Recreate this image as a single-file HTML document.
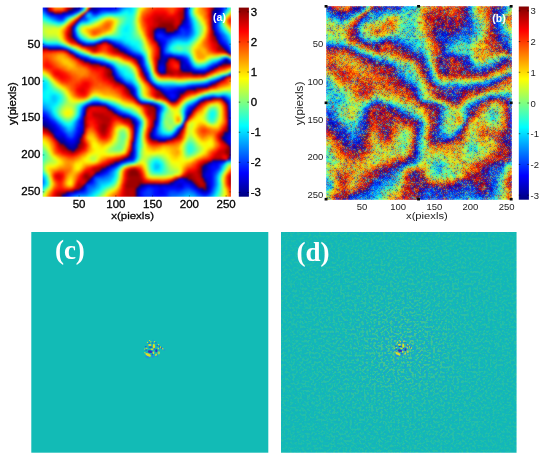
<!DOCTYPE html><html><head><meta charset="utf-8"><title>figure</title><style>html,body{margin:0;padding:0;background:#fff}svg{display:block}text{font-family:"Liberation Sans",Arial,sans-serif;fill:#000;stroke:#000;stroke-width:.3px}.n{stroke:none;fill:#1c1c1c}.s{font-family:"Liberation Serif","Times New Roman",serif;font-weight:bold;fill:#fff;stroke:none}.w{fill:#fff;font-weight:bold;stroke:none}</style></head><body>
<svg width="550" height="460" viewBox="0 0 550 460">
<defs>
<filter id="bl" x="30" y="0" width="215" height="210" filterUnits="userSpaceOnUse" color-interpolation-filters="sRGB"><feGaussianBlur stdDeviation="0.9"/></filter>
<filter id="nb" x="326.2" y="6.3" width="185.1" height="192.9" filterUnits="userSpaceOnUse" color-interpolation-filters="sRGB"><feTurbulence type="fractalNoise" baseFrequency="1.37" numOctaves="2" seed="7" result="t"/><feColorMatrix in="t" type="matrix" values="1 0 0 0 0 1 0 0 0 0 1 0 0 0 0 0 0 0 0 1" result="n0"/><feComponentTransfer in="n0" result="n"><feFuncR type="table" tableValues="0.250 0.250 0.250 0.250 0.250 0.250 0.250 0.250 0.250 0.250 0.281 0.319 0.352 0.380 0.405 0.426 0.444 0.460 0.474 0.487 0.500 0.513 0.526 0.540 0.556 0.574 0.595 0.620 0.648 0.681 0.719 0.750 0.750 0.750 0.750 0.750 0.750 0.750 0.750 0.750 0.750"/><feFuncG type="table" tableValues="0.250 0.250 0.250 0.250 0.250 0.250 0.250 0.250 0.250 0.250 0.281 0.319 0.352 0.380 0.405 0.426 0.444 0.460 0.474 0.487 0.500 0.513 0.526 0.540 0.556 0.574 0.595 0.620 0.648 0.681 0.719 0.750 0.750 0.750 0.750 0.750 0.750 0.750 0.750 0.750 0.750"/><feFuncB type="table" tableValues="0.250 0.250 0.250 0.250 0.250 0.250 0.250 0.250 0.250 0.250 0.281 0.319 0.352 0.380 0.405 0.426 0.444 0.460 0.474 0.487 0.500 0.513 0.526 0.540 0.556 0.574 0.595 0.620 0.648 0.681 0.719 0.750 0.750 0.750 0.750 0.750 0.750 0.750 0.750 0.750 0.750"/></feComponentTransfer><feComposite in="SourceGraphic" in2="n" operator="arithmetic" k1="0" k2="1" k3="1" k4="-0.5" result="s"/><feComponentTransfer in="s" result="c"><feFuncR type="table" tableValues="0.5 0.562 0.625 0.688 0.75 0.812 0.875 0.938 1 1 1 1 1 1 1 1 1 1 1 1 1 1 1 1 1 0.938 0.875 0.812 0.75 0.688 0.625 0.562 0 0 0 0 0 0 0 0 0 0 0 0 0 0 0 0 0 0 0 0 0 0 0 0 0 0.062 0.125 0.188 0.25 0.312 0.375 0.438 0.5 0.562 0.625 0.688 0.75 0.812 0.875 0.938 1 1 1 1 1 1 1 1 1 1 1 1 1 1 1 1 1 0.938 0.875 0.812 0.75 0.688 0.625 0.562 0 0 0 0 0 0 0 0 0 0 0 0 0 0 0 0 0 0 0 0 0 0 0 0 0 0.062 0.125 0.188 0.25 0.312 0.375 0.438 0.5"/><feFuncG type="table" tableValues="1 1 1 1 1 1 1 1 1 0.938 0.875 0.812 0.75 0.688 0.625 0.562 0.5 0.438 0.375 0.312 0.25 0.188 0.125 0.062 0 0 0 0 0 0 0 0 0 0 0 0 0 0 0 0 0 0.062 0.125 0.188 0.25 0.312 0.375 0.438 0.5 0.562 0.625 0.688 0.75 0.812 0.875 0.938 1 1 1 1 1 1 1 1 1 1 1 1 1 1 1 1 1 0.938 0.875 0.812 0.75 0.688 0.625 0.562 0.5 0.438 0.375 0.312 0.25 0.188 0.125 0.062 0 0 0 0 0 0 0 0 0 0 0 0 0 0 0 0 0 0.062 0.125 0.188 0.25 0.312 0.375 0.438 0.5 0.562 0.625 0.688 0.75 0.812 0.875 0.938 1 1 1 1 1 1 1 1 1"/><feFuncB type="table" tableValues="0.5 0.438 0.375 0.312 0.25 0.188 0.125 0.062 0 0 0 0 0 0 0 0 0 0 0 0 0 0 0 0 0 0 0 0 0 0 0 0 0.5 0.562 0.625 0.688 0.75 0.812 0.875 0.938 1 1 1 1 1 1 1 1 1 1 1 1 1 1 1 1 1 0.938 0.875 0.812 0.75 0.688 0.625 0.562 0.5 0.438 0.375 0.312 0.25 0.188 0.125 0.062 0 0 0 0 0 0 0 0 0 0 0 0 0 0 0 0 0 0 0 0 0 0 0 0 0.5 0.562 0.625 0.688 0.75 0.812 0.875 0.938 1 1 1 1 1 1 1 1 1 1 1 1 1 1 1 1 1 0.938 0.875 0.812 0.75 0.688 0.625 0.562 0.5"/></feComponentTransfer><feGaussianBlur in="c" stdDeviation="0.8" result="g"/><feComposite in="c" in2="g" operator="arithmetic" k1="0" k2="0.3" k3="0.7" k4="0"/></filter>
<filter id="bb" x="-16" y="-14" width="34" height="30" filterUnits="userSpaceOnUse" color-interpolation-filters="sRGB"><feGaussianBlur stdDeviation="0.45"/></filter>
<filter id="nd" x="281" y="232" width="235.5" height="220.7" filterUnits="userSpaceOnUse" color-interpolation-filters="sRGB"><feTurbulence type="fractalNoise" baseFrequency="0.42" numOctaves="3" seed="11"/><feColorMatrix type="matrix" values="3.2 0 0 0 -1.1 3.2 0 0 0 -1.1 3.2 0 0 0 -1.1 0 0 0 0 1"/><feComponentTransfer><feFuncR type="table" tableValues="0.16 0.07 0.5"/><feFuncG type="table" tableValues="0.56 0.733 0.8"/><feFuncB type="table" tableValues="0.88 0.714 0.43"/></feComponentTransfer><feGaussianBlur stdDeviation="0.6"/></filter>
<radialGradient id="rg" gradientUnits="userSpaceOnUse" cx="402.5" cy="348" r="160"><stop offset="0" stop-color="#fff" stop-opacity="0.7"/><stop offset="0.1" stop-color="#fff" stop-opacity="0.52"/><stop offset="0.35" stop-color="#fff" stop-opacity="0.28"/><stop offset="1" stop-color="#fff" stop-opacity="0.12"/></radialGradient><mask id="md" maskUnits="userSpaceOnUse" x="281" y="232" width="236" height="221"><rect x="281" y="232" width="236" height="221" fill="url(#rg)"/></mask>
</defs>
<rect width="550" height="460" fill="#fff"/>
<clipPath id="ca"><rect x="42.7" y="7.6" width="188.2" height="189.1"/></clipPath>
<g clip-path="url(#ca)"><g filter="url(#bl)"><g transform="translate(40,7) scale(2)" stroke-width="1" shape-rendering="crispEdges" fill="none">
<path stroke="#00008a" d="M17 0h2M87 0h1M16 1h2M25 1h1M72 1h1M87 1h1M14 2h2M72 2h1M86 2h1M6 3h1M11 3h1M72 3h1M71 7h1M70 9h1M69 10h1M61 11h2M86 11h1M57 12h1M62 12h1M67 12h1M63 13h3M87 14h1M16 15h1M57 16h1M19 18h1M30 18h1M34 18h1M21 19h1M59 19h1M37 20h1M4 21h7M39 21h1M40 22h1M60 22h1M93 22h1M15 23h1M42 23h1M60 23h1M44 24h1M60 24h1M18 25h1M46 25h1M60 25h1M20 26h1M63 26h1M68 26h1M22 27h1M59 27h1M63 27h1M93 27h1M25 28h1M49 28h1M59 28h1M70 28h1M92 28h2M30 29h1M70 29h1M90 29h1M33 30h1M50 30h1M70 30h1M88 30h1M70 31h1M86 31h1M71 32h2M62 33h1M76 33h3M36 34h1M37 36h1M91 36h1M38 37h1M40 38h1M43 40h1M83 40h1M44 41h1M58 41h1M76 41h2M45 43h1M70 43h2M69 45h1M85 46h1M91 46h1M65 47h1M67 47h1M81 47h1M92 47h1M93 48h1M26 49h4M55 49h1M33 50h1M57 50h1M34 51h1M22 53h1M37 53h1M75 53h1M22 54h1M74 54h1M41 55h1M73 56h1M46 57h1M57 57h1M46 58h1M0 59h3M2 60h2M71 60h1M94 60h1M4 61h1M94 61h1M5 62h1M94 62h1M21 63h1M55 63h1M69 63h1M92 63h2M55 64h1M7 65h1M20 65h1M55 65h1M91 65h1M8 66h1M91 66h1M9 67h1M59 67h4M92 67h1M10 68h2M19 68h1M46 68h1M12 69h1M18 69h1M94 69h1M13 70h1M18 70h1M14 71h2M17 71h1M16 72h1M45 73h1M44 75h1M42 76h1M94 76h1M37 78h1M84 78h1M35 79h1M82 79h1M33 80h1M81 80h2M31 81h1M81 81h1M30 82h1M81 82h1M28 83h1M81 85h1M73 86h1M24 87h1M75 87h1M82 87h1M65 88h1M22 89h1M50 89h2M21 90h1M49 90h1M83 90h1M48 91h1M81 91h1M83 91h1M17 92h1M48 92h1M13 93h1M48 93h1M11 94h1M48 94h1M48 95h1"/>
<path stroke="#00009f" d="M3 0h1M26 0h1M88 0h1M3 1h1M18 1h1M26 1h2M88 1h1M16 2h1M87 2h2M12 3h1M86 3h1M72 4h1M86 4h1M72 5h1M86 5h1M72 6h1M71 8h1M86 9h1M16 10h1M86 10h1M58 11h3M57 13h1M66 13h1M87 13h1M16 14h1M57 15h1M17 16h1M88 16h1M58 17h1M59 18h1M89 18h1M27 19h1M36 19h1M90 19h1M38 20h1M91 20h1M60 21h1M92 21h1M41 22h1M94 23h1M65 25h1M48 26h1M60 26h1M69 26h1M23 27h1M49 27h1M60 27h1M62 27h1M70 27h1M92 27h1M26 28h2M62 28h1M94 28h1M31 29h1M62 29h1M35 31h1M51 32h1M62 32h1M73 32h2M84 32h1M36 33h1M60 33h2M79 33h4M52 34h1M53 36h1M39 37h1M89 37h1M42 39h1M85 39h1M57 40h1M81 40h2M74 41h2M45 42h1M60 42h1M71 42h2M61 43h1M46 44h1M62 44h1M69 44h1M63 45h1M64 46h1M68 46h1M66 47h1M79 48h1M25 49h1M30 49h1M56 49h1M78 49h1M23 50h1M77 50h1M58 51h1M76 51h1M36 52h1M94 53h1M94 54h1M42 55h1M94 55h1M45 56h1M94 56h1M94 57h1M0 58h3M57 58h1M94 58h1M3 59h1M94 59h1M4 60h1M5 61h1M56 61h1M6 62h1M21 62h1M47 62h1M6 63h1M68 64h1M92 64h1M67 65h1M92 65h1M9 66h1M19 66h1M56 66h1M92 66h1M10 67h2M19 67h1M12 68h1M18 68h1M93 68h1M13 69h1M46 69h1M14 70h1M17 70h1M16 71h1M95 71h1M95 72h1M95 73h1M45 74h1M40 77h1M86 77h3M38 78h1M36 79h1M83 79h1M32 81h1M82 81h1M82 82h1M29 83h1M81 83h1M27 84h1M81 84h1M25 86h1M72 86h1M82 86h1M67 87h1M74 87h1M23 88h1M66 88h1M76 88h1M52 89h1M59 89h2M77 89h1M83 89h1M50 90h1M78 90h1M20 91h1M49 91h1M80 91h1M81 92h2M12 94h1M11 95h1"/>
<path stroke="#0000b5" d="M19 0h1M27 0h2M89 0h1M28 1h1M89 1h1M17 2h1M27 2h1M89 2h1M5 3h1M13 3h3M87 3h2M86 6h1M72 7h1M86 7h1M86 8h1M16 11h1M16 12h1M58 12h1M61 12h1M68 12h1M16 13h1M62 13h1M67 13h1M57 14h1M88 15h1M18 17h1M22 19h1M26 19h1M60 19h1M60 20h1M11 21h1M40 21h1M42 22h1M43 23h1M17 24h1M45 24h1M19 25h1M47 25h1M61 25h1M64 25h1M66 25h1M21 26h2M49 26h1M61 26h2M24 27h1M61 27h1M28 28h1M60 28h2M71 28h1M91 28h1M95 28h1M50 29h1M59 29h1M89 29h1M34 30h1M62 30h1M73 30h1M87 30h1M51 31h1M62 31h1M71 31h4M36 32h1M59 32h1M75 32h1M96 34h1M37 35h1M38 36h1M87 38h1M56 39h1M79 40h2M45 41h1M59 41h1M73 41h1M46 42h1M69 42h2M46 43h1M69 43h1M47 45h1M84 46h1M80 47h1M50 48h1M58 50h1M22 52h1M58 52h1M75 52h1M94 52h1M74 53h1M39 54h1M43 55h1M0 57h3M3 58h1M21 58h1M47 58h1M4 59h1M47 59h1M57 59h1M5 60h1M47 60h1M6 61h1M47 61h1M70 61h1M56 62h1M47 63h1M94 63h1M7 64h1M20 64h1M93 64h1M8 65h1M19 65h1M56 65h1M93 65h1M10 66h2M57 66h1M65 66h1M12 67h1M18 67h1M93 67h1M13 68h1M14 69h1M16 69h2M15 70h2M46 70h1M95 70h1M46 71h1M46 72h1M95 74h1M45 75h1M43 76h1M41 77h1M89 77h4M85 78h1M34 80h1M83 80h1M83 81h1M31 82h1M82 83h1M26 85h1M69 86h1M73 87h1M83 87h1M75 88h1M83 88h1M53 89h1M55 89h4M61 89h5M51 90h1M84 90h1M21 91h1M79 91h1M18 92h1M49 92h1M83 92h1M14 93h1"/>
<path stroke="#0000ca" d="M29 0h7M19 1h1M29 1h1M24 2h1M26 2h1M28 2h1M89 3h1M87 4h1M72 8h1M17 9h1M71 9h1M69 11h1M59 12h2M87 12h1M63 14h2M88 14h1M58 16h1M32 17h1M59 17h1M89 17h1M20 18h1M29 18h1M35 18h1M60 18h1M23 19h3M37 19h1M91 19h1M0 20h1M39 20h1M92 20h1M93 21h1M14 22h1M61 24h1M48 25h1M62 25h2M67 25h1M50 26h1M70 26h1M93 26h1M50 27h1M71 27h1M94 27h1M50 28h1M72 28h1M96 28h1M32 29h1M60 29h2M71 29h3M59 30h1M71 30h2M74 30h1M59 31h1M85 31h1M61 32h1M76 32h1M83 32h1M52 33h1M37 34h1M53 35h1M54 37h1M41 38h1M55 38h1M86 38h1M84 39h1M44 40h1M77 40h2M61 42h1M62 43h1M68 43h1M63 44h1M68 44h1M68 45h1M48 46h1M67 46h1M83 46h1M92 46h1M31 49h1M57 49h1M22 51h1M35 51h1M94 51h1M38 53h1M58 53h1M40 54h1M58 54h1M44 55h1M58 55h1M73 55h1M0 56h2M21 56h1M58 56h1M3 57h1M21 57h1M47 57h1M58 57h1M4 58h1M5 59h1M21 59h1M6 60h1M21 60h1M57 60h1M7 61h1M21 61h1M95 61h1M7 62h1M69 62h1M95 62h1M7 63h1M20 63h1M56 63h1M19 64h1M47 64h1M56 64h1M94 64h1M9 65h3M12 66h1M18 66h1M58 66h1M64 66h1M93 66h1M14 68h1M17 68h1M94 68h1M15 69h1M95 69h1M46 73h1M46 74h1M95 75h1M44 76h1M42 77h1M39 78h1M37 79h1M84 79h1M33 81h1M32 82h1M83 82h1M30 83h1M82 84h1M82 85h1M71 86h1M83 86h1M25 87h1M68 87h1M72 87h1M67 88h1M74 88h1M84 88h1M54 89h1M66 89h1M69 89h2M76 89h1M84 89h1M77 90h1M50 91h1M84 91h1M19 92h1M80 92h1M49 93h1M13 94h1M49 94h1M12 95h1M49 95h1"/>
<path stroke="#0000df" d="M2 0h1M36 0h1M73 0h1M90 0h1M30 1h1M90 1h1M3 2h1M18 2h1M90 2h1M4 3h1M8 4h4M88 4h1M87 5h1M73 6h1M87 6h1M73 7h1M73 8h1M72 9h1M87 11h1M58 13h1M61 13h1M68 13h1M88 13h1M65 14h1M17 15h1M89 15h1M89 16h1M33 17h1M90 18h1M1 20h1M12 21h1M41 21h1M94 22h1M16 23h1M44 23h1M61 23h1M46 24h1M49 25h1M68 25h1M23 26h1M71 26h1M25 27h1M72 27h1M29 28h1M90 28h1M33 29h1M88 29h1M35 30h1M51 30h1M60 30h2M86 30h1M61 31h1M75 31h1M60 32h1M77 32h2M95 34h1M92 35h1M39 36h1M90 36h1M40 37h1M88 37h1M43 39h1M45 40h1M58 40h1M76 40h1M46 41h1M60 41h1M71 41h2M68 42h1M63 43h1M67 43h1M64 45h1M65 46h2M82 46h1M49 47h1M93 47h1M51 48h1M24 49h1M32 49h1M34 50h1M76 50h1M94 50h1M75 51h1M37 52h1M74 52h1M41 54h1M73 54h1M0 55h2M21 55h1M2 56h2M46 56h1M4 57h1M72 57h1M5 58h1M6 59h1M7 60h1M95 60h1M8 61h1M20 61h1M8 62h1M20 62h1M8 63h1M19 63h1M68 63h1M95 63h1M8 64h3M95 64h1M18 65h1M47 65h1M57 65h1M94 65h1M59 66h2M63 66h1M94 66h1M13 67h1M17 67h1M94 67h1M15 68h2M95 68h1M96 70h1M96 71h1M96 72h1M96 73h1M46 75h1M45 76h1M86 78h3M85 79h1M35 80h1M84 80h1M84 81h1M84 82h1M31 83h1M83 83h2M28 84h1M83 84h1M83 85h2M70 86h1M84 86h1M69 87h1M84 87h1M24 88h1M68 88h4M73 88h1M67 89h2M75 89h1M22 90h1M52 90h1M59 90h2M63 90h1M68 90h3M78 91h1M20 92h1M79 92h1M84 92h1M15 93h2M81 93h3"/>
<path stroke="#0000f4" d="M37 0h1M2 1h1M31 1h5M73 1h1M25 2h1M29 2h1M73 2h1M16 3h1M27 3h1M6 4h2M12 4h1M73 4h1M89 4h1M21 5h1M73 5h1M88 5h1M20 6h1M19 7h1M87 7h1M18 8h1M87 8h1M73 9h1M87 9h1M70 10h4M87 10h1M69 12h1M59 13h2M62 14h1M66 14h1M89 14h1M58 15h1M18 16h1M59 16h1M31 17h1M60 17h1M90 17h1M36 18h1M61 18h1M91 18h1M38 19h1M61 19h1M92 19h1M2 20h1M40 20h1M61 20h1M93 20h1M42 21h1M61 21h1M43 22h1M61 22h1M95 23h1M18 24h1M62 24h1M20 25h1M69 25h1M92 26h1M26 27h1M91 27h1M30 28h1M73 28h1M74 29h1M36 31h1M60 31h1M84 31h1M52 32h1M79 32h1M81 32h2M37 33h1M53 34h1M38 35h1M85 38h1M83 39h1M75 40h1M69 41h2M62 42h1M66 42h2M64 43h3M47 44h1M64 44h1M67 44h1M65 45h1M67 45h1M52 48h1M77 49h1M94 49h1M36 51h1M59 51h1M73 53h1M0 54h1M21 54h1M42 54h1M2 55h1M20 57h1M20 58h1M48 58h1M58 58h1M95 58h1M7 59h1M20 59h1M48 59h1M71 59h1M95 59h1M20 60h1M19 61h1M57 61h1M9 62h1M19 62h1M9 63h2M11 64h1M18 64h1M67 64h1M12 65h1M66 65h1M95 65h1M13 66h1M17 66h1M47 66h1M61 66h2M95 66h1M14 67h3M95 67h1M96 69h1M96 74h1M43 77h1M89 78h1M38 79h1M86 79h3M36 80h1M85 80h1M34 81h1M85 81h1M33 82h1M85 82h1M85 83h1M29 84h1M84 84h2M85 85h1M26 86h1M85 86h1M70 87h2M85 87h1M72 88h1M85 88h1M71 89h1M85 89h1M53 90h1M56 90h3M61 90h2M64 90h4M71 90h1M76 90h1M85 90h1M22 91h1M51 91h1M59 91h3M77 91h1M21 92h1M50 92h1M59 92h3M17 93h1M59 93h3M80 93h1M14 94h1M50 94h1M13 95h1M50 95h1"/>
<path stroke="#000bff" d="M20 0h1M38 0h1M91 0h1M36 1h2M26 3h1M28 3h1M73 3h1M90 3h1M5 4h1M13 4h1M9 5h3M88 6h1M74 10h1M72 11h2M88 12h1M69 13h1M17 14h1M58 14h1M61 14h1M67 14h1M62 15h3M60 16h2M90 16h1M19 17h1M34 17h1M61 17h2M21 18h1M28 18h1M62 18h1M39 19h1M3 20h2M94 21h1M45 23h1M47 24h1M63 24h3M50 25h1M70 25h1M72 26h1M27 27h1M73 27h1M51 28h1M89 28h1M34 29h1M51 29h1M87 29h1M75 30h1M85 30h1M52 31h1M76 31h1M80 32h1M53 33h1M54 36h1M42 38h1M44 39h1M57 39h1M82 39h1M74 40h1M61 41h1M67 41h2M47 42h1M63 42h3M47 43h1M65 44h2M66 45h1M86 45h1M91 45h1M81 46h1M79 47h1M26 48h4M53 48h2M78 48h1M94 48h1M58 49h1M22 50h1M59 50h1M75 50h1M74 51h1M59 52h1M21 53h1M39 53h1M95 53h1M1 54h2M95 54h1M3 55h1M45 55h1M95 55h1M4 56h1M47 56h1M95 56h1M5 57h1M95 57h1M6 58h1M58 59h1M8 60h1M19 60h1M48 60h1M9 61h1M69 61h1M96 61h1M10 62h1M57 62h1M96 62h1M11 63h1M18 63h1M57 63h1M96 63h1M12 64h1M57 64h1M17 65h1M58 65h1M14 66h1M16 66h1M47 67h1M96 68h1M46 76h1M95 76h1M40 78h1M90 78h1M86 80h3M86 81h2M86 82h1M32 83h1M30 84h1M26 87h1M25 88h1M72 89h3M54 90h2M75 90h1M52 91h1M57 91h2M62 91h9M85 91h1M51 92h1M57 92h2M62 92h2M78 92h1M18 93h1M50 93h1M57 93h2M62 93h1M84 93h1M57 94h6M82 94h1M51 95h1M58 95h3"/>
<path stroke="#0020ff" d="M1 0h1M39 0h1M20 1h1M38 1h1M91 1h1M2 2h1M19 2h1M30 2h1M3 3h1M14 4h1M22 4h1M8 5h1M89 5h1M10 6h1M74 7h1M88 7h1M74 8h1M74 9h1M17 10h1M70 11h2M74 11h1M88 11h1M70 12h1M72 12h3M17 13h1M70 13h1M73 13h1M89 13h1M59 14h2M68 14h1M59 15h3M65 15h1M90 15h1M62 16h2M91 17h1M37 18h1M92 18h1M62 19h1M93 19h1M5 20h5M41 20h1M13 21h1M15 22h1M44 22h1M96 23h1M48 24h1M21 25h1M71 25h1M24 26h1M73 26h1M51 27h1M31 28h1M74 28h1M83 31h1M37 32h1M38 34h1M40 36h1M41 37h1M87 37h1M80 39h2M46 40h1M59 40h1M73 40h1M62 41h1M65 41h2M48 45h1M85 45h1M87 45h1M90 45h1M93 46h1M94 47h1M55 48h1M23 49h1M33 49h1M35 50h1M21 52h1M38 52h1M73 52h1M95 52h1M0 53h2M40 53h1M59 53h1M43 54h1M20 56h1M6 57h1M48 57h1M7 58h1M19 58h1M8 59h1M19 59h1M9 60h1M70 60h1M96 60h1M18 61h1M48 61h1M18 62h1M48 62h1M17 64h1M96 64h1M13 65h1M59 65h1M65 65h1M96 65h1M15 66h1M96 66h1M96 67h1M47 68h1M47 72h1M47 73h1M96 75h1M44 77h1M89 79h1M37 80h1M89 80h1M35 81h1M88 81h1M34 82h1M87 82h1M33 83h1M86 83h1M31 84h1M86 84h1M27 85h1M86 85h1M86 86h1M86 87h1M26 88h1M86 88h1M23 89h1M86 89h1M72 90h3M53 91h1M55 91h2M71 91h1M76 91h1M22 92h1M52 92h1M56 92h1M64 92h1M68 92h2M85 92h1M19 93h1M51 93h1M56 93h1M63 93h1M79 93h1M15 94h1M51 94h1M56 94h1M63 94h1M81 94h1M83 94h1M14 95h1M52 95h1M56 95h2M61 95h2"/>
<path stroke="#0035ff" d="M1 1h1M31 2h5M91 2h1M17 3h1M23 3h1M29 3h1M4 4h1M7 5h1M12 5h1M9 6h1M11 6h1M21 6h2M74 6h1M89 6h1M88 8h1M88 9h1M88 10h1M71 12h1M71 13h2M74 13h1M69 14h2M72 14h2M90 14h1M66 15h1M64 16h1M91 16h1M30 17h1M35 17h1M63 17h1M92 17h1M22 18h1M27 18h1M0 19h1M40 19h1M10 20h1M62 20h1M94 20h1M43 21h1M17 23h1M46 23h1M62 23h1M19 24h1M49 24h1M66 24h1M22 25h1M51 26h1M28 27h1M90 27h1M95 27h1M32 28h1M86 29h1M36 30h1M52 30h1M84 30h1M77 31h1M94 34h1M39 35h1M54 35h1M91 35h1M89 36h1M55 37h1M56 38h1M84 38h1M45 39h1M78 39h2M60 40h1M72 40h1M47 41h1M63 41h2M84 45h1M88 45h1M92 45h1M25 48h1M30 48h1M76 49h1M74 50h1M21 51h1M37 51h1M95 51h1M0 52h1M2 53h1M3 54h1M44 54h1M59 54h1M4 55h1M20 55h1M46 55h1M59 55h1M5 56h1M19 57h1M96 59h1M18 60h1M58 60h1M10 61h1M11 62h1M68 62h1M12 63h1M17 63h1M48 63h1M13 64h1M58 64h1M14 65h1M16 65h1M60 65h1M47 69h1M47 70h1M47 71h1M47 74h1M47 75h1M45 77h1M41 78h1M91 78h1M39 79h1M87 83h1M32 84h1M28 85h2M24 89h2M23 90h1M86 90h1M23 91h1M54 91h1M72 91h1M75 91h1M53 92h3M65 92h3M70 92h1M77 92h1M20 93h2M52 93h2M55 93h1M64 93h1M78 93h1M16 94h1M52 94h4M80 94h1M53 95h3M63 95h1"/>
<path stroke="#004aff" d="M0 0h1M40 0h1M92 0h1M39 1h1M36 2h2M15 4h1M27 4h1M90 4h1M6 5h1M22 5h1M74 5h1M8 6h1M20 7h1M89 7h1M75 9h1M75 10h1M17 11h1M75 11h1M17 12h1M75 12h1M89 12h1M71 14h1M74 14h1M18 15h1M67 15h2M91 15h1M65 16h1M20 17h1M38 18h1M63 18h1M93 18h1M42 20h1M62 21h1M45 22h1M62 22h1M95 22h1M47 23h1M67 24h1M72 25h1M25 26h1M94 26h1M29 27h1M74 27h1M88 28h1M35 29h1M75 29h1M37 31h1M82 31h1M53 32h1M38 33h1M54 34h1M86 37h1M43 38h1M76 39h2M68 40h4M89 45h1M80 46h1M50 47h1M56 48h1M77 48h1M95 49h1M60 50h1M95 50h1M60 51h1M73 51h1M1 52h1M39 52h1M3 53h1M41 53h1M4 54h1M59 56h1M72 56h1M7 57h1M59 57h1M8 58h1M49 58h1M96 58h1M9 59h1M18 59h1M10 60h1M11 61h1M58 61h1M17 62h1M58 62h1M58 63h1M67 63h1M16 64h1M48 64h1M66 64h1M15 65h1M61 65h4M46 77h1M90 79h1M36 81h1M89 81h1M35 82h1M88 82h1M34 83h1M33 84h1M87 84h1M30 85h2M27 86h1M0 87h1M27 87h1M0 88h1M27 88h1M26 89h1M24 90h1M73 91h2M86 91h1M23 92h1M71 92h1M76 92h1M22 93h1M54 93h1M65 93h5M85 93h1M17 94h1M64 94h1M79 94h1M84 94h1M15 95h1M64 95h1M81 95h2"/>
<path stroke="#0060ff" d="M74 0h1M0 1h1M92 1h1M1 2h1M38 2h1M2 3h1M25 3h1M30 3h1M91 3h1M3 4h1M26 4h1M28 4h1M74 4h1M5 5h1M7 6h1M23 6h1M75 8h1M18 9h1M89 11h1M75 13h1M90 13h1M91 14h1M69 15h5M19 16h1M92 16h1M36 17h1M64 17h1M93 17h1M23 18h4M39 18h1M1 19h1M41 19h1M63 19h1M94 19h1M11 20h1M44 21h1M63 23h1M50 24h1M68 24h1M23 25h1M51 25h1M91 26h1M33 28h1M52 29h1M85 29h1M76 30h1M78 31h4M39 34h1M40 35h1M41 36h1M42 37h1M44 38h1M83 38h1M46 39h1M58 39h1M75 39h1M61 40h7M48 44h1M83 45h1M49 46h1M94 46h1M31 48h1M95 48h1M34 49h1M59 49h1M75 49h1M21 50h1M36 50h1M0 51h1M2 52h1M60 52h1M42 53h1M20 54h1M5 55h1M6 56h1M19 56h1M48 56h1M96 57h1M18 58h1M59 58h1M49 59h1M17 61h1M12 62h1M13 63h1M16 63h1M14 64h2M59 64h1M48 65h1M47 76h1M93 77h1M42 78h1M38 80h1M88 83h1M34 84h1M32 85h1M87 85h1M0 86h1M28 86h1M87 86h1M87 87h1M87 88h1M27 89h1M87 89h1M25 90h2M24 91h1M72 92h2M75 92h1M86 92h1M23 93h1M70 93h2M77 93h1M18 94h1M65 94h4M78 94h1M65 95h1M80 95h1M83 95h1"/>
<path stroke="#0075ff" d="M21 0h1M41 0h1M40 1h1M74 1h1M39 2h1M74 2h1M18 3h1M31 3h1M74 3h1M13 5h1M90 5h1M9 7h2M21 7h2M75 7h1M19 8h1M89 8h1M89 10h1M75 14h1M74 15h1M92 15h1M66 16h2M29 17h1M37 17h1M65 17h1M40 18h1M64 18h1M2 19h1M43 20h1M63 20h1M14 21h1M95 21h1M16 22h1M46 22h1M96 22h1M48 23h1M64 23h1M20 24h1M69 24h2M73 25h1M26 26h1M74 26h1M30 27h1M89 27h1M96 27h1M52 28h1M75 28h1M87 28h1M83 30h1M53 31h1M38 32h1M54 33h1M96 33h1M55 36h1M88 36h1M85 37h1M45 38h1M74 39h1M47 40h1M48 43h1M82 45h1M93 45h1M78 47h1M95 47h1M24 48h1M32 48h1M22 49h1M1 51h1M38 51h1M3 52h1M40 52h1M96 52h1M4 53h1M20 53h1M72 53h1M96 53h1M45 54h1M72 54h1M96 54h1M47 55h1M72 55h1M96 55h1M96 56h1M18 57h1M49 57h1M71 58h1M10 59h1M59 59h1M11 60h1M17 60h1M49 60h1M12 61h1M16 62h1M14 63h2M60 64h1M48 66h1M96 76h1M94 77h1M90 80h1M37 81h1M36 82h1M89 82h1M35 83h1M0 85h1M33 85h1M29 86h3M1 87h1M28 87h1M1 88h1M28 88h1M0 89h1M27 90h1M87 90h1M25 91h1M24 92h1M74 92h1M72 93h1M76 93h1M86 93h1M19 94h4M69 94h2M85 94h1M16 95h1M66 95h2M79 95h1M84 95h1"/>
<path stroke="#008aff" d="M42 0h1M21 1h1M0 2h1M92 2h1M1 3h1M24 3h1M32 3h1M16 4h1M29 4h1M4 5h1M6 6h1M12 6h1M75 6h1M8 7h1M11 7h1M23 7h1M89 9h1M76 11h1M76 12h1M90 12h1M76 13h1M91 13h1M18 14h1M92 14h1M32 16h2M68 16h6M93 16h1M21 17h1M38 17h1M94 18h1M3 19h1M42 19h1M44 20h1M95 20h1M45 21h1M63 21h1M63 22h1M18 23h1M49 23h1M65 23h1M71 24h1M27 26h1M31 27h1M52 27h1M34 28h1M86 28h1M36 29h1M37 30h1M39 33h1M43 37h1M82 38h1M59 39h1M73 39h1M48 42h1M27 47h2M51 47h1M57 48h1M76 48h1M74 49h1M0 50h2M37 50h1M73 50h1M2 51h1M96 51h1M20 52h1M72 52h1M43 53h1M60 53h1M5 54h1M6 55h1M7 56h1M8 57h1M9 58h1M17 59h1M59 60h1M49 61h1M68 61h1M13 62h1M59 63h1M48 67h1M48 68h1M92 78h1M40 79h1M91 79h1M90 81h1M35 84h1M88 84h1M34 85h1M1 86h1M32 86h2M29 87h1M28 89h1M0 90h1M26 91h1M87 91h1M25 92h1M24 93h1M73 93h3M23 94h1M71 94h1M77 94h1M17 95h1M68 95h2M78 95h1"/>
<path stroke="#009fff" d="M43 0h1M93 0h1M41 1h1M20 2h1M40 2h1M33 3h5M2 4h1M23 4h1M25 4h1M23 5h1M26 5h2M5 6h1M24 6h1M90 6h1M76 9h1M76 10h1M90 11h1M76 14h1M75 15h1M93 15h1M34 16h1M74 16h1M39 17h1M66 17h1M94 17h1M0 18h1M41 18h1M65 18h1M4 19h5M43 19h1M64 19h1M12 20h1M47 22h1M21 24h1M72 24h1M24 25h1M76 29h1M84 29h1M53 30h1M77 30h1M82 30h1M38 31h1M40 34h1M41 35h1M90 35h1M42 36h1M44 37h1M56 37h1M57 38h1M81 38h1M60 39h1M48 41h1M94 45h1M79 46h1M95 46h1M26 47h1M29 47h1M52 47h1M96 48h1M0 49h1M35 49h1M96 49h1M2 50h1M61 50h1M96 50h1M3 51h1M20 51h1M39 51h1M61 51h1M4 52h1M41 52h1M5 53h1M60 54h1M19 55h1M17 58h1M12 60h1M69 60h1M13 61h1M16 61h1M59 61h1M14 62h2M49 62h1M59 62h1M61 64h2M65 64h1M48 69h1M48 70h1M48 71h1M48 72h1M48 73h1M48 74h1M95 77h1M43 78h1M36 83h1M0 84h1M36 84h1M35 85h1M88 85h1M34 86h1M88 86h1M30 87h3M88 87h1M29 88h1M88 88h1M1 89h1M29 89h1M88 89h1M28 90h1M27 91h1M26 92h1M87 92h1M25 93h1M72 94h2M75 94h2M86 94h1M18 95h3M70 95h2M77 95h1M85 95h1"/>
<path stroke="#00b5ff" d="M44 0h1M42 1h1M93 1h1M0 3h1M38 3h1M30 4h1M91 4h1M3 5h1M14 5h1M24 5h2M28 5h1M75 5h1M7 7h1M90 7h1M76 8h1M91 12h1M18 13h1M19 15h1M20 16h1M31 16h1M35 16h1M22 17h1M28 17h1M40 17h1M67 17h1M71 17h3M9 19h1M95 19h1M45 20h1M64 20h1M46 21h1M96 21h1M48 22h1M64 22h1M50 23h1M66 23h1M51 24h1M73 24h1M74 25h1M28 26h1M52 26h1M90 26h1M32 27h1M75 27h1M88 27h1M81 30h1M39 32h1M54 32h1M93 34h1M55 35h1M87 36h1M45 37h1M84 37h1M46 38h1M80 38h1M47 39h1M61 39h7M71 39h2M86 44h1M91 44h2M49 45h1M81 45h1M96 47h1M0 48h1M23 48h1M33 48h1M1 49h2M60 49h1M3 50h1M4 51h1M72 51h1M5 52h1M61 52h1M44 53h1M6 54h1M46 54h1M60 55h1M18 56h1M49 56h1M60 56h1M9 57h1M10 58h1M50 58h1M11 59h1M16 60h1M15 61h1M67 62h1M49 63h1M60 63h1M66 63h1M63 64h2M48 75h1M47 77h1M39 80h1M58 80h1M38 81h1M37 82h1M89 83h1M1 85h1M36 85h1M35 86h1M2 87h1M33 87h2M2 88h1M30 88h2M29 90h1M88 90h1M28 91h1M27 92h1M87 93h1M24 94h1M74 94h1M21 95h2M72 95h1M76 95h1"/>
<path stroke="#00caff" d="M45 0h1M75 0h1M43 1h2M41 2h1M39 3h1M92 3h1M1 4h1M24 4h1M2 5h1M4 6h1M25 6h1M6 7h1M24 7h1M76 7h1M20 8h1M18 10h1M90 10h1M77 12h1M77 13h1M92 13h1M93 14h1M76 15h1M36 16h2M75 16h1M94 16h1M41 17h1M68 17h3M1 18h1M42 18h1M66 18h1M95 18h1M44 19h1M65 19h1M46 20h1M15 21h1M47 21h1M64 21h1M17 22h1M49 22h1M19 23h1M67 23h2M29 26h1M35 28h1M85 28h1M53 29h1M83 29h1M78 30h1M80 30h1M40 33h1M95 33h1M41 34h1M42 35h1M43 36h2M0 38h1M78 38h2M0 39h2M68 39h3M0 40h2M48 40h1M0 41h1M0 42h1M85 44h1M87 44h1M90 44h1M93 44h1M6 45h2M95 45h1M6 46h2M50 46h1M0 47h1M6 47h2M25 47h1M30 47h1M53 47h1M77 47h1M1 48h2M58 48h1M75 48h1M3 49h2M21 49h1M36 49h1M73 49h1M4 50h1M20 50h1M38 50h1M5 51h1M42 52h1M19 54h1M7 55h1M48 55h1M8 56h1M17 57h1M50 57h1M60 57h1M16 59h1M50 59h1M70 59h1M13 60h1M15 60h1M14 61h1M60 62h1M49 64h1M49 65h1M44 78h1M57 79h3M57 80h1M59 80h1M91 80h1M57 81h2M90 82h1M0 83h1M37 83h1M2 86h1M35 87h1M32 88h2M2 89h1M30 89h1M1 90h1M0 91h1M29 91h1M88 91h1M26 93h1M25 94h1M23 95h1M73 95h3M86 95h1"/>
<path stroke="#00dfff" d="M45 1h1M42 2h1M44 2h2M93 2h1M19 3h1M40 3h1M0 4h1M17 4h1M31 4h1M75 4h1M3 6h1M13 6h1M26 6h1M76 6h1M12 7h1M9 8h2M21 8h2M90 8h1M19 9h1M90 9h1M77 10h1M77 11h1M18 12h1M77 14h1M94 15h1M38 16h3M23 17h1M27 17h1M42 17h1M74 17h1M95 17h1M2 18h1M43 18h2M67 18h1M10 19h1M45 19h1M13 20h1M47 20h1M96 20h1M48 21h1M65 22h1M69 23h4M22 24h1M25 25h1M52 25h1M92 25h1M75 26h1M87 27h1M76 28h1M37 29h1M38 30h1M79 30h1M39 31h1M54 31h1M40 32h1M41 33h1M55 34h1M92 34h1M43 35h1M89 35h1M45 36h1M86 36h1M46 37h1M1 38h2M58 38h1M76 38h2M2 39h1M2 40h1M1 41h2M1 42h1M0 43h1M0 44h1M6 44h2M49 44h1M84 44h1M88 44h2M0 45h1M5 45h1M8 45h1M0 46h2M5 46h1M8 46h1M96 46h1M1 47h2M4 47h2M8 47h1M54 47h1M3 48h5M34 48h1M5 49h2M5 50h1M72 50h1M40 51h1M19 52h1M43 52h1M6 53h1M19 53h1M45 53h1M11 58h1M16 58h1M60 58h1M12 59h1M60 59h1M14 60h1M50 60h1M60 60h1M60 61h1M61 63h1M49 66h1M49 67h1M48 76h1M96 77h1M45 78h1M57 78h2M41 79h1M59 81h1M1 84h1M37 84h1M89 84h1M2 85h1M36 86h1M34 88h1M31 89h2M30 90h1M28 92h1M88 92h1M27 93h1M26 94h1M87 94h1M24 95h1"/>
<path stroke="#00f4ff" d="M46 0h1M94 0h1M46 1h1M75 1h1M43 2h1M46 2h1M75 2h1M41 3h1M44 3h2M75 3h1M32 4h1M1 5h1M15 5h1M29 5h1M91 5h1M27 6h1M5 7h1M25 7h1M8 8h1M23 8h1M77 8h1M77 9h1M43 10h1M18 11h1M42 11h2M91 11h1M42 12h2M19 14h1M41 15h2M21 16h1M30 16h1M41 16h2M76 16h1M0 17h1M24 17h3M43 17h2M75 17h1M45 18h1M68 18h6M46 19h2M66 19h1M96 19h1M48 20h1M65 20h1M49 21h1M51 23h1M74 24h1M93 25h1M30 26h1M95 26h1M33 27h1M86 27h1M36 28h1M53 28h1M84 28h1M77 29h1M41 32h1M42 34h1M44 35h1M56 36h1M0 37h2M83 37h1M3 38h1M47 38h1M75 38h1M3 39h1M3 40h1M3 41h1M2 42h1M1 43h2M5 43h1M49 43h1M1 44h2M4 44h2M8 44h1M94 44h1M1 45h2M4 45h1M9 45h1M80 45h1M2 46h3M9 46h1M3 47h1M31 47h1M8 48h1M74 48h1M7 49h1M37 49h1M61 49h1M6 50h1M39 50h1M6 51h1M19 51h1M62 51h1M6 52h1M61 53h1M7 54h1M47 54h1M8 55h1M18 55h1M9 56h1M10 57h1M71 57h1M13 59h1M15 59h1M62 63h1M65 63h1M49 68h1M49 69h1M49 70h1M58 77h1M59 78h1M56 79h1M60 79h1M92 79h1M56 80h1M60 80h1M56 81h1M60 81h1M91 81h1M38 82h1M57 82h3M37 85h1M89 85h1M36 87h1M3 88h1M35 88h1M89 88h1M33 89h1M89 89h1M31 90h1M30 91h1M29 92h1M28 93h1M88 93h1M25 95h1M87 95h1"/>
<path stroke="#0bfff4" d="M94 1h1M42 3h2M46 3h1M33 4h1M37 4h3M44 4h2M0 5h1M76 5h1M2 6h1M4 7h1M77 7h1M7 8h1M11 8h1M43 9h2M42 10h1M44 10h1M41 11h1M44 11h1M41 12h1M44 12h1M78 12h1M92 12h1M41 13h4M78 13h1M93 13h1M41 14h4M94 14h1M20 15h1M39 15h2M43 15h2M77 15h1M43 16h2M95 16h1M1 17h1M45 17h2M3 18h6M46 18h3M74 18h1M96 18h1M11 19h1M48 19h1M67 19h1M49 20h1M65 21h1M50 22h1M66 22h1M20 23h1M73 23h1M23 24h1M52 24h1M31 26h1M89 26h1M82 29h1M54 30h1M40 31h2M42 32h1M42 33h2M55 33h1M43 34h3M45 35h1M0 36h1M46 36h1M2 37h1M57 37h1M59 38h1M74 38h1M48 39h1M4 40h1M4 41h1M3 42h3M49 42h1M3 43h2M6 43h2M3 44h1M9 44h1M83 44h1M95 44h1M3 45h1M96 45h1M27 46h2M78 46h1M9 47h1M55 47h1M76 47h1M22 48h1M35 48h1M8 49h1M20 49h1M7 50h1M19 50h1M62 50h1M41 51h1M44 52h1M71 52h1M7 53h1M71 53h1M85 53h2M61 54h1M85 54h2M85 55h2M17 56h1M16 57h1M12 58h1M15 58h1M14 59h1M68 60h1M50 61h1M67 61h1M61 62h1M63 63h2M49 71h1M49 72h1M57 77h1M59 77h1M46 78h1M56 78h1M60 78h1M93 78h1M0 82h1M60 82h1M90 83h1M37 86h1M89 86h1M3 87h1M89 87h1M3 89h1M34 89h1M2 90h1M32 90h1M89 90h1M1 91h1M89 91h1M0 92h1M27 94h1M26 95h1"/>
<path stroke="#20ffdf" d="M22 0h1M47 0h1M47 1h1M21 2h1M34 4h3M40 4h4M46 4h1M92 4h1M30 5h1M43 5h3M1 6h1M28 6h1M44 6h2M3 7h1M26 7h1M43 7h3M6 8h1M24 8h1M43 8h3M42 9h1M45 9h1M41 10h1M45 10h1M78 10h1M91 10h1M45 11h1M78 11h1M40 12h1M45 12h1M40 13h1M45 13h1M40 14h1M45 14h1M78 14h1M33 15h6M45 15h1M22 16h1M29 16h1M45 16h2M47 17h2M49 18h1M49 19h1M68 19h1M70 19h4M66 20h1M16 21h1M50 21h1M66 21h1M18 22h1M67 22h2M71 22h2M26 25h1M75 25h1M91 25h1M34 27h1M53 27h1M85 27h1M38 29h1M81 29h1M39 30h1M42 31h1M43 32h1M44 33h1M91 34h1M46 35h1M88 35h1M1 36h1M85 36h1M3 37h1M47 37h1M82 37h1M60 38h7M73 38h1M4 39h1M5 41h1M49 41h1M6 42h1M8 43h1M10 45h1M10 46h1M26 46h1M51 46h1M10 47h1M24 47h1M32 47h1M9 48h1M59 48h1M38 49h1M7 51h1M71 51h1M7 52h1M62 52h1M86 52h1M46 53h1M87 53h1M8 54h1M18 54h1M48 54h1M71 54h1M87 54h1M49 55h1M61 55h1M10 56h1M50 56h1M85 56h2M11 57h1M13 58h2M61 61h1M50 62h1M66 62h1M74 70h2M74 71h2M74 72h2M49 73h1M0 74h1M49 74h1M0 75h1M49 75h1M0 76h1M48 77h1M56 77h1M55 79h1M61 79h1M40 80h1M55 80h1M61 80h1M0 81h1M39 81h1M61 81h1M56 82h1M1 83h1M38 83h1M2 84h1M38 84h1M3 86h1M37 87h1M36 88h1M31 91h1M30 92h1M89 92h1M29 93h1M88 94h1"/>
<path stroke="#35ffca" d="M22 1h1M47 2h1M93 3h1M42 5h1M46 5h1M0 6h1M43 6h1M46 6h1M77 6h1M91 6h1M2 7h1M42 7h1M5 8h1M42 8h1M78 8h1M20 9h1M41 9h1M78 9h1M40 10h1M46 10h1M40 11h1M46 11h1M92 11h1M46 12h1M19 13h1M39 14h1M46 14h1M21 15h1M32 15h1M46 15h1M95 15h1M0 16h1M47 16h1M77 16h1M2 17h1M49 17h1M76 17h1M96 17h1M9 18h1M75 18h1M50 19h1M69 19h1M74 19h1M14 20h1M50 20h1M67 20h1M71 20h2M67 21h1M72 21h1M51 22h1M69 22h2M73 22h1M74 23h1M27 25h1M88 26h1M76 27h1M37 28h1M83 28h1M54 29h1M78 29h1M80 29h1M40 30h3M43 31h1M44 32h1M96 32h1M45 33h1M94 33h1M46 34h1M56 35h1M2 36h1M4 38h1M48 38h1M67 38h1M72 38h1M5 40h1M49 40h1M6 41h1M7 42h1M9 43h1M91 43h3M10 44h1M82 44h1M96 44h1M50 45h1M29 46h1M33 47h1M56 47h1M75 47h1M10 48h1M36 48h1M73 48h1M9 49h1M72 49h1M8 50h1M40 50h1M8 51h1M42 51h1M45 52h1M85 52h1M87 52h1M8 53h1M18 53h1M84 54h1M9 55h1M17 55h1M71 55h1M84 55h1M87 55h1M61 56h1M71 56h1M84 56h1M61 57h1M85 57h2M61 59h1M61 60h1M62 62h1M50 63h1M50 64h1M74 69h2M76 70h1M76 71h1M0 72h1M76 72h1M0 73h1M74 73h2M1 74h1M1 75h1M1 76h1M57 76h2M0 77h1M60 77h1M0 78h1M55 78h1M61 78h1M94 78h1M0 79h1M42 79h1M0 80h1M92 80h1M55 81h1M61 82h1M91 82h1M57 83h4M3 85h1M38 85h1M35 89h1M33 90h1M0 93h1M28 94h1M27 95h1M88 95h1"/>
<path stroke="#4affb5" d="M48 0h1M76 0h1M95 0h1M94 2h1M47 3h1M18 4h1M76 4h1M16 5h1M31 5h1M40 5h2M14 6h1M29 6h1M42 6h1M1 7h1M13 7h1M27 7h1M46 7h1M91 7h1M4 8h1M25 8h1M41 8h1M46 8h1M8 9h2M40 9h1M46 9h1M91 9h1M19 10h1M79 10h1M39 11h1M79 11h1M39 12h1M79 12h1M93 12h1M39 13h1M46 13h1M79 13h1M94 13h1M20 14h1M38 14h1M47 15h1M78 15h1M1 16h1M23 16h1M48 16h1M96 16h1M50 18h1M12 19h1M68 20h3M73 20h1M68 21h1M71 21h1M73 21h1M21 23h1M52 23h1M32 26h1M53 26h1M87 26h1M35 27h1M77 28h1M39 29h1M79 29h1M44 31h1M45 32h1M55 32h1M0 35h1M47 36h1M81 37h1M68 38h4M5 39h1M8 42h1M90 43h1M94 43h1M11 45h1M79 45h1M11 46h1M52 46h1M77 46h1M11 47h1M21 48h1M19 49h1M39 49h1M9 50h1M18 50h1M71 50h1M18 51h1M43 51h1M63 51h1M86 51h1M8 52h1M18 52h1M47 53h1M62 53h1M84 53h1M16 56h1M87 56h1M12 57h1M15 57h1M51 58h1M61 58h1M51 59h1M69 59h1M62 61h1M63 62h1M50 65h1M50 66h1M50 67h1M50 68h1M74 68h2M50 69h1M76 69h1M50 70h1M73 70h1M73 71h1M77 71h1M73 72h1M1 73h1M2 74h1M2 75h1M49 76h1M56 76h1M59 76h1M1 77h1M55 77h1M47 78h1M95 78h1M62 80h1M62 81h1M1 82h1M55 82h1M62 82h1M56 83h1M61 83h1M90 84h1M38 86h1M37 88h1M36 89h1M3 90h1M34 90h1M2 91h1M32 91h1M1 92h1M31 92h1M30 93h1M89 93h1M29 94h1M89 94h1M28 95h1"/>
<path stroke="#60ff9f" d="M76 1h1M76 3h1M47 4h1M39 5h1M77 5h1M41 6h1M0 7h1M41 7h1M78 7h1M3 8h1M12 8h1M91 8h1M7 9h1M10 9h1M21 9h1M79 9h1M39 10h1M19 12h1M47 12h1M38 13h1M47 13h1M37 14h1M47 14h1M79 14h1M95 14h1M0 15h1M31 15h1M48 15h1M28 16h1M49 16h1M3 17h6M50 17h1M10 18h1M75 19h1M74 20h1M17 21h1M51 21h1M69 21h2M74 21h1M19 22h1M74 22h1M24 24h1M75 24h1M28 25h1M53 25h1M90 25h1M76 26h1M86 26h1M96 26h1M36 27h1M84 27h1M38 28h1M40 29h1M43 30h1M46 33h1M90 34h1M1 35h1M87 35h1M3 36h1M57 36h1M84 36h1M4 37h1M58 37h1M80 37h1M49 39h1M6 40h1M7 41h1M9 42h1M10 43h1M86 43h4M95 43h1M11 44h1M50 44h1M25 46h1M34 47h1M11 48h1M37 48h1M60 48h1M10 49h1M62 49h1M41 50h1M9 51h1M44 51h1M85 51h1M87 51h1M46 52h1M63 52h1M84 52h1M88 53h1M9 54h1M62 54h1M88 54h1M10 55h1M62 55h1M11 56h1M13 57h2M51 57h1M84 57h1M87 57h1M51 60h1M67 60h1M64 62h2M41 64h1M41 65h1M41 66h1M76 68h1M73 69h1M39 70h1M77 70h1M0 71h1M50 71h1M1 72h1M77 72h1M2 73h1M73 73h1M76 73h1M74 74h1M2 76h1M60 76h1M2 77h1M61 77h1M1 78h1M54 78h1M43 79h1M54 79h1M62 79h1M93 79h1M92 81h1M39 82h1M63 82h1M2 83h1M62 83h1M90 85h1M4 88h1M90 88h1M90 89h1M90 90h1M90 91h1M0 94h1"/>
<path stroke="#75ff8a" d="M48 1h1M95 1h1M76 2h1M32 5h1M37 5h2M47 5h1M40 6h1M47 6h1M28 7h1M40 7h1M0 8h3M26 8h1M40 8h1M79 8h1M5 9h2M22 9h2M47 9h1M47 10h1M80 10h1M92 10h1M19 11h1M47 11h1M80 11h1M38 12h1M80 12h1M36 14h1M48 14h1M22 15h1M49 15h1M96 15h1M2 16h1M24 16h1M78 16h1M77 17h1M76 18h1M51 19h1M51 20h1M52 22h1M53 24h1M29 25h2M94 25h1M33 26h1M54 28h1M82 28h1M41 29h1M44 30h1M45 31h1M55 31h1M56 34h1M2 35h1M47 35h1M48 37h1M78 37h2M5 38h1M8 41h1M50 42h1M50 43h1M85 43h1M96 43h1M81 44h1M27 45h1M12 46h1M30 46h1M12 47h1M23 47h1M74 47h1M20 48h1M11 49h1M18 49h1M10 50h1M63 50h1M45 51h1M9 52h1M70 52h1M88 52h1M9 53h1M48 53h1M63 53h1M17 54h1M49 54h1M83 54h1M50 55h1M83 55h1M88 55h1M12 56h1M15 56h1M62 56h1M83 56h1M70 58h1M85 58h2M62 59h1M62 60h1M63 61h1M66 61h1M40 63h2M40 64h1M42 64h1M40 65h1M42 65h1M40 66h1M40 67h2M74 67h2M39 68h3M73 68h1M39 69h2M77 69h1M0 70h1M38 70h1M40 70h1M1 71h1M37 71h4M78 71h1M2 72h1M50 72h1M78 72h1M77 73h1M3 74h1M50 74h1M73 74h1M75 74h1M3 75h1M57 75h2M3 76h1M55 76h1M54 77h1M62 78h1M96 78h1M1 79h1M1 80h1M54 80h1M63 80h1M1 81h1M54 81h1M63 81h1M55 83h1M63 83h1M91 83h1M3 84h1M58 84h3M90 86h1M4 87h1M38 87h1M90 87h1M4 89h1M35 90h1M33 91h1M32 92h1M90 92h1M1 93h1M31 93h1M90 93h1M30 94h1M89 95h1"/>
<path stroke="#8aff75" d="M48 2h1M20 3h1M94 3h1M33 5h1M36 5h1M92 5h1M30 6h1M39 6h1M78 6h1M47 7h1M47 8h1M0 9h1M3 9h2M11 9h1M24 9h1M39 9h1M38 11h1M93 11h1M94 12h1M20 13h1M37 13h1M48 13h1M80 13h1M0 14h1M21 14h1M35 14h1M1 15h1M79 15h1M3 16h5M25 16h1M27 16h1M50 16h1M9 17h1M51 18h1M15 20h1M75 20h1M22 23h1M75 23h1M85 26h1M37 27h1M39 28h1M78 28h1M81 28h1M42 29h1M46 32h1M95 32h1M0 34h1M47 34h1M86 35h1M59 37h1M76 37h2M6 39h1M7 40h1M50 41h1M10 42h1M11 43h1M84 43h1M12 45h1M28 45h1M51 45h1M31 46h1M53 46h1M76 46h1M35 47h1M57 47h1M12 48h1M38 48h1M72 48h1M40 49h1M71 49h1M17 50h1M42 50h1M86 50h2M10 51h1M17 51h1M70 51h1M84 51h1M88 51h1M17 52h1M47 52h1M64 52h1M17 53h1M64 53h1M70 53h1M83 53h1M10 54h1M63 54h1M11 55h1M16 55h1M63 55h1M13 56h2M63 56h2M88 56h1M62 57h1M64 57h2M62 58h1M64 58h2M68 59h1M63 60h1M66 60h1M51 61h1M41 62h1M42 63h1M39 65h1M39 66h1M42 66h1M74 66h2M39 67h1M76 67h1M77 68h1M38 69h1M41 69h1M37 70h1M41 70h1M72 70h1M78 70h1M36 71h1M72 71h1M37 72h3M72 72h1M3 73h1M50 73h1M72 73h1M76 74h1M4 75h1M50 75h1M56 75h1M59 75h2M4 76h1M54 76h1M61 76h1M3 77h1M49 77h1M62 77h1M2 78h1M63 79h1M41 80h1M93 80h1M40 81h1M64 81h1M54 82h1M64 82h1M39 83h1M64 83h2M39 84h1M56 84h2M61 84h2M4 86h1M37 89h1M36 90h1M34 91h1M2 92h1M90 94h1M0 95h1M29 95h1"/>
<path stroke="#9fff60" d="M49 0h1M77 0h1M96 0h1M22 2h1M95 2h1M48 3h1M77 4h1M93 4h1M17 5h1M34 5h2M15 6h1M29 7h1M39 7h1M79 7h1M27 8h1M39 8h1M1 9h2M80 9h1M0 10h1M8 10h2M20 10h1M38 10h1M48 11h1M48 12h1M0 13h1M95 13h1M1 14h1M34 14h1M49 14h1M80 14h1M2 15h1M23 15h1M30 15h1M8 16h1M26 16h1M78 17h1M11 18h1M77 18h1M13 19h1M76 19h1M52 21h1M75 21h1M20 22h1M75 22h1M53 23h1M25 24h1M31 25h1M76 25h1M89 25h1M38 27h1M54 27h1M77 27h1M83 27h1M40 28h1M79 28h2M43 29h1M55 30h1M93 33h1M1 34h1M89 34h1M4 36h1M83 36h1M60 37h6M74 37h2M49 38h1M50 40h1M9 41h1M92 42h5M12 44h1M26 45h1M78 45h1M13 46h1M32 46h1M13 47h1M36 47h1M13 48h1M19 48h1M61 48h1M12 49h1M17 49h1M11 50h1M43 50h1M85 50h1M46 51h1M64 51h1M10 52h1M10 53h1M64 54h1M70 54h1M64 55h2M51 56h1M65 56h1M63 57h1M66 57h1M83 57h1M88 57h1M63 58h1M66 58h1M84 58h1M87 58h1M63 59h5M64 60h1M64 61h2M40 62h1M42 62h1M51 62h1M39 63h1M39 64h1M75 65h1M76 66h1M42 67h1M73 67h1M38 68h1M42 68h1M0 69h1M37 69h1M51 69h1M72 69h1M78 69h1M1 70h1M36 70h1M51 70h1M79 70h1M2 71h1M35 71h1M41 71h1M79 71h1M3 72h1M35 72h2M40 72h1M79 72h1M78 73h1M4 74h1M72 74h1M77 74h1M55 75h1M73 75h2M5 76h1M50 76h1M62 76h1M4 77h2M53 77h1M3 78h1M48 78h1M53 78h1M63 78h1M2 79h1M44 79h1M94 79h1M64 80h1M2 82h1M65 82h2M92 82h1M66 83h1M55 84h1M63 84h1M39 85h1M38 88h1M4 90h1M3 91h1M33 92h1M32 93h1M31 94h1M30 95h1M90 95h1"/>
<path stroke="#b5ff4a" d="M48 4h1M78 5h1M31 6h1M38 6h1M80 8h1M25 9h1M38 9h1M92 9h1M1 10h7M21 10h1M48 10h1M81 10h1M0 11h2M20 11h1M81 11h1M0 12h2M20 12h1M37 12h1M81 12h1M1 13h1M36 13h1M49 13h1M2 14h1M22 14h1M33 14h1M96 14h1M3 15h6M50 15h1M9 16h1M79 16h1M10 17h1M51 17h1M52 20h1M18 21h1M53 22h1M76 24h1M88 25h1M34 26h1M84 26h1M45 30h1M46 31h1M47 33h1M56 33h1M3 35h1M57 35h1M48 36h1M58 36h1M5 37h1M66 37h2M73 37h1M6 38h1M7 39h1M50 39h1M8 40h1M11 42h1M91 42h1M51 44h1M80 44h1M13 45h1M29 45h1M24 46h1M33 46h1M54 46h1M75 46h1M22 47h1M37 47h1M73 47h1M14 48h1M18 48h1M39 48h1M13 49h4M41 49h1M12 50h1M16 50h1M44 50h1M70 50h1M88 50h1M11 51h1M16 51h1M48 52h1M83 52h1M89 52h1M65 53h1M89 53h1M11 54h1M16 54h1M65 54h1M82 54h1M89 54h1M12 55h1M15 55h1M82 55h1M89 55h1M66 56h1M82 56h1M65 60h1M41 61h1M39 62h1M51 63h1M43 64h1M43 65h1M74 65h1M38 66h1M38 67h1M77 67h1M37 68h1M51 68h1M72 68h1M78 68h1M1 69h1M42 69h1M2 70h1M35 70h1M34 71h1M51 71h1M80 71h1M34 72h1M51 72h1M4 73h1M51 73h1M79 73h1M51 74h1M58 74h2M5 75h1M51 75h1M54 75h1M61 75h1M75 75h1M26 76h2M53 76h1M6 77h1M63 77h1M4 78h1M64 78h1M53 79h1M64 79h1M2 80h1M53 80h1M65 80h1M2 81h1M65 81h2M67 82h2M3 83h1M54 83h1M67 83h1M64 84h2M91 84h1M4 85h1M39 86h1M37 90h1M35 91h1M91 91h1M91 92h1M91 93h1M1 94h1"/>
<path stroke="#caff35" d="M49 1h1M77 1h1M96 1h1M77 3h1M48 5h1M37 6h1M48 6h1M79 6h1M92 6h1M14 7h1M13 8h1M28 8h1M38 8h1M48 8h1M26 9h1M48 9h1M81 9h1M10 10h1M93 10h1M2 11h4M37 11h1M2 12h1M49 12h1M2 13h2M21 13h1M81 13h1M3 14h5M32 14h1M50 14h1M29 15h1M80 15h1M51 16h1M52 19h1M77 19h1M16 20h1M76 20h1M23 23h1M32 25h1M87 25h1M35 26h1M54 26h1M39 27h1M82 27h1M41 28h1M44 29h1M55 29h1M0 33h1M92 33h1M2 34h1M88 34h1M85 35h1M49 37h1M68 37h1M72 37h1M10 41h1M96 41h1M90 42h1M12 43h1M51 43h1M83 43h1M52 45h1M34 46h1M14 47h1M58 47h1M15 48h3M63 49h1M13 50h3M45 50h1M84 50h1M12 51h1M47 51h1M89 51h1M11 52h1M16 52h1M65 52h1M69 52h1M11 53h1M16 53h1M49 53h1M66 53h1M50 54h1M66 54h1M13 55h2M66 55h1M70 55h1M89 56h1M67 58h1M88 58h1M75 59h1M86 59h1M75 60h1M40 61h1M42 61h1M75 61h1M43 63h1M75 63h1M51 64h1M74 64h2M38 65h1M51 65h1M76 65h1M43 66h1M51 66h1M73 66h1M77 66h1M51 67h1M0 68h1M36 69h1M79 69h1M42 70h1M71 70h1M80 70h1M3 71h1M71 71h1M33 72h1M41 72h1M71 72h1M80 72h1M34 73h6M55 74h3M60 74h2M78 74h1M25 75h3M52 75h2M62 75h1M72 75h1M76 75h1M6 76h1M25 76h1M51 76h2M63 76h1M73 76h1M7 77h1M26 77h1M50 77h1M52 77h1M64 77h1M5 78h3M3 79h1M45 79h1M65 79h1M95 79h1M66 80h1M53 81h1M67 81h2M93 81h1M68 83h1M4 84h1M54 84h1M66 84h1M38 89h1M91 89h1M91 90h1M36 91h1M34 92h1M2 93h1M32 94h1M91 94h1M1 95h1M31 95h1"/>
<path stroke="#dfff20" d="M50 0h1M49 2h1M77 2h1M19 4h1M78 4h1M32 6h1M30 7h1M38 7h1M48 7h1M80 7h1M92 8h1M12 9h1M22 10h1M37 10h1M6 11h4M94 11h1M3 12h6M36 12h1M95 12h1M4 13h5M35 13h1M96 13h1M8 14h1M23 14h1M81 14h1M9 15h1M24 15h1M79 17h1M12 18h1M52 18h1M78 18h1M53 21h1M76 21h1M21 22h1M76 22h1M76 23h1M26 24h1M54 25h1M85 25h2M36 26h2M77 26h1M83 26h1M78 27h1M42 28h1M96 31h1M47 32h1M94 32h1M91 33h1M48 35h1M82 36h1M69 37h3M9 40h1M51 41h1M94 41h2M12 42h1M51 42h1M88 42h2M13 44h1M27 44h1M25 45h1M30 45h1M77 45h1M14 46h1M35 46h1M55 46h1M15 47h1M21 47h1M38 47h1M40 48h1M42 49h1M86 49h3M46 50h1M64 50h1M89 50h1M13 51h3M65 51h1M69 51h1M83 51h1M12 52h1M66 52h1M69 53h1M82 53h1M12 54h1M15 54h1M51 55h1M81 55h1M81 56h1M52 57h1M82 57h1M52 58h1M75 58h2M83 58h1M52 59h1M76 59h1M85 59h1M87 59h1M74 60h1M76 60h1M39 61h1M74 61h1M43 62h1M74 62h2M38 63h1M74 63h1M38 64h1M76 64h1M73 65h1M37 67h1M43 67h1M78 67h1M1 68h1M36 68h1M79 68h1M2 69h1M35 69h1M71 69h1M80 69h1M3 70h1M34 70h1M81 70h1M33 71h1M42 71h1M81 71h1M4 72h1M32 72h1M52 72h1M81 72h1M33 73h1M40 73h1M52 73h1M71 73h1M80 73h1M5 74h1M26 74h3M52 74h3M62 74h1M71 74h1M6 75h1M28 75h1M63 75h1M71 75h1M77 75h1M7 76h1M24 76h1M28 76h1M64 76h1M72 76h1M74 76h1M8 77h1M25 77h1M27 77h1M51 77h1M8 78h1M49 78h1M52 78h1M65 78h1M4 79h3M46 79h1M66 79h2M96 79h1M67 80h2M94 80h1M69 81h1M3 82h1M40 82h1M53 82h1M69 82h1M69 83h1M56 85h7M91 85h1M5 87h1M39 87h1M5 88h1M91 88h1M5 89h1M4 91h1M3 92h1M33 93h1M91 95h1"/>
<path stroke="#f4ff0b" d="M23 0h1M78 0h1M96 2h1M49 3h1M79 5h1M16 6h1M36 6h1M92 7h1M29 8h1M81 8h1M27 9h1M37 9h1M11 10h1M23 10h2M82 10h1M21 11h1M49 11h1M82 11h1M9 12h1M21 12h1M9 13h1M22 13h1M34 13h1M50 13h1M9 14h1M31 14h1M28 15h1M51 15h1M10 16h1M80 16h1M11 17h1M14 19h1M53 20h1M77 20h1M19 21h1M54 23h1M54 24h1M33 25h1M38 26h1M40 27h1M81 27h1M55 28h1M46 30h1M56 32h1M1 33h1M3 34h1M87 34h1M4 35h1M5 36h1M6 37h1M7 38h1M50 38h1M8 39h1M51 40h1M96 40h1M11 41h1M92 41h2M86 42h2M13 43h1M82 43h1M26 44h1M28 44h1M79 44h1M14 45h1M31 45h1M15 46h1M36 46h1M74 46h1M16 47h1M20 47h1M39 47h1M59 47h1M72 47h1M62 48h1M71 48h1M43 49h2M70 49h1M85 49h1M48 51h1M13 52h3M49 52h1M67 52h2M82 52h1M12 53h1M15 53h1M67 53h2M13 54h2M67 54h1M69 54h1M81 54h1M80 55h1M70 56h1M80 56h1M67 57h1M70 57h1M81 57h1M89 57h1M69 58h1M77 58h1M74 59h1M77 59h1M84 59h1M88 59h1M52 60h1M76 61h1M38 62h1M76 62h1M76 63h1M77 65h1M37 66h1M78 66h1M0 67h1M72 67h1M2 68h1M43 68h1M80 68h1M84 68h1M27 69h1M52 69h1M81 69h1M83 69h3M27 70h1M33 70h1M52 70h1M82 70h1M4 71h1M28 71h1M32 71h1M52 71h1M82 71h1M28 72h4M42 72h1M5 73h1M27 73h6M53 73h2M56 73h6M81 73h1M25 74h1M29 74h1M63 74h1M79 74h1M24 75h1M29 75h1M64 75h1M23 76h1M71 76h1M75 76h1M23 77h2M65 77h1M70 77h3M50 78h2M66 78h4M7 79h1M52 79h1M68 79h2M3 80h1M42 80h1M69 80h1M3 81h1M4 83h1M40 83h1M92 83h1M67 84h1M55 85h1M63 85h1M91 86h1M91 87h1M39 88h1M38 90h1M37 91h1M35 92h1M92 92h1M92 93h1M2 94h1M92 94h1M32 95h1"/>
<path stroke="#fff400" d="M51 0h1M50 1h1M78 1h1M95 3h1M49 4h1M94 4h1M93 5h1M33 6h1M35 6h1M80 6h1M31 7h1M37 7h1M37 8h1M28 9h1M49 9h1M25 10h1M49 10h1M10 11h1M22 11h1M36 11h1M50 12h1M82 12h1M33 13h1M10 15h1M25 15h1M81 15h1M52 17h1M79 18h1M78 19h1M17 20h1M54 22h1M24 23h1M27 24h4M91 24h2M77 25h1M84 25h1M95 25h1M79 27h2M43 28h1M45 29h1M47 31h1M90 33h1M48 34h1M57 34h1M84 35h1M49 36h1M59 36h1M81 36h1M51 39h1M10 40h1M95 40h1M91 41h1M85 42h1M14 44h1M29 44h1M52 44h1M32 45h2M53 45h1M76 45h1M37 46h1M17 47h3M41 48h1M45 49h1M89 49h1M47 50h1M69 50h1M66 51h1M68 51h1M90 51h1M90 52h1M13 53h2M90 53h1M68 54h1M90 54h1M67 55h1M79 55h1M90 55h1M67 56h1M78 56h2M90 56h1M76 57h5M68 58h1M78 58h1M82 58h1M89 58h1M40 60h2M77 60h1M38 61h1M43 61h1M52 61h1M73 64h1M77 64h1M37 65h1M1 67h1M36 67h1M79 67h1M84 67h2M26 68h2M71 68h1M81 68h3M85 68h1M3 69h1M26 69h1M28 69h1M34 69h1M43 69h1M82 69h1M4 70h1M26 70h1M28 70h2M32 70h1M70 70h1M83 70h2M27 71h1M29 71h3M70 71h1M83 71h1M27 72h1M53 72h1M60 72h3M82 72h1M26 73h1M41 73h1M55 73h1M62 73h2M24 74h1M30 74h7M64 74h1M80 74h1M7 75h1M23 75h1M70 75h1M78 75h1M8 76h1M22 76h1M65 76h1M69 76h2M76 76h1M9 77h1M22 77h1M28 77h1M66 77h4M73 77h2M9 78h1M20 78h1M70 78h2M8 79h1M18 79h3M47 79h1M70 79h1M4 80h3M18 80h2M52 80h1M70 80h1M18 81h2M41 81h1M70 81h1M70 82h1M93 82h1M53 83h1M40 84h1M68 84h1M54 85h1M64 85h2M5 86h1M15 87h1M14 88h2M5 90h1M92 91h1M36 92h1M34 93h1M33 94h1M2 95h1M92 95h1"/>
<path stroke="#ffdf00" d="M78 2h1M78 3h1M79 4h1M18 5h1M49 5h1M80 5h1M34 6h1M15 7h1M81 7h1M30 8h1M49 8h1M82 9h1M93 9h1M26 10h1M36 10h1M94 10h1M95 11h1M10 12h1M22 12h1M35 12h1M96 12h1M10 13h1M23 13h1M82 13h1M10 14h1M24 14h1M30 14h1M51 14h1M26 15h2M52 16h1M80 17h1M53 19h1M78 20h1M54 21h1M77 21h1M22 22h1M77 23h1M31 24h1M77 24h1M90 24h1M34 25h1M83 25h1M39 26h1M78 26h1M82 26h1M41 27h1M55 27h1M44 28h1M56 31h1M95 31h1M0 32h1M93 32h1M2 33h1M48 33h1M58 35h1M60 36h1M80 36h1M9 39h1M96 39h1M94 40h1M12 41h1M52 41h1M90 41h1M13 42h1M52 42h1M52 43h1M30 44h1M15 45h1M34 45h2M16 46h1M23 46h1M38 46h1M56 46h1M73 46h1M40 47h1M60 47h1M42 48h1M46 49h1M83 50h1M90 50h1M49 51h1M67 51h1M82 51h1M50 53h1M81 53h1M79 54h2M78 55h1M52 56h1M77 56h1M90 57h1M74 58h1M79 58h1M81 58h1M78 59h1M83 59h1M89 59h1M39 60h1M86 60h3M77 61h1M73 62h1M44 63h1M73 63h1M77 63h1M37 64h1M44 64h1M44 65h1M78 65h1M0 66h1M25 66h2M72 66h1M79 66h1M85 66h1M2 67h1M26 67h2M80 67h1M83 67h1M3 68h1M28 68h1M35 68h1M52 68h1M86 68h1M4 69h1M29 69h1M33 69h1M70 69h1M86 69h1M30 70h2M43 70h1M85 70h1M26 71h1M53 71h1M61 71h2M5 72h1M26 72h1M54 72h2M58 72h2M63 72h2M70 72h1M25 73h1M64 73h1M70 73h1M82 73h1M6 74h1M37 74h1M65 74h1M70 74h1M30 75h1M65 75h2M69 75h1M9 76h1M21 76h1M29 76h1M66 76h3M10 77h1M20 77h2M75 77h1M10 78h1M18 78h2M21 78h6M72 78h1M9 79h1M17 79h1M51 79h1M71 79h1M7 80h1M17 80h1M20 80h1M95 80h1M4 81h1M17 81h1M52 81h1M94 81h1M4 82h1M70 83h1M53 84h1M69 84h1M92 84h1M40 85h1M15 86h1M14 87h1M14 89h2M39 89h1M3 93h1M35 93h1M33 95h1"/>
<path stroke="#ffca00" d="M52 0h1M79 0h1M23 1h1M51 1h1M50 2h1M79 3h1M49 6h1M81 6h1M32 7h1M36 7h1M49 7h1M14 8h1M82 8h1M13 9h1M29 9h1M36 9h1M12 10h1M27 10h1M11 11h1M23 11h2M50 11h1M23 12h1M34 12h1M32 13h1M51 13h1M82 14h1M11 16h1M81 16h1M13 18h1M53 18h1M80 18h1M79 19h1M18 20h1M79 20h1M20 21h1M78 21h1M77 22h1M32 24h1M85 24h1M89 24h1M35 25h1M11 26h1M55 26h1M11 27h3M12 28h3M14 29h2M56 30h1M89 33h1M4 34h1M86 34h1M5 35h1M6 36h1M61 36h5M74 36h6M7 37h1M50 37h1M8 38h1M96 38h1M95 39h1M11 40h1M52 40h1M93 40h1M89 41h1M84 42h1M14 43h1M27 43h2M81 43h1M25 44h1M31 44h1M78 44h1M24 45h1M36 45h1M75 45h1M17 46h1M39 46h1M43 48h1M88 48h1M84 49h1M48 50h1M65 50h1M50 52h1M81 52h1M80 53h1M51 54h1M68 55h2M75 57h1M80 58h1M90 58h1M38 60h1M42 60h1M78 60h1M85 60h1M73 61h1M37 62h1M44 62h1M52 62h1M77 62h1M37 63h1M78 64h1M24 65h3M1 66h2M24 66h1M27 66h1M36 66h1M44 66h1M84 66h1M3 67h1M25 67h1M52 67h1M81 67h2M86 67h1M4 68h1M25 68h1M34 68h1M30 69h1M32 69h1M53 70h1M86 70h1M5 71h1M54 71h1M60 71h1M63 71h2M69 71h1M84 71h1M25 72h1M56 72h2M65 72h1M83 72h1M24 73h1M42 73h1M65 73h1M23 74h1M38 74h2M66 74h1M69 74h1M81 74h1M8 75h1M22 75h1M31 75h1M67 75h2M79 75h1M77 76h1M19 77h1M11 78h1M17 78h1M27 78h1M73 78h1M10 79h1M21 79h1M48 79h1M72 79h1M8 80h1M43 80h1M71 80h1M5 81h1M17 82h2M5 85h1M15 85h1M66 85h1M14 86h1M40 86h1M6 88h1M13 88h1M6 89h1M92 90h1M5 91h1M38 91h1M4 92h1M37 92h1M93 93h1M3 94h1M34 94h1M93 94h1"/>
<path stroke="#ffb500" d="M79 1h1M79 2h1M21 3h1M50 3h1M80 4h1M81 5h1M82 7h1M31 8h1M36 8h1M30 9h1M28 10h1M50 10h1M25 11h1M35 11h1M24 13h1M31 13h1M11 14h1M29 14h1M11 15h1M52 15h1M82 15h1M12 17h1M15 19h1M80 19h1M54 20h1M80 20h1M79 21h3M55 22h1M78 22h1M80 22h3M55 23h1M81 23h2M55 24h1M78 24h1M82 24h3M86 24h3M93 24h1M9 25h3M36 25h1M55 25h1M78 25h1M82 25h1M9 26h2M12 26h2M40 26h1M79 26h3M10 27h1M14 27h1M42 27h1M11 28h1M15 28h1M12 29h2M16 29h1M46 29h1M14 30h3M47 30h1M1 32h1M48 32h1M92 32h1M3 33h1M49 35h1M66 36h2M72 36h2M51 38h1M95 38h1M10 39h1M12 40h1M92 40h1M13 41h1M14 42h1M53 42h1M26 43h1M29 43h2M53 43h1M15 44h1M32 44h4M53 44h1M16 45h1M37 45h1M54 45h1M18 46h1M22 46h1M41 47h1M71 47h1M44 48h1M70 48h1M87 48h1M47 49h1M64 49h1M90 49h1M68 50h1M79 53h1M78 54h1M77 55h1M68 56h1M76 56h1M68 57h1M79 59h2M82 59h1M73 60h1M84 60h1M89 60h1M37 61h1M52 63h1M24 64h3M36 65h1M72 65h1M79 65h1M84 65h2M52 66h1M80 66h1M82 66h2M86 66h1M28 67h1M35 67h1M44 67h1M71 67h1M29 68h1M25 69h1M31 69h1M53 69h1M5 70h1M25 70h1M61 70h4M69 70h1M25 71h1M43 71h1M55 71h1M58 71h2M65 71h2M68 71h1M85 71h1M66 72h2M69 72h1M6 73h1M66 73h2M69 73h1M83 73h1M7 74h1M67 74h2M82 74h1M21 75h1M32 75h2M80 75h1M10 76h1M20 76h1M30 76h1M11 77h1M18 77h1M29 77h1M76 77h1M74 78h1M11 79h1M16 79h1M22 79h1M49 79h2M9 80h1M16 80h1M21 80h1M51 80h1M96 80h1M6 81h2M16 81h1M20 81h1M71 81h1M5 82h1M16 82h1M19 82h1M52 82h1M5 83h1M16 83h2M93 83h1M5 84h1M15 84h2M14 85h1M16 85h1M53 85h1M92 85h1M16 86h1M56 86h7M13 87h1M16 87h1M40 87h1M16 88h1M13 89h1M92 89h1M39 90h1M93 92h1M36 93h1M35 94h1M34 95h1M93 95h1"/>
<path stroke="#ff9f00" d="M8 0h3M53 0h1M80 0h1M52 1h1M80 1h1M51 2h1M80 2h1M80 3h1M96 3h1M50 4h1M81 4h1M95 4h1M94 5h1M17 6h1M93 6h1M33 7h3M93 8h1M50 9h1M29 10h1M35 10h1M83 10h1M26 11h1M83 11h1M96 11h1M11 12h1M24 12h1M33 12h1M51 12h1M83 12h1M11 13h1M25 14h1M53 17h1M81 17h1M54 19h1M81 20h1M55 21h1M82 21h1M23 22h1M79 22h1M25 23h1M78 23h3M83 23h1M9 24h3M33 24h1M79 24h3M8 25h1M12 25h1M37 25h2M79 25h3M8 26h1M14 26h1M9 27h1M15 27h1M10 28h1M16 28h1M45 28h1M11 29h1M17 29h1M56 29h1M13 30h1M17 30h1M0 31h1M14 31h5M94 31h1M2 32h1M91 32h1M57 33h1M88 33h1M83 35h1M68 36h4M96 37h1M9 38h1M52 39h1M94 39h1M91 40h1M53 41h1M88 41h1M27 42h3M15 43h1M31 43h4M80 43h1M36 44h2M38 45h1M74 45h1M19 46h3M40 46h1M72 46h1M42 47h1M61 47h1M45 48h1M63 48h1M86 48h1M89 48h1M69 49h1M49 50h1M66 50h2M82 50h1M50 51h1M81 51h1M80 52h1M91 52h1M51 53h1M91 53h1M91 54h1M52 55h1M91 55h1M69 56h1M91 56h1M53 57h1M69 57h1M91 57h1M53 58h1M39 59h2M53 59h1M73 59h1M81 59h1M90 59h1M43 60h1M79 60h1M83 60h1M44 61h1M78 61h1M86 61h3M78 62h1M25 63h1M78 63h1M36 64h1M52 64h1M72 64h1M0 65h2M23 65h1M27 65h1M52 65h1M83 65h1M86 65h1M3 66h1M28 66h1M81 66h1M4 67h1M24 67h1M30 68h1M33 68h1M44 68h1M70 68h1M87 68h1M5 69h1M69 69h1M87 69h1M54 70h1M60 70h1M65 70h4M56 71h2M67 71h1M6 72h1M24 72h1M68 72h1M84 72h1M23 73h1M68 73h1M22 74h1M40 74h1M9 75h1M20 75h1M34 75h2M11 76h1M19 76h1M31 76h1M78 76h1M12 77h1M17 77h1M12 78h2M15 78h2M28 78h1M75 78h1M12 79h1M15 79h1M23 79h2M73 79h1M10 80h2M44 80h1M72 80h1M8 81h1M41 82h1M71 82h1M94 82h1M15 83h1M18 83h1M52 83h1M14 84h1M17 84h1M13 86h1M55 86h1M63 86h1M92 86h1M6 87h1M92 87h1M40 88h1M92 88h1M16 89h1M6 90h1M93 91h1M38 92h1M4 93h1M37 93h1M3 95h1"/>
<path stroke="#ff8a00" d="M7 0h1M54 0h1M81 2h1M81 3h1M50 5h1M50 6h1M82 6h1M50 7h1M93 7h1M32 8h1M35 8h1M50 8h1M31 9h1M35 9h1M83 9h1M94 9h1M30 10h1M95 10h1M12 11h1M27 11h1M34 11h1M51 11h1M25 12h1M31 12h2M25 13h1M30 13h1M83 13h1M28 14h1M52 14h1M82 16h1M81 18h1M16 19h1M81 19h1M19 20h1M55 20h1M21 21h1M83 22h1M30 23h2M84 23h1M8 24h1M12 24h1M34 24h1M7 25h1M13 25h1M96 25h1M7 26h1M8 27h1M16 27h1M43 27h1M9 28h1M17 28h1M56 28h1M10 29h1M12 30h1M18 30h1M13 31h1M19 31h3M48 31h1M16 32h7M4 33h1M18 33h5M5 34h1M20 34h2M85 34h1M59 35h1M50 36h1M8 37h1M95 37h1M11 39h1M93 39h1M13 40h1M53 40h1M90 40h1M14 41h1M87 41h1M26 42h1M30 42h5M83 42h1M25 43h1M35 43h2M16 44h1M38 44h1M54 44h1M77 44h1M17 45h1M39 45h1M55 45h1M57 46h1M43 47h1M46 48h1M85 48h1M83 49h1M91 50h1M91 51h1M78 53h1M74 57h1M91 58h1M38 59h1M41 59h1M37 60h1M53 60h1M85 61h1M89 61h1M24 63h1M26 63h1M36 63h1M27 64h1M79 64h1M84 64h3M2 65h1M80 65h1M82 65h1M23 66h1M35 66h1M29 67h1M34 67h1M87 67h1M5 68h1M24 68h1M31 68h2M53 68h1M44 69h1M68 69h1M6 70h1M55 70h1M59 70h1M87 70h1M6 71h1M24 71h1M86 71h1M43 72h1M8 74h1M21 74h1M83 74h1M10 75h1M36 75h1M81 75h1M12 76h1M18 76h1M32 76h1M79 76h1M13 77h4M30 77h1M77 77h1M14 78h1M13 79h2M25 79h1M74 79h1M12 80h4M22 80h1M9 81h1M15 81h1M21 81h1M51 81h1M95 81h1M6 82h1M15 82h1M20 82h1M14 83h1M41 83h1M70 84h1M13 85h1M17 85h1M17 86h1M54 86h1M64 86h1M12 88h1M14 90h2M39 91h1M5 92h1M36 94h1M35 95h1"/>
<path stroke="#ff7500" d="M11 0h1M81 0h1M7 1h4M53 1h1M81 1h1M52 2h1M51 3h1M82 3h1M82 4h1M82 5h1M16 7h1M83 7h1M33 8h2M83 8h1M32 9h1M31 10h1M34 10h1M51 10h1M28 11h6M30 12h1M29 13h1M52 13h1M26 14h2M83 14h1M12 16h1M53 16h1M82 17h1M14 18h1M54 18h1M82 19h1M82 20h1M83 21h1M29 23h1M32 23h1M85 23h1M6 24h2M6 25h1M39 25h1M6 26h1M15 26h1M41 26h1M7 27h1M44 27h1M56 27h1M8 28h1M9 29h1M18 29h1M0 30h1M10 30h2M19 30h2M96 30h1M1 31h1M12 31h1M22 31h1M93 31h1M3 32h1M14 32h2M23 32h1M90 32h1M16 33h2M23 33h1M87 33h1M18 34h2M22 34h2M49 34h1M58 34h1M6 35h1M19 35h2M7 36h1M51 37h1M94 38h1M12 39h1M92 39h1M14 40h1M89 40h1M27 41h8M54 41h1M86 41h1M15 42h1M35 42h2M54 42h1M16 43h1M37 43h1M54 43h1M24 44h1M39 44h1M76 44h1M18 45h1M23 45h1M40 45h1M73 45h1M41 46h1M44 47h1M90 48h1M48 49h1M50 50h1M51 52h1M79 52h1M52 54h1M77 54h1M53 56h1M75 56h1M73 58h1M80 60h3M90 60h1M79 61h1M84 61h1M24 62h2M36 62h1M79 62h1M85 62h4M72 63h1M79 63h1M85 63h2M23 64h1M80 64h1M83 64h1M3 65h1M28 65h1M81 65h1M4 66h1M71 66h1M87 66h1M5 67h1M30 67h1M69 68h1M88 68h1M6 69h1M24 69h1M54 69h1M61 69h7M88 69h1M24 70h1M56 70h3M85 72h1M7 73h1M22 73h1M84 73h1M9 74h1M41 74h1M11 75h1M19 75h1M37 75h1M82 75h1M13 76h1M17 76h1M29 78h1M76 78h1M26 79h1M75 79h1M50 80h1M73 80h1M10 81h5M42 81h1M72 81h1M7 82h1M14 82h1M6 83h1M19 83h1M71 83h1M13 84h1M18 84h1M41 84h1M52 84h1M41 85h1M67 85h1M6 86h1M12 87h1M17 87h1M7 88h1M7 89h1M12 89h1M40 89h1M13 90h1M93 90h1M6 91h1M38 93h1M94 93h1M4 94h1M37 94h1M94 94h1M36 95h1M94 95h1"/>
<path stroke="#ff6000" d="M6 0h1M55 0h1M64 0h3M82 0h1M11 1h1M54 1h1M82 1h1M53 2h1M82 2h1M52 3h1M20 4h1M51 4h1M83 6h1M15 8h1M51 8h1M14 9h1M33 9h2M51 9h1M13 10h1M32 10h2M52 11h1M12 12h1M26 12h4M52 12h1M26 13h1M28 13h1M12 15h1M53 15h1M83 15h1M13 17h1M54 17h1M82 18h1M17 19h1M55 19h1M83 20h1M22 21h1M56 21h1M24 22h1M56 22h1M84 22h1M8 23h4M26 23h1M28 23h1M33 23h1M56 23h1M86 23h1M4 24h2M13 24h1M35 24h1M56 24h1M4 25h2M14 25h1M56 25h1M5 26h1M56 26h1M6 27h1M17 27h1M7 28h1M18 28h1M46 28h1M0 29h1M8 29h1M19 29h1M47 29h1M9 30h1M21 30h1M11 31h1M23 31h1M13 32h1M24 32h1M89 32h1M15 33h1M24 33h1M49 33h1M16 34h2M24 34h1M17 35h2M21 35h3M82 35h1M18 36h2M96 36h1M9 37h1M94 37h1M10 38h1M52 38h1M13 39h2M29 39h2M53 39h1M91 39h1M15 40h1M27 40h7M15 41h1M26 41h1M35 41h1M85 41h1M16 42h1M25 42h1M37 42h1M82 42h1M38 43h1M79 43h1M17 44h1M75 44h1M42 46h1M45 47h1M62 47h1M84 48h1M65 49h1M68 49h1M91 49h1M81 50h1M51 51h1M80 51h1M76 55h1M92 57h1M38 58h2M37 59h1M42 59h1M91 59h1M25 61h1M36 61h1M53 61h1M80 61h1M83 61h1M26 62h1M72 62h1M84 62h1M23 63h1M27 63h1M45 63h1M80 63h1M83 63h2M87 63h1M0 64h2M45 64h1M81 64h2M87 64h1M35 65h1M45 65h1M87 65h1M29 66h1M34 66h1M23 67h1M31 67h3M53 67h1M70 67h1M6 68h1M68 68h1M44 70h1M88 70h1M87 71h1M7 72h1M23 72h1M20 74h1M84 74h1M12 75h1M18 75h1M38 75h1M83 75h1M14 76h3M33 76h1M80 76h1M31 77h1M78 77h1M77 78h1M27 79h1M23 80h1M45 80h1M49 80h1M74 80h1M96 81h1M8 82h1M12 82h2M51 82h1M72 82h1M13 83h1M93 84h1M6 85h1M18 85h1M52 85h1M12 86h1M41 86h1M53 86h1M65 86h1M17 88h1M7 90h1M12 90h1M16 90h1M40 90h1M39 92h1M94 92h1M5 93h1M4 95h1M37 95h1"/>
<path stroke="#ff4a00" d="M12 0h1M56 0h2M62 0h2M67 0h1M55 1h1M64 1h3M54 2h1M65 2h2M53 3h1M83 3h1M52 4h1M83 4h1M96 4h1M51 5h1M83 5h1M95 5h1M51 6h1M94 6h1M51 7h1M94 8h1M95 9h1M52 10h1M96 10h1M84 11h1M12 13h1M27 13h1M12 14h1M83 16h1M83 17h1M83 18h1M83 19h1M56 20h1M84 21h1M31 22h2M85 22h1M6 23h2M27 23h1M87 23h1M2 24h2M36 24h1M94 24h1M0 25h4M40 25h1M0 26h2M4 26h1M16 26h1M42 26h1M0 27h1M5 27h1M45 27h1M0 28h1M6 28h1M7 29h1M20 29h1M1 30h1M8 30h1M22 30h1M48 30h1M95 30h1M2 31h1M10 31h1M92 31h1M4 32h1M12 32h1M57 32h1M5 33h1M14 33h1M25 33h1M15 34h1M25 34h2M84 34h1M16 35h1M24 35h4M50 35h1M60 35h5M8 36h1M16 36h2M20 36h2M26 36h2M94 36h2M16 37h4M27 37h2M11 38h2M14 38h4M27 38h4M93 38h1M15 39h2M27 39h2M31 39h2M90 39h1M16 40h1M26 40h1M34 40h2M54 40h1M88 40h1M16 41h1M25 41h1M36 41h1M38 42h1M17 43h1M24 43h1M39 43h1M40 44h1M55 44h1M19 45h2M22 45h1M41 45h1M56 45h1M43 46h1M58 46h2M71 46h1M70 47h1M88 47h2M47 48h1M69 48h1M82 49h1M53 55h1M92 55h1M92 56h1M37 58h1M40 58h1M92 58h1M36 60h1M44 60h1M24 61h1M26 61h1M72 61h1M81 61h2M90 61h1M27 62h1M45 62h1M53 62h1M80 62h1M83 62h1M89 62h1M35 63h1M81 63h2M88 63h1M2 64h1M28 64h1M35 64h1M4 65h1M71 65h1M5 66h1M45 66h1M88 67h1M23 68h1M67 68h1M55 69h1M59 69h2M89 69h1M7 70h1M7 71h1M23 71h1M44 71h1M86 72h1M8 73h1M21 73h1M43 73h1M85 73h1M10 74h1M19 74h1M42 74h1M13 75h1M17 75h1M39 75h1M34 76h1M81 76h1M32 77h1M30 78h1M76 79h1M24 80h1M46 80h1M48 80h1M75 80h1M22 81h1M73 81h1M9 82h3M21 82h1M95 82h1M12 83h1M20 83h1M94 83h1M6 84h1M12 84h1M19 84h1M12 85h1M68 85h1M18 86h1M7 87h1M41 87h1M60 87h2M11 88h1M8 89h1M11 89h1M93 89h1M40 91h1M94 91h1M6 92h1M39 93h1M5 94h1M38 94h1"/>
<path stroke="#ff3500" d="M24 0h1M58 0h4M83 0h1M6 1h1M56 1h2M62 1h2M67 1h1M83 1h1M7 2h1M55 2h1M64 2h1M83 2h1M54 3h1M65 3h2M19 5h1M52 5h1M94 7h1M52 8h1M52 9h1M84 9h1M84 10h1M13 11h1M84 12h1M53 13h1M84 13h1M53 14h1M54 16h1M55 18h1M18 19h1M56 19h1M84 19h1M20 20h1M32 20h1M84 20h1M31 21h2M30 22h1M33 22h1M57 22h1M2 23h4M12 23h1M34 23h1M88 23h3M0 24h2M37 24h1M15 25h1M2 26h2M43 26h1M1 27h2M4 27h1M18 27h1M1 28h1M5 28h1M19 28h1M1 29h1M6 29h1M7 30h1M23 30h1M3 31h1M9 31h1M24 31h1M57 31h1M91 31h1M5 32h1M11 32h1M25 32h1M49 32h1M88 32h1M13 33h1M26 33h2M86 33h1M6 34h1M14 34h1M27 34h2M7 35h1M15 35h1M28 35h1M65 35h4M71 35h5M79 35h3M15 36h1M22 36h4M28 36h2M10 37h1M14 37h2M20 37h1M25 37h2M29 37h2M93 37h1M13 38h1M18 38h2M26 38h1M31 38h2M92 38h1M17 39h1M26 39h1M33 39h2M17 40h1M25 40h1M17 41h1M37 41h2M17 42h1M24 42h1M39 42h1M55 42h1M81 42h1M40 43h1M55 43h1M78 43h1M18 44h1M23 44h1M74 44h1M21 45h1M42 45h1M72 45h1M44 46h1M60 46h1M46 47h1M87 47h1M64 48h1M83 48h1M49 49h1M66 49h2M79 51h1M78 52h1M92 52h1M52 53h1M77 53h1M92 53h1M92 54h1M38 57h1M54 57h1M54 58h1M36 59h1M43 59h1M54 59h1M25 60h2M91 60h1M45 61h1M23 62h1M35 62h1M81 62h2M28 63h1M53 63h1M71 64h1M22 65h1M29 65h1M34 65h1M22 66h1M30 66h1M33 66h1M53 66h1M88 66h1M6 67h1M69 67h1M54 68h1M65 68h2M89 68h1M7 69h1M56 69h3M23 70h1M89 70h1M88 71h1M8 72h1M22 72h1M87 72h1M9 73h1M20 73h1M11 74h1M85 74h1M14 75h3M84 75h1M35 76h1M82 76h1M79 77h1M78 78h1M28 79h1M77 79h1M25 80h1M47 80h1M76 80h1M43 81h1M50 81h1M42 82h1M7 83h1M51 83h1M69 85h1M93 85h1M93 86h1M11 87h1M55 87h5M62 87h1M93 87h1M8 88h1M41 88h1M93 88h1M17 89h1M8 90h1M11 90h1M7 91h1M14 91h1M39 94h1M95 94h1M5 95h1M38 95h1"/>
<path stroke="#ff2000" d="M68 0h1M12 1h1M58 1h4M68 1h1M8 2h4M23 2h1M56 2h1M63 2h1M67 2h1M55 3h1M64 3h1M53 4h2M53 5h1M18 6h1M52 6h1M84 6h1M52 7h1M84 7h1M84 8h1M95 8h1M53 9h1M96 9h1M53 10h1M53 11h1M53 12h1M84 14h1M84 15h1M13 16h1M84 16h1M55 17h1M84 17h1M15 18h1M84 18h1M31 20h1M33 20h1M57 20h1M85 20h1M23 21h1M30 21h1M33 21h1M57 21h1M85 21h1M25 22h1M29 22h1M86 22h1M0 23h2M35 23h1M57 23h1M91 23h1M14 24h1M38 24h1M57 24h1M41 25h1M17 26h1M3 27h1M2 28h1M4 28h1M5 29h1M21 29h1M57 29h1M67 29h2M2 30h1M6 30h1M57 30h1M67 30h2M94 30h1M4 31h5M25 31h1M49 31h1M90 31h1M10 32h1M26 32h2M6 33h1M12 33h1M28 33h2M13 34h1M29 34h1M8 35h1M14 35h1M29 35h2M69 35h2M76 35h3M9 36h1M13 36h2M30 36h1M51 36h1M11 37h3M21 37h4M31 37h1M20 38h1M25 38h1M33 38h1M53 38h1M91 38h1M18 39h2M25 39h1M35 39h1M89 39h1M18 40h1M36 40h1M24 41h1M39 41h1M55 41h1M84 41h1M40 42h1M18 43h1M23 43h1M19 44h1M41 44h1M86 47h1M90 47h1M91 48h1M81 49h1M51 50h1M80 50h1M92 50h1M92 51h1M52 52h1M76 54h1M54 56h1M37 57h1M39 57h1M25 58h1M36 58h1M41 58h1M25 59h2M92 59h1M24 60h1M54 60h1M72 60h1M23 61h1M27 61h1M35 61h1M90 62h1M0 63h1M3 64h1M22 64h1M29 64h1M34 64h1M53 64h1M88 64h1M53 65h1M88 65h1M31 66h2M70 66h1M22 67h1M45 67h1M68 67h1M7 68h1M64 68h1M23 69h1M8 71h1M21 72h1M10 73h1M86 73h1M12 74h1M18 74h1M40 75h1M36 76h1M83 76h1M33 77h1M80 77h1M31 78h1M29 79h1M77 80h1M23 81h1M74 81h2M73 82h1M96 82h1M8 83h1M10 83h2M42 83h1M72 83h1M51 84h1M71 84h1M19 85h1M7 86h1M11 86h1M52 86h1M66 86h1M8 87h1M18 87h1M54 87h1M63 87h1M9 88h2M9 89h2M9 90h2M94 90h1M8 91h1M12 91h2M15 91h1M40 92h1M95 92h1M6 93h1M40 93h1M95 93h1M39 95h1M95 95h1"/>
<path stroke="#ff0b00" d="M5 0h1M69 0h1M84 0h1M84 1h1M57 2h6M68 2h1M84 2h1M56 3h1M63 3h1M67 3h1M84 3h1M55 4h1M64 4h3M54 5h1M84 5h1M96 5h1M53 6h1M95 6h1M17 7h1M53 7h1M16 8h1M53 8h1M15 9h1M14 10h1M13 12h1M13 15h1M54 15h1M14 17h1M16 18h1M56 18h1M85 18h1M31 19h2M57 19h1M85 19h1M21 20h1M30 20h1M86 21h1M9 22h2M34 22h1M87 22h1M13 23h1M92 23h1M39 24h1M57 25h1M44 26h1M46 27h1M57 27h1M3 28h1M20 28h1M47 28h1M57 28h1M66 28h2M2 29h3M22 29h1M48 29h1M66 29h1M3 30h3M24 30h1M66 30h1M69 30h1M93 30h1M26 31h1M68 31h1M89 31h1M6 32h4M28 32h3M10 33h2M30 33h1M58 33h1M85 33h1M7 34h1M11 34h2M30 34h1M50 34h1M59 34h1M83 34h1M9 35h1M12 35h2M10 36h3M31 36h1M93 36h1M32 37h2M52 37h1M92 37h1M21 38h1M24 38h1M34 38h1M90 38h1M20 39h1M24 39h1M36 39h1M54 39h1M19 40h1M24 40h1M37 40h2M87 40h1M18 41h1M23 41h1M40 41h1M18 42h1M23 42h1M56 42h1M80 42h1M19 43h1M41 43h1M56 43h1M76 43h2M20 44h3M42 44h1M56 44h1M73 44h1M43 45h1M57 45h1M45 46h1M61 46h1M70 46h1M63 47h1M52 51h1M53 54h1M75 55h1M74 56h1M24 57h3M40 57h1M24 58h1M26 58h1M42 58h1M24 59h1M27 59h1M44 59h1M27 60h1M35 60h1M91 61h1M28 62h1M1 63h1M34 63h1M71 63h1M89 63h1M5 65h1M30 65h1M33 65h1M6 66h1M54 67h1M67 67h1M89 67h1M45 68h1M55 68h1M62 68h2M45 69h1M90 69h1M8 70h1M90 70h1M22 71h1M89 71h1M9 72h1M44 72h1M88 72h1M19 73h1M87 73h1M13 74h2M17 74h1M86 74h1M85 75h1M92 75h1M37 76h1M84 76h1M34 77h1M32 78h1M79 78h1M78 79h1M26 80h1M24 81h1M49 81h1M76 81h2M22 82h1M50 82h1M9 83h1M21 83h1M95 83h1M7 84h1M11 84h1M20 84h1M42 84h1M94 84h1M11 85h1M42 85h1M51 85h1M19 86h1M42 86h1M9 87h2M53 87h1M64 87h1M18 88h1M41 89h1M17 90h1M41 90h1M9 91h3M7 92h1M6 94h1M40 94h1"/>
<path stroke="#f40000" d="M13 0h1M70 0h1M5 1h1M69 1h1M6 2h1M57 3h6M68 3h1M56 4h1M63 4h1M67 4h1M84 4h1M55 5h1M54 6h2M54 7h2M95 7h1M54 8h2M96 8h1M54 9h2M54 10h1M54 11h1M54 12h1M13 13h1M54 13h1M13 14h1M54 14h1M55 16h1M85 17h1M17 18h1M19 19h1M33 19h1M86 19h1M34 20h1M86 20h1M24 21h1M29 21h1M34 21h1M58 21h1M87 21h1M2 22h3M6 22h3M11 22h1M28 22h1M35 22h1M58 22h1M36 23h1M58 23h1M40 24h1M16 25h1M42 25h1M45 26h1M57 26h1M19 27h1M66 27h1M65 28h1M68 28h1M23 29h1M65 29h1M69 29h1M25 30h1M27 31h4M67 31h1M31 32h1M87 32h1M7 33h3M31 33h1M8 34h3M31 34h1M10 35h2M31 35h1M32 36h1M34 37h1M22 38h2M35 38h1M21 39h3M20 40h4M39 40h1M55 40h1M86 40h1M19 41h2M22 41h1M56 41h1M83 41h1M19 42h1M22 42h1M41 42h1M79 42h1M20 43h3M75 43h1M44 45h1M71 45h1M47 47h1M69 47h1M85 47h1M48 48h1M68 48h1M82 48h1M50 49h1M92 49h1M79 50h1M26 51h2M78 51h1M25 52h1M77 52h1M24 53h2M53 53h1M24 54h2M24 55h2M54 55h1M24 56h3M36 56h3M27 57h1M36 57h1M55 57h1M73 57h1M93 57h1M27 58h1M55 58h1M28 59h1M35 59h1M72 59h1M28 60h1M45 60h1M92 60h1M28 61h1M34 61h1M54 61h1M34 62h1M2 63h1M29 63h1M4 64h1M33 64h1M31 65h2M7 67h1M22 68h1M56 68h1M60 68h2M90 68h1M8 69h1M91 69h1M22 70h1M91 70h1M9 71h1M90 71h1M10 72h1M20 72h1M11 73h2M15 74h2M43 74h1M41 75h1M86 75h1M91 75h1M85 76h1M92 76h1M35 77h1M81 77h1M33 78h1M30 79h1M27 80h1M78 80h1M25 81h1M44 81h1M23 82h2M74 82h3M50 83h1M10 84h1M7 85h1M20 85h1M8 86h1M10 86h1M20 86h1M19 87h1M42 87h1M52 87h1M94 89h1M16 91h1M41 91h1M95 91h1M8 92h1M41 92h1M7 93h1M6 95h1M40 95h1M96 95h1"/>
<path stroke="#df0000" d="M24 1h1M70 1h1M69 2h1M22 3h1M57 4h6M68 4h1M56 5h2M62 5h7M56 6h1M67 6h2M96 6h1M56 7h1M68 7h1M96 7h1M56 8h1M68 8h1M56 9h1M55 10h1M14 11h1M55 11h1M85 11h1M85 12h1M85 13h1M55 15h1M85 15h1M14 16h1M85 16h1M15 17h1M56 17h1M57 18h1M86 18h1M30 19h1M87 19h1M22 20h1M29 20h1M58 20h1M87 20h1M35 21h1M0 22h2M5 22h1M26 22h1M88 22h1M37 23h1M15 24h1M58 24h1M43 25h1M18 26h1M65 27h1M67 27h1M21 28h1M96 29h1M49 30h1M65 30h1M92 30h1M31 31h1M66 31h1M69 31h1M50 33h1M63 34h2M67 34h2M32 35h1M51 35h1M95 35h2M33 36h1M91 37h1M36 38h1M37 39h1M88 39h1M40 40h1M21 41h1M41 41h1M82 41h1M20 42h2M57 42h1M42 43h1M57 43h1M74 43h1M43 44h1M57 44h1M72 44h1M46 46h1M84 47h1M65 48h1M80 49h1M52 50h1M25 51h1M28 51h3M53 51h1M24 52h1M26 52h7M53 52h1M76 53h1M23 54h1M26 55h1M36 55h2M55 55h1M27 56h1M39 56h1M55 56h1M93 56h1M23 57h1M28 57h1M35 57h1M41 57h1M23 58h1M28 58h1M35 58h1M43 58h1M93 58h1M55 59h1M23 60h1M34 60h1M0 62h2M29 62h1M46 62h1M54 62h1M71 62h1M91 62h1M3 63h1M22 63h1M33 63h1M46 63h1M90 63h1M30 64h1M89 64h1M70 65h1M69 66h1M89 66h1M66 67h1M8 68h1M57 68h3M22 69h1M45 70h1M92 70h1M21 71h1M91 71h1M89 72h1M13 73h1M18 73h1M44 73h1M88 73h1M87 74h1M91 74h2M93 75h1M38 76h1M93 76h1M82 77h1M80 78h1M31 79h1M79 79h1M28 80h1M48 81h1M78 81h1M25 82h1M43 82h1M77 82h1M22 83h1M25 83h2M73 83h1M8 84h2M21 84h1M72 84h1M8 85h3M70 85h1M94 85h1M9 86h1M51 86h1M67 86h1M94 86h1M20 87h2M65 87h1M94 87h1M20 88h2M42 88h1M94 88h1M18 89h1M95 90h1M9 92h4M41 93h1M96 93h1M7 94h1M41 94h1M96 94h1M7 95h1M41 95h1"/>
<path stroke="#ca0000" d="M14 0h1M71 0h1M85 0h1M13 1h1M85 1h1M12 2h1M70 2h1M85 2h1M69 3h1M69 4h1M58 5h4M69 5h1M57 6h2M61 6h6M69 6h1M57 7h1M67 7h1M69 7h1M57 8h2M67 8h1M69 8h1M57 9h2M67 9h2M56 10h2M85 10h1M14 12h1M55 12h1M55 13h1M55 14h1M85 14h1M56 16h1M16 17h1M86 17h1M87 18h1M34 19h1M58 19h1M88 19h1M35 20h1M88 20h1M25 21h1M28 21h1M88 21h1M12 22h1M27 22h1M36 22h1M89 22h1M38 23h1M41 24h1M58 25h1M46 26h1M20 27h1M47 27h1M64 28h1M24 29h1M64 29h1M95 29h1M26 30h5M64 30h1M90 30h2M32 31h1M65 31h1M88 31h1M32 32h1M50 32h1M66 32h3M86 32h1M32 33h1M67 33h2M84 33h1M32 34h1M60 34h3M65 34h2M69 34h7M82 34h1M33 35h1M94 35h1M34 36h1M52 36h1M92 36h1M35 37h1M89 38h1M38 39h1M41 40h1M85 40h1M42 42h1M73 43h1M45 45h1M58 45h3M62 46h1M91 47h1M67 48h1M81 48h1M92 48h1M26 50h4M24 51h1M31 51h2M33 52h1M23 53h1M26 53h9M93 53h1M26 54h1M32 54h4M54 54h2M93 54h1M23 55h1M27 55h2M34 55h2M38 55h1M93 55h1M23 56h1M28 56h2M35 56h1M40 56h1M29 57h2M29 58h2M34 58h1M44 58h1M23 59h1M29 59h1M34 59h1M45 59h1M93 59h1M29 60h1M55 60h1M29 61h1M33 61h1M92 61h1M22 62h1M33 62h1M30 63h1M54 63h1M5 64h1M31 64h2M46 64h1M70 64h1M6 65h1M21 65h1M46 65h1M89 65h1M7 66h1M21 66h1M54 66h1M68 66h1M21 67h1M55 67h1M65 67h1M90 67h1M91 68h1M92 69h1M9 70h1M21 70h1M10 71h1M20 71h1M45 71h1M92 71h1M11 72h2M19 72h1M90 72h2M14 73h1M17 73h1M89 73h3M88 74h3M42 75h1M87 75h4M39 76h1M91 76h1M36 77h1M83 77h1M34 78h1M81 78h1M32 79h1M29 80h1M79 80h1M26 81h1M45 81h1M26 82h1M49 82h1M78 82h1M23 83h2M43 83h1M74 83h5M96 83h1M25 84h1M43 84h1M50 84h1M77 84h2M95 84h1M21 85h1M43 85h1M50 85h1M78 85h1M21 86h1M43 86h1M78 86h2M22 87h1M51 87h1M79 87h1M19 88h1M22 88h1M58 88h4M80 88h1M42 89h1M18 90h1M42 90h1M17 91h1M42 91h1M13 92h1M42 92h1M96 92h1M8 93h1M42 93h1M45 93h1M42 94h1M42 95h2"/>
<path stroke="#b50000" d="M4 0h1M4 1h1M71 1h1M5 2h1M71 2h1M70 3h1M85 3h1M70 4h1M85 4h1M70 5h1M85 5h1M59 6h2M70 6h1M85 6h1M58 7h9M85 7h1M59 8h1M66 8h1M85 8h1M16 9h1M69 9h1M85 9h1M15 10h1M58 10h1M67 10h2M56 11h1M14 13h1M14 15h1M56 15h1M86 15h1M15 16h1M86 16h1M87 17h1M18 18h1M32 18h2M88 18h1M20 19h1M29 19h1M23 20h1M28 20h1M26 21h2M36 21h1M59 21h1M37 22h1M59 22h1M90 22h2M14 23h1M39 23h1M59 23h1M93 23h1M42 24h1M59 24h1M95 24h1M17 25h1M44 25h1M19 26h1M58 26h1M65 26h2M58 27h1M64 27h1M68 27h1M22 28h1M48 28h1M58 28h1M69 28h1M25 29h1M94 29h1M31 30h1M89 30h1M64 31h1M33 32h1M58 32h1M65 32h1M69 32h1M33 33h1M66 33h1M69 33h1M33 34h1M51 34h1M76 34h1M79 34h2M35 36h1M36 37h1M53 37h1M37 38h1M54 38h1M39 39h2M56 40h1M42 41h1M57 41h1M81 41h1M58 42h1M75 42h2M78 42h1M43 43h1M58 43h1M44 44h1M58 44h1M71 44h1M61 45h1M70 45h1M69 46h1M64 47h1M83 47h1M66 48h1M51 49h1M25 50h1M30 50h1M53 50h1M78 50h1M33 51h1M54 51h1M93 51h1M34 52h1M54 52h2M93 52h1M35 53h1M54 53h3M27 54h5M36 54h2M56 54h1M75 54h1M29 55h5M56 55h1M30 56h5M41 56h1M56 56h1M31 57h4M42 57h2M56 57h1M31 58h3M30 59h1M33 59h1M30 60h1M33 60h1M0 61h1M30 61h1M46 61h1M55 61h1M71 61h1M2 62h1M30 62h1M32 62h1M4 63h1M31 63h2M70 63h1M54 64h1M90 64h1M54 65h1M69 65h1M67 66h1M8 67h1M64 67h1M21 68h1M9 69h1M21 69h1M93 69h1M10 70h1M93 70h1M11 71h1M13 72h1M18 72h1M92 72h1M15 73h2M92 73h1M93 74h1M40 76h1M86 76h1M37 77h1M84 77h1M35 78h1M33 79h1M80 79h1M30 80h1M27 81h2M46 81h2M79 81h1M27 82h1M44 82h1M49 83h1M24 84h1M26 84h1M73 84h1M76 84h1M79 84h1M76 85h2M79 85h1M95 85h1M22 86h1M44 86h1M50 86h1M77 86h1M80 86h1M43 87h1M78 87h1M80 87h1M43 88h1M52 88h6M62 88h2M79 88h1M81 88h1M19 89h3M80 89h2M95 89h1M19 90h1M43 91h4M96 91h1M14 92h1M43 92h4M9 93h2M43 93h2M46 93h1M8 94h1M43 94h4M8 95h1M44 95h3"/>
<path stroke="#9f0000" d="M15 0h1M25 0h1M86 0h1M14 1h1M13 2h1M71 3h1M21 4h1M71 4h1M71 5h1M70 7h1M17 8h1M60 8h6M59 9h2M66 9h1M15 11h1M67 11h1M56 12h1M56 13h1M14 14h1M56 14h1M86 14h1M87 16h1M17 17h1M57 17h1M31 18h1M58 18h1M35 19h1M89 19h1M24 20h4M36 20h1M89 20h1M37 21h1M89 21h2M40 23h1M16 24h1M96 24h1M45 25h1M59 25h1M21 27h1M23 28h1M26 29h2M49 29h1M58 29h1M63 29h1M93 29h1M32 30h1M33 31h1M50 31h1M87 31h1M34 32h1M64 32h1M64 33h2M70 33h3M77 34h2M81 34h1M34 35h2M36 36h1M37 37h1M90 37h1M38 38h1M55 39h1M87 39h1M42 40h1M84 40h1M80 41h1M43 42h1M74 42h1M77 42h1M44 43h1M59 43h1M72 43h1M45 44h1M59 44h2M46 45h1M47 46h1M63 46h1M87 46h4M48 47h1M68 47h1M49 48h1M80 48h1M52 49h1M79 49h1M31 50h1M54 50h3M93 50h1M55 51h2M77 51h1M23 52h1M56 52h1M36 53h1M39 55h1M74 55h1M42 56h1M44 57h1M45 58h1M56 58h1M72 58h1M31 59h2M56 59h1M31 60h2M46 60h1M93 60h1M1 61h1M22 61h1M31 61h2M3 62h1M31 62h1M55 62h1M92 62h1M91 63h1M21 64h1M69 64h1M90 65h1M46 66h1M90 66h1M56 67h2M91 67h1M9 68h1M92 68h1M20 69h1M11 70h1M20 70h1M12 71h1M19 71h1M93 71h1M14 72h1M45 72h1M44 74h1M87 76h4M85 77h1M36 78h1M82 78h1M34 79h1M31 80h2M29 81h1M28 82h1M48 82h1M79 82h1M27 83h1M44 83h1M79 83h1M22 84h2M44 84h1M49 84h1M74 84h2M80 84h1M96 84h1M22 85h1M24 85h2M44 85h6M72 85h1M75 85h1M80 85h1M23 86h1M45 86h5M76 86h1M95 86h1M23 87h1M44 87h7M66 87h1M77 87h1M81 87h1M95 87h1M44 88h5M51 88h1M78 88h1M95 88h1M43 89h6M79 89h1M82 89h1M20 90h1M43 90h5M80 90h2M96 90h1M18 91h1M47 91h1M15 92h1M47 92h1M11 93h1M47 93h1M9 94h1M47 94h1M9 95h1M47 95h1"/>
<path stroke="#8a0000" d="M16 0h1M72 0h1M15 1h1M86 1h1M4 2h1M7 3h4M20 5h1M19 6h1M71 6h1M18 7h1M70 8h1M61 9h5M59 10h8M57 11h1M63 11h4M68 11h1M15 12h1M63 12h4M86 12h1M15 13h1M86 13h1M15 14h1M15 15h1M87 15h1M16 16h1M88 17h1M28 19h1M59 20h1M90 20h1M0 21h4M38 21h1M91 21h1M13 22h1M38 22h2M92 22h1M41 23h1M43 24h1M47 26h1M59 26h1M64 26h1M67 26h1M48 27h1M69 27h1M24 28h1M63 28h1M28 29h2M91 29h2M58 30h1M63 30h1M34 31h1M58 31h1M63 31h1M35 32h1M63 32h1M70 32h1M85 32h1M34 33h2M51 33h1M59 33h1M63 33h1M73 33h3M83 33h1M34 34h2M36 35h1M52 35h1M93 35h1M39 38h1M88 38h1M41 39h1M86 39h1M43 41h1M78 41h2M44 42h1M59 42h1M73 42h1M60 43h1M61 44h1M70 44h1M62 45h1M86 46h1M82 47h1M53 49h2M93 49h1M24 50h1M32 50h1M23 51h1M57 51h1M35 52h1M57 52h1M76 52h1M57 53h1M38 54h1M57 54h1M22 55h1M40 55h1M57 55h1M22 56h1M43 56h2M57 56h1M22 57h1M45 57h1M22 58h1M22 59h1M46 59h1M0 60h2M22 60h1M56 60h1M2 61h2M93 61h1M4 62h1M70 62h1M93 62h1M5 63h1M6 64h1M91 64h1M68 65h1M20 66h1M55 66h1M66 66h1M20 67h1M46 67h1M58 67h1M63 67h1M20 68h1M10 69h2M19 69h1M12 70h1M19 70h1M94 70h1M13 71h1M18 71h1M94 71h1M15 72h1M17 72h1M93 72h2M93 73h2M94 74h1M43 75h1M94 75h1M41 76h1M38 77h2M83 78h1M81 79h1M80 80h1M30 81h1M80 81h1M29 82h1M45 82h3M80 82h1M45 83h4M80 83h1M45 84h4M23 85h1M71 85h1M73 85h2M96 85h1M24 86h1M68 86h1M74 86h2M81 86h1M96 86h1M76 87h1M96 87h1M49 88h2M64 88h1M77 88h1M82 88h1M96 88h1M49 89h1M78 89h1M96 89h1M48 90h1M79 90h1M82 90h1M19 91h1M82 91h1M16 92h1M12 93h1M10 94h1M10 95h1"/>
</g></g></g>
<g filter="url(#nb)"><rect x="326" y="6" width="186" height="194" fill="#808080"/><g transform="translate(326,7) scale(2)" stroke-width="1" shape-rendering="crispEdges" fill="none">
<path stroke="#414141" d="M2 0h1M15 0h2M84 0h1M14 1h1M11 2h1M83 2h1M83 3h1M83 4h1M18 5h1M17 6h1M69 6h1M68 8h1M83 8h1M83 9h1M58 10h1M14 11h1M55 11h1M60 11h1M14 13h1M84 13h1M55 16h1M85 16h1M18 18h1M34 19h1M57 19h1M87 19h1M88 20h1M37 21h1M89 21h1M90 22h1M42 24h1M63 25h1M61 26h1M66 26h1M21 27h1M57 27h1M67 27h1M90 27h1M24 28h1M47 28h1M90 28h1M28 29h1M48 30h1M56 30h1M85 30h1M56 31h1M69 32h1M82 32h1M60 33h1M73 33h3M80 33h1M34 34h1M50 35h1M90 35h1M35 36h1M36 37h1M74 41h2M57 42h1M43 43h1M58 43h1M59 44h1M60 45h1M61 46h1M88 46h1M46 47h1M62 47h1M89 47h1M55 51h1M21 52h1M33 52h1M55 52h1M72 54h1M91 54h1M91 55h1M41 56h1M91 56h1M43 57h1M55 57h1M91 57h1M44 58h1M44 59h1M91 59h1M0 60h2M91 60h1M2 61h1M91 61h1M3 62h1M20 62h1M91 62h1M90 63h1M89 64h1M6 66h1M53 66h1M7 67h1M18 67h1M54 67h1M8 68h1M18 68h1M9 69h1M44 69h1M11 70h1M17 70h1M12 71h1M13 72h1M43 74h1M91 77h1M35 79h1M81 79h1M33 80h1M31 81h1M79 81h1M78 82h2M28 83h1M78 83h1M78 84h1M78 85h1M24 86h1M23 87h1M71 87h1M63 89h1M74 89h1M49 90h1M75 90h1M80 90h1M47 91h1M76 91h1M18 92h1M78 92h1M80 92h1M16 93h1M46 93h1M12 94h1M46 94h1M10 95h1M9 96h1"/>
<path stroke="#434343" d="M24 0h1M85 0h1M15 1h1M84 1h1M12 2h2M83 5h1M83 6h1M83 7h1M57 10h1M59 11h1M14 12h1M55 12h1M60 12h1M62 13h1M85 15h1M30 17h1M56 17h1M21 19h1M24 19h2M36 20h1M10 21h1M39 22h1M58 24h1M17 25h1M58 25h1M62 25h1M19 26h1M46 26h1M47 27h1M25 28h1M60 28h1M89 28h1M91 28h1M29 29h1M60 29h1M87 29h1M32 30h1M60 30h1M33 31h1M60 31h1M68 31h1M83 31h1M49 32h1M60 32h1M70 32h2M34 33h1M58 33h2M76 33h1M38 38h1M85 38h1M83 39h1M41 40h1M80 40h1M42 41h1M56 41h1M73 41h1M43 42h1M70 42h1M68 43h1M67 44h1M66 46h1M84 46h4M65 47h1M79 47h1M47 48h1M77 48h1M90 48h1M50 49h3M76 49h1M30 50h1M55 50h1M75 50h1M32 51h1M74 51h1M91 53h1M36 54h1M38 55h1M20 56h1M42 56h1M20 57h1M20 58h1M55 58h1M0 59h2M20 59h1M2 60h1M20 60h1M3 61h1M54 61h1M4 63h1M67 63h1M91 63h1M19 64h1M53 64h1M90 64h1M53 65h1M89 65h1M18 66h1M89 66h1M8 67h1M55 67h1M62 67h1M89 67h1M9 68h1M10 69h1M17 69h1M16 70h1M13 71h1M16 71h1M14 72h2M92 72h1M92 73h1M92 74h1M42 76h1M40 77h1M83 78h1M80 80h1M30 82h1M79 83h1M27 84h1M70 87h1M79 87h1M72 88h1M80 89h1M50 90h1M57 90h2M48 91h1M19 92h1M47 92h1M77 92h1M79 93h1M46 95h1M46 96h1"/>
<path stroke="#454545" d="M17 0h1M25 0h1M70 0h1M86 0h1M2 1h1M16 1h1M25 1h1M85 1h2M3 2h1M14 2h1M84 2h1M69 7h1M15 9h1M58 11h1M66 11h1M65 12h1M84 12h1M61 13h1M63 13h1M85 14h1M15 15h1M55 15h1M31 17h1M86 17h1M33 18h1M57 18h1M23 19h1M89 20h1M38 21h1M58 21h1M58 22h1M14 23h1M41 23h1M58 23h1M43 24h1M45 25h1M64 25h1M20 26h1M47 26h1M58 26h1M60 26h1M67 26h1M22 27h1M58 27h1M60 27h1M89 27h1M91 27h1M26 28h1M57 28h1M68 28h1M92 28h1M68 29h1M69 31h3M72 32h1M77 33h3M50 34h1M35 35h1M51 36h1M88 36h1M37 37h1M40 39h1M79 40h1M72 41h1M69 42h1M67 43h1M44 44h1M83 46h1M63 47h1M26 49h2M53 49h1M22 50h1M21 51h1M73 52h1M91 52h1M35 53h1M72 53h1M20 55h1M39 55h1M71 55h1M44 57h1M0 58h1M2 59h1M3 60h1M4 61h1M20 61h1M4 62h1M45 62h1M45 63h1M5 64h1M66 64h1M90 65h1M64 66h1M9 67h1M10 68h1M17 68h1M90 68h1M11 69h1M16 69h1M12 70h1M44 70h1M14 71h2M44 71h1M92 71h1M43 75h1M92 75h1M38 78h1M84 78h2M36 79h1M34 80h1M32 81h1M80 81h1M80 82h1M29 83h1M79 84h1M65 88h1M71 88h1M80 88h1M64 89h1M73 89h1M51 90h1M53 90h4M59 90h3M74 90h1M20 91h1M81 91h1M81 92h1M17 93h1M78 93h1M80 93h1M11 95h1M10 96h1"/>
<path stroke="#474747" d="M26 0h1M23 1h2M26 1h1M70 1h1M70 2h1M85 2h2M7 3h2M84 3h1M70 4h1M70 5h1M70 6h1M69 8h1M56 11h2M84 11h1M59 12h1M55 13h1M60 13h1M55 14h1M16 16h1M86 16h1M27 18h1M22 19h1M35 19h1M88 19h1M37 20h1M58 20h1M11 21h1M90 21h1M40 22h1M61 25h1M21 26h1M59 26h1M90 26h1M59 27h1M68 27h1M58 28h2M88 28h1M30 29h1M48 29h1M57 29h1M86 29h1M68 30h1M71 30h1M84 30h1M49 31h1M34 32h1M73 32h1M81 32h1M36 36h1M82 39h1M55 40h1M78 40h1M43 41h1M71 41h1M44 42h1M58 42h1M67 42h2M44 43h1M59 43h1M60 44h1M66 44h1M66 45h1M82 46h1M64 47h1M24 49h2M31 50h1M56 51h1M91 51h1M34 52h1M56 52h1M20 54h1M71 54h1M1 58h1M45 58h1M45 59h1M55 59h1M45 60h1M45 61h1M5 62h1M54 62h1M67 62h1M92 62h1M5 63h1M19 63h1M45 64h1M91 64h1M6 65h1M18 65h1M65 65h1M7 66h3M54 66h1M90 66h1M10 67h1M17 67h1M56 67h1M61 67h1M90 67h1M12 69h1M91 69h1M13 70h3M92 70h1M44 72h1M44 73h1M43 76h1M41 77h1M86 78h2M82 79h1M81 80h1M31 82h1M80 83h1M28 84h1M79 85h1M79 86h1M67 87h1M69 87h1M23 88h1M70 88h1M22 89h1M72 89h1M52 90h1M62 90h2M81 90h1M49 91h1M75 91h1M76 92h1M47 93h1M13 94h1"/>
<path stroke="#494949" d="M27 0h1M87 0h1M87 1h1M25 2h1M5 3h2M9 3h2M70 3h1M85 3h1M84 4h1M70 7h1M68 9h1M84 10h1M64 13h1M85 13h1M15 14h1M56 16h1M17 17h1M87 18h1M58 19h1M0 20h1M39 21h1M91 22h1M42 23h1M16 24h1M18 25h1M46 25h1M59 25h2M65 25h1M48 26h1M68 26h1M23 27h1M48 27h1M69 27h1M27 28h1M48 28h1M69 28h1M59 29h1M69 29h2M69 30h2M72 31h1M57 32h1M59 32h1M74 32h1M50 33h1M35 34h1M86 37h1M39 38h1M84 38h1M42 40h1M77 40h1M66 43h1M45 45h1M61 45h1M62 46h1M65 46h1M78 47h1M28 49h1M54 49h1M20 53h1M37 54h1M40 55h1M43 56h1M0 57h2M70 57h1M2 58h1M3 59h1M69 59h1M4 60h1M5 61h1M68 61h1M92 61h1M6 62h1M19 62h1M6 63h1M54 63h1M92 63h1M6 64h1M18 64h1M91 65h1M10 66h1M17 66h1M57 67h4M11 68h1M16 68h1M91 68h1M15 69h1M44 74h1M92 76h1M42 77h1M39 78h1M88 78h2M37 79h1M35 80h1M81 81h1M30 83h1M80 84h1M26 85h1M24 87h1M80 87h1M65 89h1M81 89h1M64 90h1M67 90h1M73 90h1M48 92h1M18 93h1M77 93h1M81 93h1M14 94h1M47 94h1M79 94h1M47 95h1M47 96h1"/>
<path stroke="#4b4b4b" d="M1 0h1M28 0h1M17 1h1M27 1h1M15 2h1M4 3h1M11 3h1M86 3h1M84 5h1M16 8h1M70 8h1M84 9h1M56 12h1M58 12h1M66 12h1M65 13h1M61 14h1M86 15h1M29 17h1M32 17h1M57 17h1M19 18h1M34 18h1M58 18h1M36 19h1M89 19h1M1 20h1M38 20h1M90 20h1M13 22h1M41 22h1M92 23h1M44 24h1M59 24h1M47 25h1M66 25h1M24 27h1M70 28h1M31 29h1M58 29h1M71 29h1M33 30h1M57 30h1M59 30h1M34 31h1M57 31h1M59 31h1M82 31h1M58 32h1M75 32h1M80 32h1M51 35h1M38 37h1M52 37h1M54 39h1M75 40h2M57 41h1M70 41h1M66 42h1M60 43h1M65 43h1M61 44h1M81 46h1M89 46h1M90 47h1M91 49h1M56 50h1M74 50h1M91 50h1M33 51h1M73 51h1M72 52h1M56 53h1M71 53h1M41 55h1M56 55h1M0 56h1M56 56h1M2 57h1M3 58h1M19 58h1M4 59h1M19 59h1M5 60h1M19 60h1M55 60h1M92 60h1M6 61h1M19 61h1M54 64h1M92 64h1M7 65h3M17 65h1M45 65h1M54 65h1M55 66h1M91 66h1M11 67h1M16 67h1M91 67h1M12 68h1M15 68h1M13 69h2M92 69h1M44 75h1M43 77h1M40 78h1M83 79h3M82 80h1M33 81h1M81 82h1M81 83h1M29 84h1M80 85h1M80 86h1M68 87h1M81 87h1M66 88h1M69 88h1M81 88h1M66 89h2M71 89h1M65 90h2M68 90h1M50 91h1M67 91h1M74 91h1M82 91h1M20 92h1M15 94h1M78 94h1M80 94h1M12 95h1M11 96h1"/>
<path stroke="#4d4d4d" d="M18 0h1M29 0h6M2 2h1M26 2h1M87 2h1M12 3h1M85 4h1M84 6h1M84 7h1M84 8h1M69 9h2M15 10h1M67 10h1M57 12h1M85 12h1M15 13h1M59 13h1M62 14h1M86 14h1M58 17h1M87 17h1M26 18h1M88 18h1M2 20h1M40 21h1M69 26h1M70 27h1M28 28h1M87 28h1M85 29h1M49 30h1M58 30h1M72 30h1M83 30h1M58 31h1M35 33h1M36 35h1M37 36h1M53 38h1M83 38h1M41 39h1M81 39h1M74 40h1M44 41h1M69 41h1M59 42h1M65 42h1M61 43h1M65 44h1M62 45h1M65 45h1M64 46h1M48 48h1M23 49h1M29 49h1M75 49h1M21 50h1M20 52h1M36 53h1M38 54h1M56 54h1M1 56h1M19 57h1M45 57h1M56 57h1M92 59h1M7 62h1M18 62h1M7 63h1M18 63h1M66 63h1M7 64h2M10 65h1M92 65h1M16 66h1M13 68h2M92 68h1M44 76h1M86 79h1M82 81h1M81 84h1M27 85h1M81 85h1M81 86h1M23 89h1M68 89h3M82 89h1M72 90h1M82 90h1M56 91h11M68 91h1M49 92h1M75 92h1M82 92h1M19 93h1M48 93h1M76 93h1"/>
<path stroke="#4f4f4f" d="M35 0h1M1 1h1M28 1h1M13 3h1M8 4h2M86 4h1M19 5h1M85 5h1M71 6h1M71 7h1M71 8h1M71 9h1M15 11h1M67 11h1M85 11h1M15 12h1M56 13h1M86 13h1M60 14h1M63 14h1M16 15h1M56 15h1M57 16h1M87 16h1M59 17h1M59 18h1M37 19h1M59 19h1M3 20h6M91 21h1M15 23h1M43 23h1M59 23h1M45 24h1M60 24h1M62 24h1M19 25h1M67 25h1M22 26h1M89 26h1M25 27h1M88 27h1M71 28h1M32 29h1M73 31h1M50 32h1M76 32h2M79 32h1M51 34h1M92 34h1M43 40h1M73 40h1M58 41h1M67 41h2M64 42h1M62 43h3M45 44h1M62 44h1M64 44h1M46 46h1M63 46h1M80 46h1M76 48h1M91 48h1M32 50h1M35 52h1M92 54h1M0 55h1M42 55h1M92 55h1M19 56h1M92 56h1M3 57h1M92 57h1M4 58h1M56 58h1M92 58h1M5 59h1M46 59h1M6 60h1M18 60h1M18 61h1M55 61h1M8 63h1M17 63h1M9 64h1M17 64h1M11 66h1M45 66h1M56 66h1M63 66h1M92 66h1M12 67h1M15 67h1M92 67h1M92 77h1M36 80h1M83 80h3M34 81h1M32 82h1M82 82h1M31 83h1M82 83h1M30 84h1M82 84h1M82 85h1M82 86h1M82 87h1M24 88h1M67 88h2M82 88h1M21 90h1M69 90h1M51 91h1M53 91h3M73 91h1M57 92h3M66 92h2M57 93h3M16 94h1M56 94h4M77 94h1M81 94h1M48 95h1M48 96h1"/>
<path stroke="#515151" d="M88 0h1M88 1h1M24 2h1M27 2h1M3 3h1M7 4h1M10 4h1M20 4h1M71 5h1M18 6h1M85 6h1M17 7h1M70 10h2M67 12h1M57 13h2M66 13h1M56 14h1M59 14h1M87 15h1M58 16h1M18 17h1M88 17h1M20 18h1M35 18h1M89 18h1M90 19h1M39 20h1M59 20h1M42 22h1M59 22h1M17 24h1M46 24h1M61 24h1M63 24h1M48 25h1M68 25h1M70 26h1M92 27h1M29 28h1M49 29h1M81 31h1M35 32h1M78 32h1M89 35h1M87 36h1M85 37h1M80 39h1M56 40h1M72 40h1M66 41h1M60 42h4M45 43h1M63 44h1M63 45h2M47 47h1M77 47h1M30 49h1M55 49h1M20 51h1M57 51h1M72 51h1M57 52h1M71 52h1M92 53h1M39 54h1M1 55h1M2 56h1M44 56h1M18 58h1M46 58h1M18 59h1M46 60h1M7 61h1M8 62h1M17 62h1M55 62h1M65 64h1M16 65h1M55 65h1M14 67h1M45 67h1M44 77h1M41 78h1M38 79h1M87 79h1M86 80h1M83 81h3M83 82h1M83 83h1M83 84h1M28 85h1M83 85h1M25 86h1M70 90h2M21 91h1M52 91h1M69 91h1M50 92h1M55 92h2M60 92h6M68 92h1M74 92h1M20 93h1M49 93h1M55 93h2M60 93h1M82 93h1M48 94h1M55 94h1M60 94h1M13 95h1M56 95h4M79 95h2M12 96h1M56 96h3"/>
<path stroke="#535353" d="M0 0h1M36 0h1M71 0h1M29 1h5M16 2h1M87 3h1M6 4h1M71 4h1M8 5h2M86 5h1M85 7h1M68 10h2M85 10h1M70 11h2M58 14h1M64 14h1M87 14h1M57 15h5M17 16h1M59 16h2M28 17h1M33 17h1M60 17h1M25 18h1M60 18h1M9 20h1M12 21h1M41 21h1M59 21h1M20 25h1M91 26h1M26 27h1M71 27h1M49 28h1M86 28h1M72 29h1M84 29h1M82 30h1M50 31h1M51 33h1M36 34h1M52 36h1M40 38h1M82 38h1M42 39h1M79 39h1M59 41h1M64 41h2M45 42h1M79 46h1M90 46h1M49 48h1M73 50h1M34 51h1M92 52h1M37 53h1M0 54h1M19 55h1M70 56h1M56 59h1M17 61h1M46 61h1M46 62h1M9 63h1M55 63h1M10 64h1M16 64h1M55 64h1M11 65h1M64 65h1M12 66h1M15 66h1M57 66h1M62 66h1M13 67h1M45 68h1M86 81h1M33 82h1M84 82h2M84 83h1M31 84h1M29 85h1M83 86h1M83 87h1M83 88h1M24 89h1M83 89h1M22 90h1M83 90h1M70 91h1M72 91h1M83 91h1M21 92h1M51 92h1M54 92h1M61 93h1M75 93h1M17 94h2M61 94h1M76 94h1M55 95h1M60 95h1M78 95h1M49 96h1M55 96h1M59 96h1"/>
<path stroke="#555555" d="M34 1h1M22 2h1M14 3h1M25 3h2M5 4h1M86 6h1M85 8h1M72 9h1M85 9h1M72 10h1M68 11h2M68 12h4M86 12h1M67 13h1M70 13h1M57 14h1M65 14h1M62 15h1M61 16h1M88 16h1M89 17h1M21 18h1M24 18h1M36 18h1M90 18h1M38 19h1M91 20h1M14 22h1M92 22h1M44 23h1M60 23h1M47 24h1M64 24h1M69 25h1M23 26h1M49 27h1M30 28h1M34 30h1M74 31h1M80 31h1M37 35h1M38 36h1M39 37h1M78 39h1M44 40h1M71 40h1M63 41h1M91 47h1M26 48h1M50 48h1M22 49h1M57 50h1M92 51h1M57 53h1M1 54h1M19 54h1M40 54h1M2 55h1M3 56h1M4 57h1M18 57h1M5 58h1M6 59h1M7 60h1M17 60h1M8 61h1M67 61h1M9 62h1M16 63h1M46 63h1M15 65h1M14 66h1M58 66h4M45 69h1M45 72h1M45 73h1M45 74h1M45 75h1M88 79h1M35 81h1M32 83h1M84 84h1M30 85h1M26 86h1M23 90h1M71 91h1M52 92h2M69 92h1M73 92h1M83 92h1M21 93h1M50 93h1M54 93h1M62 93h6M19 94h1M49 94h1M54 94h1M82 94h1M14 95h1M49 95h1M54 95h1M61 95h1M77 95h1M81 95h1M50 96h1M54 96h1M60 96h1"/>
<path stroke="#575757" d="M37 0h1M0 1h1M18 1h1M35 1h1M71 1h1M1 2h1M28 2h1M71 2h1M88 2h1M2 3h1M71 3h1M4 4h1M11 4h1M7 5h1M10 5h1M20 5h1M72 7h1M72 8h1M72 11h1M72 12h1M68 13h2M71 13h1M87 13h1M16 14h1M66 14h1M63 15h1M88 15h1M34 17h1M22 18h2M0 19h1M60 19h1M40 20h1M65 24h1M21 25h1M49 26h1M71 26h1M27 27h1M33 29h1M83 29h1M50 30h1M73 30h1M35 31h1M36 33h1M52 35h1M84 37h1M43 39h1M55 39h1M77 39h1M57 40h1M70 40h1M45 41h1M60 41h3M46 45h1M83 45h2M88 45h1M25 48h1M27 48h1M51 48h1M31 49h1M74 49h1M92 50h1M71 51h1M36 52h1M0 53h1M19 53h1M70 54h1M43 55h1M70 55h1M46 57h1M17 59h1M56 60h1M68 60h1M16 62h1M66 62h1M10 63h1M11 64h1M46 64h1M12 65h1M56 65h1M13 66h1M45 70h1M45 71h1M42 78h1M37 80h1M87 80h1M34 82h1M86 82h1M85 83h1M84 85h1M27 86h1M25 87h1M25 88h1M25 89h1M24 90h1M70 92h1M72 92h1M51 93h3M68 93h1M74 93h1M20 94h1M50 94h4M62 94h1M15 95h1M50 95h4M13 96h1M51 96h3M61 96h1"/>
<path stroke="#595959" d="M19 0h1M89 0h1M36 1h1M23 2h1M87 4h1M6 5h1M9 6h1M19 6h1M72 6h1M86 7h1M16 9h1M86 11h1M72 13h1M67 14h5M88 14h1M31 16h1M62 16h1M89 16h1M19 17h1M61 17h1M90 17h1M37 18h1M39 19h1M91 19h1M10 20h1M42 21h1M43 22h1M16 23h1M45 23h1M61 23h1M18 24h1M70 25h1M87 27h1M31 28h1M72 28h1M85 28h1M75 31h1M79 31h1M51 32h1M53 37h1M41 38h1M54 38h1M81 38h1M75 39h2M69 40h1M82 45h1M89 45h1M24 48h1M52 48h1M75 48h1M92 49h1M20 50h1M33 50h1M72 50h1M35 51h1M19 52h1M1 53h1M38 53h1M70 53h1M2 54h1M41 54h1M57 54h1M3 55h1M18 56h1M45 56h1M5 57h1M6 58h1M17 58h1M69 58h1M7 59h1M8 60h1M9 61h1M16 61h1M56 61h1M15 64h1M14 65h1M45 76h1M43 78h1M39 79h1M33 83h1M32 84h1M31 85h1M28 86h1M84 86h1M84 87h1M84 88h1M84 89h1M25 90h1M84 90h1M22 91h1M71 92h1M69 93h1M83 93h1M21 94h1M63 94h5M75 94h1M16 95h1M62 95h1M76 95h1M78 96h3"/>
<path stroke="#5b5b5b" d="M38 0h1M89 1h1M17 2h1M29 2h1M21 3h1M24 3h1M27 3h1M3 4h1M12 4h1M5 5h1M8 6h1M20 6h2M86 10h1M87 12h1M64 15h2M89 15h1M30 16h1M27 17h1M35 17h1M61 18h1M1 19h1M41 20h1M60 20h1M92 21h1M60 22h1M46 23h1M48 24h1M66 24h1M24 26h1M28 27h1M81 30h1M76 31h1M78 31h1M52 34h1M91 34h1M88 35h1M86 36h1M74 39h1M58 40h1M67 40h2M85 45h1M87 45h1M78 46h1M28 48h1M92 48h1M56 49h1M58 51h1M0 52h1M57 55h1M4 56h1M57 56h1M47 58h1M47 59h1M16 60h1M10 62h1M11 63h1M15 63h1M12 64h1M56 64h1M13 65h1M46 65h1M57 65h1M90 78h1M87 81h1M85 84h1M32 85h1M29 86h2M26 87h1M23 91h2M84 91h1M22 92h1M22 93h1M70 93h1M73 93h1M68 94h1M17 95h1M63 95h2M82 95h1M14 96h1M62 96h1M77 96h1M81 96h1"/>
<path stroke="#5d5d5d" d="M37 1h1M0 2h1M30 2h4M15 3h1M88 3h1M21 5h1M72 5h1M87 5h1M7 6h1M18 7h1M86 8h1M86 9h1M73 11h1M16 13h1M88 13h1M72 14h1M17 15h1M66 15h1M69 15h2M18 16h1M32 16h1M63 16h1M90 16h1M62 17h1M38 18h1M91 18h1M60 21h1M62 23h1M67 24h2M49 25h1M25 26h1M88 26h1M84 28h1M50 29h1M73 29h1M82 29h1M77 31h1M36 32h1M37 34h1M38 35h1M39 36h1M40 37h1M83 37h1M42 38h1M44 39h1M73 39h1M59 40h1M62 40h5M46 44h1M81 45h1M91 46h1M76 47h1M53 48h1M21 49h1M73 49h1M19 51h1M37 52h1M58 52h1M70 52h1M2 53h1M39 53h1M3 54h1M42 54h1M17 57h1M57 57h1M57 58h1M47 60h1M56 62h1M56 63h1M65 63h1M14 64h1M58 65h1M63 65h1M46 66h1M45 77h1M44 78h1M36 81h1M35 82h1M86 83h1M33 84h1M31 86h1M27 87h1M26 88h1M26 89h1M25 91h1M23 92h1M84 92h1M71 93h2M69 94h1M74 94h1M83 94h1M18 95h3M65 95h3M75 95h1M15 96h1M63 96h1"/>
<path stroke="#5f5f5f" d="M34 2h2M1 3h1M4 5h1M6 6h1M10 6h1M17 8h1M73 8h1M73 9h1M73 10h1M73 12h1M73 13h1M89 14h1M67 15h2M71 15h1M36 17h1M2 19h5M40 19h1M61 19h1M92 20h1M13 21h1M43 21h1M44 22h1M19 24h1M69 24h1M22 25h1M71 25h1M29 27h1M72 27h1M32 28h1M34 29h1M74 30h1M51 31h1M80 38h1M56 39h1M45 40h1M60 40h2M86 45h1M90 45h1M47 46h1M48 47h1M92 47h1M23 48h1M29 48h1M32 49h1M34 50h1M58 50h1M71 50h1M0 51h1M1 52h1M4 55h1M18 55h1M44 55h1M7 58h1M8 59h1M16 59h1M9 60h1M10 61h1M47 61h1M15 62h1M13 64h1M57 64h1M64 64h1M59 65h1M46 67h1M40 79h1M89 79h1M88 80h1M87 82h1M34 83h1M33 85h1M85 85h1M32 86h1M28 87h3M26 90h1M24 92h1M23 93h1M22 94h1M70 94h1M73 94h1M21 95h1M68 95h1M64 96h2M76 96h1"/>
<path stroke="#616161" d="M39 0h1M38 1h1M36 2h1M28 3h1M2 4h1M13 4h1M21 4h1M25 4h2M72 4h1M11 5h1M87 6h1M73 7h1M16 10h1M87 11h1M16 12h1M72 15h1M90 15h1M29 16h1M33 16h1M64 16h1M20 17h1M26 17h1M37 17h1M91 17h1M39 18h1M7 19h1M11 20h1M42 20h1M15 22h1M45 22h1M61 22h1M17 23h1M47 23h1M63 23h1M86 27h1M50 28h1M35 30h1M80 30h1M37 33h1M52 33h1M43 38h1M72 39h1M46 43h1M36 51h1M70 51h1M2 52h1M3 53h1M40 53h1M58 53h1M5 56h1M46 56h1M6 57h1M16 58h1M57 59h1M15 61h1M11 62h1M12 63h1M14 63h1M60 65h1M62 65h1M46 68h1M38 80h1M34 84h1M85 86h1M31 87h1M85 87h1M0 88h1M27 88h1M0 89h1M27 89h1M85 89h1M85 90h1M26 91h1M25 92h1M84 93h1M71 94h2M69 95h1M74 95h1M83 95h1M16 96h1M66 96h2M82 96h1"/>
<path stroke="#636363" d="M90 0h1M89 2h1M24 4h1M22 5h1M5 6h1M22 6h1M16 11h1M88 12h1M73 14h1M34 16h1M65 16h2M68 16h3M63 17h1M62 18h1M8 19h1M41 19h1M92 19h1M61 20h1M64 23h1M70 24h1M26 26h1M72 26h1M50 27h1M83 28h1M36 31h1M38 34h1M53 36h1M85 36h1M41 37h1M82 37h1M79 38h1M71 39h1M46 42h1M80 45h1M77 46h1M92 46h1M54 48h1M74 48h1M72 49h1M1 51h1M38 52h1M18 54h1M47 57h1M15 60h1M57 60h1M47 62h1M13 63h1M57 63h1M61 65h1M46 69h1M46 70h1M46 71h1M46 72h1M46 73h1M91 78h1M86 84h1M33 86h1M0 87h1M32 87h1M28 88h2M85 88h1M27 90h1M85 91h1M24 93h1M23 94h1M22 95h1M70 95h1M73 95h1M17 96h3M68 96h1M75 96h1"/>
<path stroke="#656565" d="M40 0h1M72 0h1M19 1h1M37 2h1M0 3h1M23 3h1M29 3h1M72 3h1M1 4h1M3 5h1M73 6h1M8 7h1M19 7h2M87 7h1M87 10h1M89 13h1M17 14h1M90 14h1M67 16h1M71 16h1M91 16h1M21 17h1M38 17h1M0 18h1M43 20h1M44 21h1M61 21h1M46 22h1M20 24h1M49 24h1M90 25h1M30 27h1M33 28h1M73 28h1M81 29h1M51 30h1M79 30h1M37 32h1M39 35h1M40 36h1M42 37h1M57 39h1M46 41h1M91 45h1M25 47h2M30 48h1M57 49h1M0 50h1M19 50h1M35 50h1M2 51h1M59 51h1M3 52h1M18 53h1M41 53h1M4 54h1M43 54h1M45 55h1M17 56h1M9 59h1M10 60h1M11 61h1M57 61h1M66 61h1M12 62h1M14 62h1M57 62h1M47 63h1M58 64h1M46 74h1M46 75h1M92 78h1M41 79h1M35 83h1M34 85h1M33 87h1M30 88h2M28 89h1M0 90h1M27 91h1M26 92h1M85 92h1M25 93h1M84 94h1M71 95h2M20 96h1M69 96h1M74 96h1M83 96h1"/>
<path stroke="#676767" d="M41 0h1M39 1h1M72 1h1M90 1h1M72 2h1M16 3h1M22 3h1M27 4h1M88 4h1M7 7h1M9 7h1M21 7h1M87 9h1M74 10h1M74 11h1M74 12h1M74 13h1M73 15h1M19 16h1M35 16h1M25 17h1M39 17h1M64 17h1M40 18h1M63 18h1M92 18h1M42 19h1M62 19h1M45 21h1M62 22h1M48 23h1M65 23h1M23 25h1M27 26h1M50 26h1M87 26h1M92 26h1M85 27h1M75 30h1M38 33h1M87 35h1M43 37h1M54 37h1M44 38h1M55 38h1M78 38h1M45 39h1M58 39h1M62 39h3M70 39h1M79 45h1M49 47h1M0 49h1M20 49h1M33 49h1M1 50h1M37 51h1M18 52h1M4 53h1M58 54h1M5 55h1M6 56h1M7 57h1M16 57h1M69 57h1M8 58h1M15 59h1M14 61h1M13 62h1M65 62h1M47 64h1M46 76h1M37 81h1M56 81h1M88 81h1M36 82h1M87 83h1M0 86h1M34 86h1M32 88h1M29 89h2M28 90h1M24 94h1M23 95h1M21 96h1M70 96h1M72 96h2"/>
<path stroke="#696969" d="M42 0h1M38 2h1M30 3h1M14 4h1M22 4h2M2 5h1M23 5h3M73 5h1M4 6h1M6 7h1M74 8h1M87 8h1M74 9h1M88 11h1M18 15h1M91 15h1M28 16h1M36 16h2M72 16h1M22 17h3M65 17h1M69 17h2M92 17h1M41 18h1M9 19h1M44 20h1M14 21h1M47 22h1M66 23h1M71 24h1M89 25h1M82 28h1M35 29h1M51 29h1M74 29h1M76 30h3M52 32h1M39 34h1M90 34h1M40 35h1M53 35h1M41 36h1M84 36h1M77 38h1M0 39h1M59 39h3M65 39h1M69 39h1M89 44h1M5 45h1M47 45h1M5 46h2M5 47h1M27 47h1M75 47h1M22 48h1M31 48h1M1 49h1M71 49h1M2 50h2M59 50h1M70 50h1M3 51h1M18 51h1M39 52h1M59 52h1M69 53h1M58 55h1M48 58h1M48 59h1M68 59h1M12 61h1M59 64h1M63 64h1M47 65h1M45 78h1M55 80h2M55 81h1M55 82h2M35 84h1M86 85h1M34 87h1M1 88h1M33 88h1M1 89h1M31 89h1M29 90h1M0 91h1M28 91h1M27 92h1M26 93h1M85 93h1M25 94h1M84 95h1M22 96h1M71 96h1"/>
<path stroke="#6b6b6b" d="M20 0h1M43 0h1M40 1h4M31 3h1M89 3h1M0 4h1M12 5h1M11 6h1M23 6h1M22 7h1M74 7h1M18 8h1M89 12h1M90 13h1M74 14h1M38 16h1M40 17h1M66 17h3M71 17h1M1 18h1M42 18h1M64 18h1M43 19h1M12 20h1M45 20h1M62 20h1M46 21h1M62 21h1M16 22h1M18 23h1M67 23h3M21 24h1M72 25h1M28 26h1M31 27h1M84 27h1M80 29h1M36 30h1M37 31h1M38 32h1M92 33h1M42 36h1M81 37h1M0 38h1M76 38h1M1 39h1M66 39h3M0 40h1M46 40h1M0 41h1M83 44h1M88 44h1M4 45h1M6 45h1M92 45h1M4 46h1M4 47h1M6 47h1M24 47h1M50 47h1M0 48h2M3 48h3M55 48h1M73 48h1M2 49h3M36 50h1M4 51h1M4 52h1M69 52h1M42 53h1M5 54h1M69 54h1M17 55h1M58 56h1M15 58h1M10 59h1M11 60h1M14 60h1M48 60h1M67 60h1M13 61h1M58 63h1M64 63h1M60 64h1M47 66h1M42 79h1M55 79h2M57 80h1M89 80h1M57 81h1M57 82h1M35 85h1M86 86h1M1 87h1M32 89h1M86 89h1M1 90h1M86 90h1M24 95h1"/>
<path stroke="#6d6d6d" d="M18 2h1M39 2h1M43 2h1M32 3h6M28 4h1M1 5h1M26 5h1M88 5h1M3 6h1M5 7h1M10 7h1M17 9h1M75 12h1M17 13h1M91 14h1M31 15h2M20 16h1M39 16h2M92 16h1M41 17h1M4 18h2M43 18h1M44 19h1M63 19h1M63 22h1M70 23h1M24 25h1M50 25h1M73 27h1M34 28h1M39 33h1M53 34h1M41 35h1M43 36h1M44 37h1M1 38h1M74 38h2M1 40h1M1 41h1M0 42h1M0 43h1M4 44h2M47 44h1M84 44h1M90 44h1M3 45h1M7 45h1M3 46h1M7 46h1M0 47h4M7 47h1M2 48h1M6 48h1M5 49h1M34 49h1M4 50h1M40 52h1M44 54h1M6 55h1M69 55h1M7 56h1M47 56h1M69 56h1M8 57h1M58 57h1M9 58h1M58 58h1M14 59h1M12 60h2M58 62h1M61 64h2M47 67h1M46 77h1M57 79h1M39 80h1M54 80h1M54 81h1M88 82h1M36 83h1M56 83h1M87 84h1M0 85h1M35 86h1M86 87h1M34 88h1M86 88h1M33 89h1M30 90h1M29 91h1M86 91h1M28 92h1M27 93h1M26 94h1M85 94h1M23 96h1M84 96h1"/>
<path stroke="#6f6f6f" d="M44 0h1M91 0h1M44 1h1M41 2h2M90 2h1M73 4h1M2 6h1M24 6h1M74 6h1M41 10h1M88 10h1M40 11h2M75 11h1M41 12h1M75 13h1M33 15h1M38 15h3M74 15h1M41 16h1M73 16h1M42 17h1M72 17h1M2 18h2M6 18h2M44 18h1M65 18h1M69 18h2M10 19h1M45 19h1M46 20h1M47 21h1M48 22h1M64 22h1M49 23h1M29 26h1M86 26h1M83 27h1M51 28h1M38 31h1M52 31h1M39 32h1M40 34h1M89 34h1M42 35h1M0 37h1M45 38h1M56 38h1M2 39h1M2 40h1M2 41h1M1 42h1M1 43h1M0 44h2M3 44h1M6 44h1M82 44h1M85 44h1M87 44h1M91 44h1M0 45h1M2 45h1M78 45h1M0 46h3M48 46h1M76 46h1M28 47h1M7 48h1M32 48h1M6 49h1M58 49h1M5 50h1M18 50h1M5 51h1M38 51h1M69 51h1M5 52h1M5 53h1M59 53h1M83 54h1M46 55h1M83 55h1M16 56h1M48 57h1M11 59h1M58 59h1M58 60h1M48 61h1M58 61h1M59 63h1M47 68h1M47 69h1M47 70h1M47 71h1M55 78h2M43 79h1M54 79h1M90 79h1M58 81h1M54 82h1M55 83h1M57 83h1M1 86h1M35 87h1M31 90h1M86 92h1M25 95h1M85 95h1M24 96h1"/>
<path stroke="#717171" d="M40 2h1M44 2h1M38 3h1M42 3h2M0 5h1M4 7h1M23 7h1M41 9h2M75 9h1M40 10h1M42 10h1M75 10h1M42 11h1M39 12h2M42 12h1M39 13h3M18 14h1M39 14h3M75 14h1M19 15h1M30 15h1M34 15h4M41 15h1M27 16h1M42 16h1M0 17h1M43 17h2M45 18h2M66 18h3M71 18h1M46 19h1M64 19h1M47 20h1M63 20h1M63 21h1M19 23h1M71 23h1M32 27h1M81 28h1M75 29h1M79 29h1M39 31h1M40 32h1M40 33h1M41 34h2M43 35h1M86 35h1M44 36h1M54 36h1M83 36h1M1 37h1M2 38h1M73 38h1M46 39h1M2 42h2M2 43h4M47 43h1M2 44h1M7 44h1M86 44h1M1 45h1M8 45h1M8 46h1M8 47h1M51 47h1M21 48h1M72 48h1M19 49h1M41 52h1M43 53h1M83 53h1M17 54h1M82 55h1M83 56h1M15 57h1M10 58h1M13 59h1M47 72h1M58 80h1M58 82h1M36 84h1M32 90h1M1 91h1M30 91h1M0 92h1M29 92h1M28 93h1M27 94h1"/>
<path stroke="#737373" d="M73 0h1M91 1h1M39 3h3M44 3h1M73 3h1M15 4h1M29 4h1M42 4h2M27 5h1M42 5h2M1 6h1M25 6h1M42 6h1M88 6h1M42 7h1M7 8h2M19 8h1M41 8h2M75 8h1M40 9h1M43 9h1M88 9h1M39 10h1M43 10h1M39 11h1M43 11h1M89 11h1M17 12h1M90 12h1M42 13h1M38 14h1M42 14h1M42 15h1M92 15h1M21 16h1M43 16h1M45 17h1M8 18h1M47 18h1M47 19h1M15 21h1M65 22h1M69 22h2M22 24h1M50 24h1M72 24h1M25 25h1M88 25h1M91 25h1M73 26h1M35 28h1M74 28h1M36 29h1M37 30h1M52 30h1M40 31h1M41 32h1M41 33h2M43 34h1M55 37h1M80 37h1M72 38h1M3 40h1M3 41h1M4 42h1M47 42h1M6 43h1M81 44h1M92 44h1M23 47h1M29 47h1M74 47h1M8 48h1M7 49h1M35 49h1M6 50h1M37 50h1M60 51h1M17 52h1M60 52h1M17 53h1M6 54h1M45 54h1M59 54h1M82 54h1M84 54h1M84 55h1M82 56h1M9 57h1M14 58h1M12 59h1M65 61h1M48 62h1M72 71h1M72 72h1M47 73h1M47 74h1M54 78h1M57 78h1M44 79h1M58 79h1M53 80h1M38 81h1M53 81h1M89 81h1M37 82h1M54 83h1M58 83h1M88 83h1M36 85h1M35 88h1M2 89h1M34 89h1M33 90h1M86 93h1M26 95h1M25 96h1M85 96h1"/>
<path stroke="#757575" d="M45 0h1M20 1h1M41 4h1M13 5h1M41 5h1M74 5h1M41 6h1M43 6h1M3 7h1M41 7h1M43 7h1M75 7h1M6 8h1M9 8h1M20 8h1M40 8h1M43 8h1M39 9h1M38 11h1M76 11h1M38 12h1M43 12h1M76 12h1M38 13h1M43 13h1M91 13h1M37 14h1M43 14h1M43 15h1M44 16h2M74 16h1M1 17h1M46 17h1M73 17h1M72 18h1M65 19h1M68 19h3M13 20h1M64 20h1M48 21h1M64 21h1M17 22h1M49 22h1M66 22h1M68 22h1M30 26h1M85 26h1M51 27h1M82 27h1M78 29h1M38 30h1M41 31h1M42 32h1M43 33h1M53 33h1M44 35h1M0 36h1M45 37h1M57 38h7M71 38h1M3 39h1M4 41h1M47 41h1M5 42h1M7 43h1M8 44h1M9 46h1M25 46h2M52 47h1M33 48h1M56 48h1M70 49h1M6 51h1M17 51h1M39 51h1M6 52h1M42 52h1M6 53h1M82 53h1M84 53h1M7 55h1M16 55h1M59 55h1M8 56h1M84 56h1M83 57h1M59 62h1M48 63h1M60 63h1M63 63h1M72 70h1M73 71h1M71 72h1M73 72h1M72 73h1M47 75h1M47 76h1M56 77h1M53 79h1M59 81h1M53 82h1M59 82h1M0 84h1M56 84h1M87 85h1M36 86h1M2 88h1M2 90h1M31 91h1M86 94h1"/>
<path stroke="#777777" d="M45 1h1M73 1h1M73 2h1M17 3h1M30 4h1M37 4h4M44 4h1M89 4h1M40 5h1M44 5h1M0 6h1M26 6h1M44 6h1M2 7h1M24 7h1M40 7h1M88 7h1M5 8h1M21 8h1M88 8h1M17 10h1M38 10h1M44 10h1M76 10h1M17 11h1M44 11h1M44 12h1M76 13h1M36 14h1M44 14h1M92 14h1M29 15h1M44 15h2M75 15h1M22 16h1M26 16h1M46 16h1M47 17h1M48 19h1M66 19h2M71 19h1M48 20h1M70 20h1M65 21h1M69 21h2M67 22h1M71 22h1M26 25h1M33 27h1M76 29h2M39 30h2M44 34h1M88 34h1M82 36h1M2 37h1M64 38h1M70 38h1M9 45h1M48 45h1M49 46h1M9 47h1M30 47h1M8 49h1M36 49h1M7 50h1M17 50h1M60 50h1M69 50h1M83 52h2M44 53h1M59 56h1M82 57h1M11 58h1M13 58h1M66 60h1M59 61h1M64 62h1M61 63h1M48 64h1M71 70h1M73 70h1M71 71h1M74 72h1M71 73h1M73 73h1M0 75h1M0 76h1M55 77h1M46 78h1M58 78h1M91 79h1M40 80h1M59 80h1M59 83h1M55 84h1M57 84h2M1 85h1M2 87h1M87 90h1M32 91h1M30 92h1M29 93h1M28 94h1M27 95h1M86 95h1M26 96h1"/>
<path stroke="#797979" d="M45 2h1M90 3h1M36 4h1M28 5h1M12 6h1M40 6h1M75 6h1M1 7h1M44 7h1M22 8h1M39 8h1M44 8h1M18 9h1M38 9h1M44 9h1M76 9h1M89 10h1M37 12h1M18 13h1M37 13h1M44 13h1M35 14h1M76 14h1M20 15h1M0 16h1M2 17h5M48 18h1M11 19h1M65 20h1M68 20h2M71 20h1M68 21h1M20 23h1M50 23h1M27 25h1M51 26h1M84 26h1M36 28h1M80 28h1M37 29h1M52 29h1M42 31h1M43 32h1M91 33h1M54 35h1M85 35h1M1 36h1M79 37h1M3 38h1M46 38h1M65 38h1M69 38h1M4 40h1M47 40h1M5 41h1M6 42h1M8 43h1M89 43h2M80 44h1M77 45h1M53 47h1M73 47h1M9 48h1M71 48h1M18 49h1M59 49h1M38 50h1M7 51h1M40 51h1M60 53h1M7 54h1M81 54h1M85 54h1M47 55h1M81 55h1M15 56h1M48 56h1M81 56h1M10 57h1M14 57h1M59 57h1M84 57h1M12 58h1M59 60h1M62 63h1M48 65h1M48 69h1M72 69h2M48 70h1M74 71h1M74 73h1M0 74h1M71 74h2M0 77h1M54 77h1M57 77h1M53 78h1M59 79h1M90 80h1M89 82h1M53 83h1M54 84h1M87 86h1M36 87h1M87 88h1M35 89h1M87 89h1M34 90h1M87 91h1M87 92h1M0 93h1"/>
<path stroke="#7b7b7b" d="M92 0h1M91 2h1M45 3h1M31 4h1M34 4h2M74 4h1M39 5h1M39 6h1M0 7h1M11 7h1M39 7h1M4 8h1M76 8h1M37 10h1M37 11h1M77 11h1M90 11h1M45 13h1M19 14h1M34 14h1M45 14h1M46 15h1M23 16h1M25 16h1M47 16h1M7 17h1M48 17h1M9 18h1M73 18h1M72 19h1M66 20h2M49 21h1M66 21h2M71 21h1M72 23h1M73 25h1M87 25h1M31 26h1M34 27h1M74 27h1M38 29h1M41 30h1M44 33h1M45 36h1M66 38h1M68 38h1M7 42h1M88 43h1M91 43h1M9 44h1M10 46h1M24 46h1M27 46h1M75 46h1M10 47h1M31 47h1M20 48h1M34 48h1M9 49h1M8 50h1M7 52h1M43 52h1M68 52h1M82 52h1M7 53h1M68 53h1M85 53h1M16 54h1M46 54h1M8 55h1M85 55h1M9 56h1M49 58h1M59 58h1M83 58h1M49 59h1M59 59h1M60 62h1M48 66h1M48 67h1M48 68h1M71 69h1M74 70h1M48 71h1M0 73h1M73 74h1M1 75h1M1 76h1M47 77h1M0 78h1M92 79h1M52 80h1M60 81h1M60 82h1M0 83h1M37 83h1M60 83h1M59 84h1M88 84h1M2 86h1M87 87h1M2 91h1M33 91h1M1 92h1M31 92h1M87 93h1M29 94h1M86 96h1"/>
<path stroke="#7d7d7d" d="M46 0h1M32 4h2M45 4h1M38 5h1M27 6h1M25 7h1M76 7h1M3 8h1M10 8h1M23 8h1M38 8h1M77 10h1M45 11h1M45 12h1M77 12h1M91 12h1M36 13h1M33 14h1M46 14h1M47 15h1M1 16h1M24 16h1M75 16h1M74 17h1M49 20h1M16 21h1M18 22h1M23 24h1M28 25h1M51 25h1M83 26h1M81 27h1M75 28h1M39 29h1M53 32h1M0 35h1M56 37h1M78 37h1M67 38h1M4 39h1M47 39h1M87 43h1M92 43h1M48 44h1M10 45h1M22 47h1M10 48h1M57 48h1M37 49h1M8 51h1M16 51h1M41 51h1M68 51h1M83 51h2M16 52h1M61 52h1M85 52h1M16 53h1M45 53h1M81 53h1M60 54h1M68 54h1M85 56h1M11 57h1M13 57h1M81 57h1M68 58h1M82 58h1M49 60h1M39 64h1M39 65h1M39 66h1M38 67h2M38 68h1M72 68h2M38 69h1M74 69h1M37 70h2M37 71h2M70 71h1M75 71h1M48 72h1M70 72h1M75 72h1M70 73h1M75 73h1M1 74h1M74 74h1M1 77h1M53 77h1M58 77h1M52 78h1M59 78h1M0 79h1M45 79h1M52 79h1M60 80h1M52 81h1M61 83h1M53 84h1M60 84h1M36 88h1M30 93h1M87 94h1M28 95h1M27 96h1"/>
<path stroke="#7f7f7f" d="M92 1h1M14 5h1M29 5h1M37 5h1M45 5h1M75 5h1M38 6h1M38 7h1M1 8h2M7 9h2M37 9h1M45 9h1M77 9h1M45 10h1M36 12h1M46 13h1M77 13h1M92 13h1M32 14h1M0 15h1M21 15h1M28 15h1M76 15h1M2 16h1M5 16h1M8 17h1M49 19h1M14 20h1M72 20h1M50 22h1M72 22h1M29 25h1M35 27h1M37 28h1M52 28h1M79 28h1M40 29h1M42 30h1M43 31h1M87 34h1M45 35h1M84 35h1M2 36h1M55 36h1M3 37h1M46 37h1M77 37h1M5 40h1M6 41h1M9 43h1M48 43h1M84 43h3M79 44h1M50 46h1M32 47h1M72 47h1M35 48h1M10 49h1M17 49h1M9 50h1M16 50h1M39 50h1M42 51h1M61 51h1M44 52h1M61 53h1M8 54h1M15 55h1M60 55h1M60 56h1M12 57h1M63 58h1M84 58h1M65 60h1M60 61h1M64 61h1M61 62h1M63 62h1M39 63h1M38 64h1M40 64h1M38 65h1M40 65h1M38 66h1M40 66h1M39 68h1M71 68h1M37 69h1M39 69h1M70 70h1M75 70h1M36 71h1M0 72h1M36 72h3M1 73h1M48 73h1M70 74h1M2 75h1M71 75h2M2 76h1M55 76h3M2 77h1M1 78h1M60 79h1M41 80h1M90 81h1M52 82h1M61 82h1M1 84h1M37 84h1M61 84h1M55 85h4M35 90h1M34 91h1M32 92h1M87 95h1"/>
<path stroke="#808080" d="M74 0h1M46 1h1M19 2h1M74 3h1M16 4h1M89 5h1M45 6h1M76 6h1M26 7h1M45 7h1M0 8h1M45 8h1M77 8h1M5 9h2M19 9h1M89 9h1M36 11h1M18 12h1M35 13h1M20 14h1M31 14h1M47 14h1M3 16h2M6 16h1M48 16h1M49 18h1M73 19h1M72 21h1M21 23h1M51 24h1M73 24h1M86 25h1M82 26h1M53 31h1M44 32h1M54 34h1M1 35h1M81 36h1M75 37h2M4 38h1M8 42h1M48 42h1M83 43h1M10 44h1M28 46h1M11 47h1M54 47h1M11 48h1M19 48h1M70 48h1M69 49h1M82 51h1M85 51h1M8 52h1M81 52h1M8 53h1M61 54h1M9 55h1M61 55h1M68 55h1M80 55h1M10 56h1M14 56h1M80 56h1M49 57h1M60 57h1M62 57h2M85 57h1M62 58h1M60 59h1M67 59h1M60 60h1M49 61h1M62 62h1M38 63h1M40 63h1M37 67h1M40 67h1M72 67h2M37 68h1M74 68h1M36 70h1M39 70h1M35 71h1M39 71h1M35 72h1M76 72h1M2 74h1M48 74h1M75 74h1M48 75h1M73 75h1M48 76h1M54 76h1M52 77h1M59 77h1M2 78h1M0 80h1M0 81h1M39 81h1M61 81h1M0 82h1M38 82h1M52 83h1M62 83h1M89 83h1M62 84h1M2 85h1M37 85h1M54 85h1M59 85h1M37 86h1M3 89h1M36 89h1M0 94h1M30 94h1M29 95h1M87 96h1"/>
<path stroke="#828282" d="M46 2h1M36 5h1M24 8h1M37 8h1M3 9h2M9 9h1M20 9h1M18 10h1M36 10h1M78 10h1M90 10h1M78 11h1M46 12h1M19 13h1M0 14h1M77 14h1M1 15h1M7 16h1M75 17h1M10 18h1M74 18h1M12 19h1M50 21h1M32 26h1M74 26h1M36 27h1M38 28h1M76 28h1M78 28h1M41 29h1M92 32h1M45 34h1M57 37h1M74 37h1M5 39h1M7 41h1M48 41h1M82 43h1M25 45h2M49 45h1M76 45h1M11 46h1M74 46h1M33 47h1M36 48h1M11 49h1M16 49h1M38 49h1M10 50h1M68 50h1M84 50h1M9 51h1M43 51h1M46 53h1M62 53h1M86 53h1M15 54h1M47 54h1M62 54h1M80 54h1M86 54h1M62 55h1M61 56h2M61 57h1M60 58h2M81 58h1M62 59h2M64 60h1M61 61h1M49 62h1M37 66h1M72 66h1M40 68h1M36 69h1M70 69h1M75 69h1M35 70h1M0 71h1M76 71h1M1 72h1M34 72h1M39 72h1M34 73h4M76 73h1M70 75h1M3 76h1M53 76h1M58 76h1M3 77h1M47 78h1M51 78h1M60 78h1M1 79h1M51 79h1M61 80h1M91 80h1M62 82h1M63 83h1M63 84h1M53 85h1M60 85h1M88 85h1M3 88h1M3 90h1M1 93h1M31 93h1M28 96h1"/>
<path stroke="#848484" d="M21 0h1M74 1h1M74 2h1M75 4h1M30 5h1M28 6h1M37 6h1M37 7h1M77 7h1M89 8h1M0 9h3M21 9h1M78 9h1M18 11h1M46 11h1M91 11h1M35 12h1M78 12h1M34 13h1M47 13h1M30 14h1M2 15h5M22 15h1M27 15h1M48 15h1M76 16h1M49 17h1M73 20h1M17 21h1M19 22h1M51 23h1M73 23h1M24 24h1M30 25h1M85 25h1M80 27h1M77 28h1M43 30h1M90 33h1M83 35h1M58 37h5M72 37h2M47 38h1M6 40h1M48 40h1M9 42h1M90 42h3M10 43h1M11 45h1M23 46h1M29 46h1M12 48h1M18 48h1M58 48h1M60 49h1M15 50h1M40 50h1M83 50h1M15 51h1M9 52h1M15 52h1M45 52h1M62 52h1M86 52h1M15 53h1M9 54h1M48 55h1M86 55h1M11 56h1M13 56h1M63 56h1M68 56h1M86 56h1M68 57h1M80 57h1M85 58h1M61 59h1M64 59h1M83 59h2M61 60h3M62 61h2M39 62h2M37 64h1M37 65h1M73 66h1M71 67h1M74 67h1M36 68h1M40 69h1M49 70h1M76 70h1M34 71h1M49 71h1M69 71h1M33 72h1M69 72h1M77 72h1M2 73h1M33 73h1M38 73h1M74 75h1M52 76h1M59 76h1M71 76h2M48 77h1M51 77h1M60 77h1M3 78h2M2 79h1M46 79h1M61 79h1M42 80h1M51 80h1M62 81h1M1 83h1M64 83h1M52 84h1M64 84h1M61 85h2M37 87h1M35 91h1M88 91h1M2 92h1M33 92h1M88 92h1M88 93h1M88 94h1"/>
<path stroke="#868686" d="M47 0h1M46 3h1M91 3h1M90 4h1M35 5h1M76 5h1M13 6h1M25 8h1M22 9h1M36 9h1M0 10h1M7 10h1M46 10h1M92 12h1M0 13h1M78 13h1M1 14h2M5 14h1M21 14h1M7 15h1M77 15h1M8 16h1M9 17h1M15 20h1M50 20h1M73 21h1M73 22h1M84 25h1M33 26h1M81 26h1M37 27h1M52 27h1M75 27h1M39 28h1M53 30h1M44 31h1M45 33h1M0 34h1M86 34h1M46 36h1M63 37h2M71 37h1M8 41h1M89 42h1M11 44h1M78 44h1M27 45h1M30 46h1M51 46h1M12 47h1M34 47h1M71 47h1M37 48h1M12 49h2M15 49h1M11 50h1M14 50h1M41 50h1M61 50h1M85 50h1M10 51h1M44 51h1M86 51h1M67 52h1M9 53h1M67 53h1M80 53h1M63 54h1M10 55h1M14 55h1M63 55h1M12 56h1M64 58h1M82 59h1M38 62h1M37 63h1M49 63h1M41 64h1M41 65h1M72 65h1M41 66h1M71 66h1M36 67h1M70 68h1M75 68h1M35 69h1M49 69h1M0 70h1M40 70h1M69 70h1M1 71h1M33 71h1M77 71h1M49 72h1M32 73h1M49 73h1M69 73h1M77 73h1M76 74h1M3 75h1M49 75h1M54 75h4M25 76h1M49 76h1M70 76h1M4 77h1M24 77h2M5 78h1M61 78h1M3 79h1M1 80h1M62 80h1M51 81h1M63 82h2M90 82h1M65 83h1M65 84h1M63 85h1M88 86h1M3 87h1M36 90h1M88 90h1M3 91h1M32 93h1M0 95h1M30 95h1M88 95h1M29 96h1"/>
<path stroke="#888888" d="M92 2h1M46 4h1M31 5h1M34 5h1M89 6h1M12 7h1M27 7h1M89 7h1M11 8h1M46 8h1M78 8h1M46 9h1M1 10h6M8 10h1M19 10h1M0 11h2M35 11h1M0 12h1M19 12h1M47 12h1M1 13h1M20 13h1M33 13h1M3 14h2M6 14h1M48 14h1M49 16h1M75 18h1M50 19h1M74 19h1M51 22h1M22 23h1M74 25h1M83 25h1M92 25h1M34 26h1M42 29h1M89 33h1M2 35h1M55 35h1M3 36h1M80 36h1M4 37h1M70 37h1M48 39h1M88 42h1M81 43h1M49 44h1M24 45h1M12 46h1M31 46h1M73 46h1M21 47h1M35 47h1M13 48h1M17 48h1M14 49h1M39 49h1M12 50h2M42 50h1M82 50h1M11 51h1M14 51h1M62 51h1M67 51h1M81 51h1M10 52h1M63 53h1M79 55h1M49 56h1M79 56h1M64 57h1M86 57h1M80 58h1M65 59h2M41 63h1M49 64h1M73 65h1M74 66h1M41 67h1M49 68h1M76 69h1M34 70h1M77 70h1M40 71h1M2 72h1M32 72h1M78 72h1M39 73h1M3 74h1M33 74h1M49 74h1M69 74h1M53 75h1M58 75h1M69 75h1M75 75h1M4 76h1M24 76h1M50 76h2M60 76h1M73 76h1M5 77h1M23 77h1M49 77h2M6 78h1M48 78h1M50 78h1M4 79h2M62 79h1M92 80h1M1 81h1M63 81h1M1 82h1M51 82h1M65 82h1M38 83h1M66 83h1M2 84h1M66 84h1M89 84h1M52 85h1M88 87h1M37 88h1M88 88h1M88 89h1M34 92h1M31 94h1M88 96h1"/>
<path stroke="#8a8a8a" d="M47 1h1M18 3h1M75 3h1M15 5h1M46 5h1M29 6h1M36 6h1M46 6h1M77 6h1M36 7h1M46 7h1M26 8h1M36 8h1M10 9h1M23 9h1M79 10h1M2 11h5M79 11h1M1 12h5M34 12h1M2 13h5M32 13h1M7 14h1M29 14h1M78 14h1M23 15h1M26 15h1M76 17h1M51 21h1M25 24h1M89 24h1M31 25h1M35 26h1M52 26h1M79 27h1M40 28h1M53 29h1M54 33h1M1 34h1M46 35h1M56 36h1M47 37h1M65 37h1M69 37h1M5 38h1M6 39h1M7 40h1M10 42h1M49 42h1M87 42h1M49 43h1M12 45h1M50 45h1M13 47h1M55 47h1M14 48h3M43 50h1M86 50h1M12 51h2M45 51h1M14 52h1M46 52h1M63 52h1M80 52h1M10 53h1M47 53h1M10 54h1M14 54h1M64 54h1M67 54h1M11 55h1M13 55h1M64 55h1M64 56h1M79 57h1M73 59h1M81 59h1M85 59h1M72 60h2M72 61h2M37 62h1M72 62h1M72 63h1M72 64h2M36 65h1M49 65h1M71 65h1M36 66h1M49 66h1M49 67h1M75 67h1M35 68h1M0 69h1M1 70h1M32 71h1M78 71h1M31 72h1M40 72h1M31 73h1M78 73h1M32 74h1M34 74h3M77 74h1M25 75h2M50 75h3M59 75h1M23 76h1M26 76h1M69 76h1M26 77h1M61 77h1M70 77h2M24 78h2M49 78h1M62 78h1M6 79h1M50 79h1M2 80h1M43 80h1M63 80h1M64 81h2M91 81h1M66 82h1M51 83h1M64 85h1M3 86h1M54 86h7M1 94h1M0 96h1"/>
<path stroke="#8c8c8c" d="M75 0h1M76 4h1M32 5h2M78 7h1M24 9h1M79 9h1M90 9h1M20 10h1M35 10h1M7 11h1M19 11h1M47 11h1M6 12h1M79 12h1M7 13h1M48 13h1M8 15h1M77 16h1M11 18h1M50 18h1M13 19h1M74 20h1M20 22h1M26 24h2M74 24h1M88 24h1M52 25h1M82 25h1M36 26h1M38 27h1M76 27h1M45 32h1M91 32h1M88 33h1M85 34h1M82 35h1M66 37h3M9 41h1M49 41h1M92 41h1M11 43h1M28 45h1M75 45h1M32 46h1M52 46h1M36 47h1M38 48h1M59 48h1M69 48h1M68 49h1M11 52h1M14 53h1M64 53h1M66 53h1M87 53h1M11 54h1M79 54h1M12 55h1M78 56h1M50 58h1M86 58h1M50 59h1M72 59h1M74 59h1M74 60h1M38 61h2M41 62h1M73 62h1M73 63h1M36 64h1M74 65h1M70 67h1M41 68h1M76 68h1M34 69h1M69 69h1M77 69h1M33 70h1M78 70h1M2 71h1M79 71h1M50 72h1M79 72h1M3 73h1M30 73h1M50 73h1M26 74h1M31 74h1M37 74h1M50 74h1M56 74h3M4 75h1M24 75h1M27 75h1M60 75h1M76 75h1M5 76h1M61 76h1M74 76h1M6 77h1M22 77h1M62 77h1M69 77h1M72 77h1M23 78h1M47 79h1M63 79h1M3 80h3M50 80h1M64 80h2M66 81h1M67 83h1M53 86h1M61 86h1M37 89h1M36 91h1M35 92h1M2 93h1M33 93h1M89 93h1M89 94h1M31 95h1M89 95h1M30 96h1"/>
<path stroke="#8e8e8e" d="M48 0h1M21 1h1M47 2h1M77 5h1M35 6h1M28 7h1M35 9h1M9 10h1M47 10h1M91 10h1M8 11h1M92 11h1M7 12h1M20 12h1M21 13h1M31 13h1M8 14h1M22 14h1M24 15h2M49 15h1M78 15h1M9 16h1M75 19h1M16 20h1M51 20h1M18 21h1M74 23h1M28 24h2M52 24h1M90 24h1M75 26h1M80 26h1M77 27h2M41 28h1M43 29h1M44 30h1M0 33h1M48 38h1M8 40h1M49 40h1M91 41h1M85 42h2M80 43h1M12 44h1M25 44h2M77 44h1M13 46h1M33 46h1M72 46h1M14 47h1M20 47h1M70 47h1M40 49h1M84 49h2M44 50h1M12 52h2M64 52h1M66 52h1M87 52h1M11 53h1M65 53h1M13 54h1M48 54h1M65 54h1M87 54h1M67 55h1M78 55h1M87 55h1M87 56h1M78 57h1M73 58h2M79 58h1M50 60h1M83 60h2M40 61h1M36 63h1M71 64h1M74 64h1M75 66h1M35 67h1M0 68h1M1 69h1M41 69h1M81 69h2M25 70h1M79 70h4M26 71h1M31 71h1M50 71h1M68 71h1M80 71h1M26 72h2M30 72h1M68 72h1M26 73h4M79 73h1M25 74h1M27 74h2M30 74h1M38 74h1M51 74h5M59 74h1M78 74h1M23 75h1M61 75h1M22 76h1M27 76h1M68 76h1M68 77h1M7 78h1M22 78h1M63 78h1M68 78h2M7 79h1M49 79h1M64 79h4M6 80h1M44 80h1M66 80h2M2 81h1M17 81h1M40 81h1M67 81h1M67 82h1M2 83h1M90 83h1M38 84h1M51 84h1M67 84h1M3 85h1M4 89h1M13 89h1M4 90h1M3 92h1M89 92h1M32 94h1M89 96h1"/>
<path stroke="#909090" d="M75 1h1M75 2h1M47 3h1M30 6h1M78 6h1M27 8h1M79 8h1M25 9h1M47 9h1M21 10h1M20 11h1M34 11h1M8 12h1M33 12h1M48 12h1M8 13h1M79 13h1M28 14h1M10 17h1M50 17h1M76 18h1M74 21h1M74 22h1M52 23h1M87 24h1M32 25h1M81 25h1M37 26h1M53 28h1M2 34h1M46 34h1M3 35h1M4 36h1M79 36h1M7 39h1M10 41h1M89 41h2M11 42h1M84 42h1M27 44h1M50 44h1M13 45h1M29 45h1M22 46h1M34 46h1M15 47h1M19 47h1M37 47h1M41 49h1M83 49h1M67 50h1M81 50h1M46 51h1M63 51h1M87 51h1M47 52h1M65 52h1M12 53h2M79 53h1M12 54h1M66 54h1M77 55h1M76 56h2M50 57h1M75 57h3M87 57h1M65 58h1M75 58h2M75 59h1M80 59h1M86 59h1M82 60h1M85 60h1M37 61h1M50 61h1M71 61h1M74 61h1M36 62h1M71 62h1M74 62h1M71 63h1M74 63h1M70 66h1M76 67h1M34 68h1M77 68h1M81 68h2M25 69h1M78 69h3M83 69h1M2 70h1M26 70h1M32 70h1M41 70h1M50 70h1M68 70h1M25 71h1M27 71h1M30 71h1M81 71h1M3 72h1M25 72h1M28 72h2M80 72h1M25 73h1M40 73h1M51 73h1M58 73h2M68 73h1M4 74h1M24 74h1M29 74h1M60 74h1M68 74h1M28 75h1M68 75h1M77 75h1M62 76h1M75 76h1M7 77h1M21 77h1M27 77h1M63 77h1M67 77h1M73 77h1M20 78h2M26 78h1M64 78h4M70 78h2M48 79h1M68 79h1M7 80h1M17 80h2M3 81h1M16 81h1M50 81h1M2 82h1M17 82h1M39 82h1M38 85h1M65 85h2M89 85h1M38 86h1M52 86h1M62 86h1M13 90h1M37 90h1M34 93h1M1 95h1M31 96h1"/>
<path stroke="#929292" d="M76 3h1M17 4h1M77 4h1M14 6h1M34 6h1M35 7h1M35 8h1M22 10h1M30 13h1M49 14h1M79 14h1M9 15h1M77 17h1M51 19h1M75 20h1M52 22h1M23 23h1M30 24h1M39 27h1M42 28h1M45 31h1M54 32h1M87 33h1M55 34h1M84 34h1M47 36h1M57 36h1M78 36h1M5 37h1M6 38h1M49 39h1M92 40h1M50 42h1M83 42h1M12 43h1M50 43h1M23 45h1M30 45h1M74 45h1M14 46h1M35 46h1M53 46h1M16 47h3M56 47h1M39 48h1M42 49h1M61 49h1M86 49h1M45 50h1M62 50h1M87 50h1M66 51h1M80 51h1M78 54h1M49 55h1M65 55h1M65 57h1M74 57h1M72 58h1M77 58h2M71 60h1M75 60h1M42 64h1M42 65h1M75 65h1M35 66h1M82 67h1M1 68h1M24 68h2M69 68h1M80 68h1M83 68h1M2 69h1M24 69h1M26 69h1M33 69h1M50 69h1M24 70h1M27 70h1M83 70h1M3 71h1M28 71h2M82 71h1M51 72h1M24 73h1M52 73h1M56 73h2M60 73h2M23 74h1M39 74h1M61 74h1M79 74h1M22 75h1M29 75h5M62 75h1M6 76h1M21 76h1M28 76h1M63 76h1M67 76h1M20 77h1M64 77h3M8 78h1M19 78h1M8 79h1M17 79h4M69 79h1M16 80h1M45 80h1M68 80h1M4 81h2M18 81h1M68 81h1M92 81h1M16 82h1M91 82h1M3 84h1M51 85h1M63 86h1M4 88h1M13 88h1M12 89h1M14 89h1M4 91h1M89 91h1M36 92h1M33 94h1M32 95h1"/>
<path stroke="#949494" d="M49 0h1M76 0h1M48 1h1M20 2h1M92 3h1M47 4h1M91 4h1M47 5h1M78 5h1M90 5h1M31 6h1M29 7h1M47 7h1M79 7h1M47 8h1M90 8h1M26 9h1M23 10h1M34 10h1M9 11h1M21 11h1M48 11h1M21 12h1M32 12h1M9 14h1M23 14h1M27 14h1M50 16h1M78 16h1M14 19h1M76 19h1M52 21h1M21 22h1M83 24h1M86 24h1M33 25h1M75 25h1M80 25h1M76 26h1M79 26h1M53 27h1M92 31h1M1 33h1M46 33h1M9 40h1M50 41h1M88 41h1M13 44h1M24 44h1M28 44h1M31 45h2M51 45h1M36 46h1M71 46h1M38 47h1M43 49h1M79 52h1M48 53h1M77 54h1M66 55h1M76 55h1M65 56h1M75 56h1M67 58h1M87 58h1M76 59h1M79 59h1M81 60h1M86 60h1M50 62h1M42 63h1M35 65h1M70 65h1M23 66h2M42 66h1M76 66h1M0 67h1M23 67h3M77 67h1M81 67h1M78 68h2M68 69h1M28 70h1M31 70h1M24 71h1M41 71h1M51 71h1M67 71h1M24 72h1M58 72h4M81 72h1M4 73h1M53 73h3M62 73h1M80 73h1M62 74h1M5 75h1M34 75h1M63 75h1M78 75h1M64 76h1M66 76h1M76 76h1M8 77h1M19 77h1M74 77h1M18 78h1M72 78h1M9 79h1M16 79h1M21 79h4M70 79h1M8 80h1M19 80h1M49 80h1M69 80h1M6 81h1M3 82h1M18 82h1M50 82h1M68 82h1M3 83h1M67 85h1M13 87h1M38 87h1M12 88h1M14 88h1M12 90h1M89 90h1M35 93h1M2 94h1M90 94h1M90 95h1M1 96h1"/>
<path stroke="#969696" d="M76 1h1M76 2h1M77 3h1M33 6h1M47 6h1M13 7h1M12 8h1M28 8h1M11 9h1M80 9h1M91 9h1M10 10h1M24 10h1M80 10h1M33 11h1M80 11h1M9 12h1M9 13h1M22 13h1M29 13h1M49 13h1M79 15h1M12 18h1M51 18h1M77 18h1M17 20h1M76 20h1M19 21h1M75 21h1M31 24h1M75 24h1M81 24h2M84 24h2M34 25h1M10 26h1M10 27h3M40 27h1M11 28h3M12 29h2M44 29h1M54 31h1M90 32h1M56 35h1M81 35h1M58 36h5M76 36h2M48 37h1M50 40h1M91 40h1M11 41h1M87 41h1M12 42h1M82 42h1M26 43h1M79 43h1M76 44h1M14 45h1M33 45h2M15 46h1M57 47h1M40 48h1M44 49h1M82 49h1M47 51h1M64 51h2M78 53h1M50 56h1M67 56h1M73 57h1M66 58h1M71 59h1M77 59h2M87 59h1M38 60h1M36 61h1M41 61h1M75 61h1M84 61h2M35 63h1M35 64h1M75 64h1M23 65h2M82 66h1M1 67h1M34 67h1M42 67h1M80 67h1M83 67h1M2 68h1M23 68h1M26 68h1M50 68h1M27 69h1M32 69h1M3 70h1M29 70h2M60 71h1M83 71h1M52 72h1M57 72h1M62 72h1M67 72h1M63 73h1M67 73h1M63 74h1M35 75h2M64 75h1M67 75h1M7 76h1M20 76h1M29 76h1M65 76h1M28 77h1M9 78h1M17 78h1M27 78h1M73 78h1M25 79h1M71 79h1M15 80h1M20 80h1M46 80h1M7 81h1M15 81h1M19 81h1M41 81h1M4 82h1M15 82h1M16 83h2M50 83h1M68 83h1M90 84h1M13 86h2M89 86h1M4 87h1M14 87h1M57 87h3M38 88h1M89 89h1M14 90h1M37 91h1M3 93h1M90 93h1M34 94h1M32 96h1M90 96h1"/>
<path stroke="#989898" d="M48 2h1M78 4h1M16 5h1M32 6h1M79 6h1M30 7h1M34 7h1M34 8h1M27 9h1M34 9h1M48 10h1M92 10h1M22 11h1M22 12h1M31 12h1M49 12h1M80 12h1M50 15h1M10 16h1M78 17h1M77 19h1M52 20h1M77 20h1M76 21h1M78 21h1M75 22h1M78 22h2M75 23h1M79 23h1M80 24h1M8 25h3M35 25h1M79 25h1M8 26h2M11 26h1M38 26h1M53 26h1M77 26h2M9 27h1M13 27h1M10 28h1M14 28h1M11 29h1M14 29h1M13 30h2M45 30h1M0 32h1M86 33h1M3 34h1M83 34h1M63 36h1M71 36h5M7 38h1M8 39h1M92 39h1M10 40h1M90 40h1M25 43h1M27 43h1M29 44h2M51 44h1M35 45h1M73 45h1M37 46h1M69 47h1M41 48h1M60 48h1M68 48h1M87 49h1M66 50h1M48 52h1M88 52h1M88 53h1M76 54h1M88 54h1M75 55h1M88 55h1M66 56h1M88 56h1M88 57h1M37 60h1M39 60h1M76 60h1M80 60h1M83 61h1M86 61h1M42 62h1M75 62h1M50 63h1M75 63h1M70 64h1M76 65h1M22 66h1M25 66h1M81 66h1M83 66h1M69 67h1M78 67h2M33 68h1M42 68h1M84 68h1M3 69h1M84 69h1M51 70h1M67 70h1M84 70h1M59 71h1M61 71h2M4 72h1M41 72h1M53 72h1M55 72h2M63 72h1M66 72h1M82 72h1M23 73h1M64 73h1M81 73h1M22 74h1M40 74h1M64 74h1M67 74h1M80 74h1M21 75h1M65 75h2M79 75h1M30 76h1M77 76h1M9 77h1M18 77h1M10 78h1M16 78h1M10 79h1M15 79h1M9 80h1M47 80h2M70 80h1M8 81h1M49 81h1M69 81h1M5 82h1M15 83h1M15 84h1M68 84h1M14 85h1M51 86h1M64 86h1M12 87h1M53 87h4M60 87h1M89 87h1M89 88h1M4 92h1M2 95h1M33 95h1"/>
<path stroke="#9a9a9a" d="M50 0h1M77 0h1M49 1h1M77 1h1M77 2h1M48 3h1M78 3h1M90 6h1M90 7h1M29 8h1M80 8h1M28 9h1M48 9h1M25 10h1M30 12h1M80 13h1M24 14h1M26 14h1M11 17h1M51 17h1M78 18h1M15 19h1M78 20h1M77 21h1M79 21h1M53 22h1M76 22h2M53 23h1M78 23h1M80 23h1M8 24h2M53 24h1M79 24h1M7 25h1M11 25h1M36 25h1M53 25h1M76 25h1M7 26h1M12 26h1M8 27h1M41 27h1M9 28h1M43 28h1M10 29h1M15 29h1M12 30h1M15 30h1M54 30h1M14 31h2M46 32h1M89 32h1M2 33h1M4 35h1M47 35h1M5 36h1M64 36h2M70 36h1M6 37h1M49 38h1M92 38h1M89 40h1M86 41h1M51 42h1M13 43h1M28 43h1M51 43h1M23 44h1M31 44h3M36 45h1M52 45h1M16 46h1M21 46h1M54 46h1M39 47h1M58 47h1M42 48h1M67 49h1M46 50h1M63 50h1M80 50h1M79 51h1M88 51h1M77 53h1M49 54h1M74 56h1M67 57h1M88 58h1M36 60h1M87 60h1M82 61h1M35 62h1M70 63h1M23 64h2M50 64h1M22 65h1M25 65h1M82 65h1M0 66h1M34 66h1M77 66h1M2 67h1M22 67h1M26 67h1M50 67h1M3 68h1M27 68h1M23 69h1M28 69h1M31 69h1M23 70h1M4 71h1M23 71h1M52 71h1M58 71h1M63 71h4M23 72h1M54 72h1M64 72h2M65 73h2M5 74h1M65 74h2M6 75h1M37 75h1M8 76h1M19 76h1M31 76h1M17 77h1M75 77h1M14 79h1M26 79h1M72 79h1M10 80h1M14 80h1M21 80h1M9 81h1M14 81h1M6 82h1M4 83h1M14 83h1M39 83h1M91 83h1M14 84h1M16 84h1M50 84h1M13 85h1M15 85h1M4 86h1M15 86h1M61 87h1M11 89h1M38 89h1M5 90h1M13 91h1M90 92h1M36 93h1M35 94h1M34 95h1"/>
<path stroke="#9c9c9c" d="M7 0h2M78 2h1M79 5h1M31 7h1M33 7h1M80 7h1M48 8h1M26 10h1M33 10h1M10 11h1M23 11h1M32 11h1M49 11h1M23 13h1M28 13h1M25 14h1M50 14h1M10 15h1M79 16h1M52 19h1M78 19h1M79 20h1M53 21h1M22 22h1M80 22h1M24 23h1M28 23h2M76 23h2M81 23h1M7 24h1M10 24h1M32 24h1M76 24h3M91 24h1M6 25h1M77 25h2M13 26h1M7 27h1M14 27h1M8 28h1M15 28h1M9 29h1M54 29h1M11 30h1M16 30h1M13 31h1M16 31h2M91 31h1M16 32h4M88 32h1M19 33h1M85 33h1M66 36h1M68 36h2M9 39h1M50 39h1M91 39h1M11 40h1M88 40h1M12 41h1M51 41h1M13 42h1M26 42h2M81 42h1M24 43h1M29 43h4M78 43h1M14 44h1M34 44h2M15 45h1M22 45h1M72 45h1M17 46h1M38 46h1M70 46h1M84 48h3M81 49h1M88 50h1M78 52h1M75 54h1M66 57h1M51 58h1M51 59h1M40 60h1M77 60h3M35 61h1M76 61h1M84 62h2M76 64h1M34 65h1M50 65h1M83 65h1M1 66h1M50 66h1M80 66h1M84 67h1M32 68h1M68 68h1M29 69h2M42 69h1M67 69h1M4 70h1M66 70h1M57 71h1M84 71h1M22 73h1M41 73h1M20 75h1M38 75h1M80 75h1M32 76h1M78 76h1M10 77h1M29 77h1M11 78h1M15 78h1M74 78h1M11 79h3M11 80h1M13 80h1M22 80h1M71 80h1M10 81h1M20 81h1M42 81h1M7 82h1M14 82h1M19 82h1M69 82h1M92 82h1M18 83h1M4 84h1M13 84h1M4 85h1M12 86h1M15 87h1M52 87h1M11 88h1M15 88h1M5 89h1M11 90h1M5 91h1M12 91h1M37 92h1M3 94h1M2 96h1M33 96h1"/>
<path stroke="#9e9e9e" d="M6 0h1M9 0h1M51 0h1M78 0h1M50 1h1M78 1h1M49 2h1M48 4h1M79 4h1M48 5h1M15 6h1M32 7h1M48 7h1M30 8h1M33 8h1M29 9h1M33 9h1M27 10h2M24 11h1M31 11h1M10 12h1M23 12h1M29 12h1M10 13h1M27 13h1M10 14h1M80 14h1M51 16h1M79 17h1M53 20h1M20 21h1M80 21h1M27 23h1M30 23h1M82 23h1M6 24h1M12 25h1M37 25h1M6 26h1M39 26h1M7 28h1M16 29h1M10 30h1M17 30h1M12 31h1M18 31h2M46 31h1M1 32h1M14 32h2M20 32h1M16 33h3M20 33h2M55 33h1M18 34h3M80 35h1M67 36h1M92 37h1M51 40h1M85 41h1M25 42h1M28 42h2M31 42h2M33 43h2M36 44h1M75 44h1M37 45h1M18 46h1M20 46h1M40 47h1M43 48h1M45 49h1M65 50h1M48 51h1M49 53h1M76 53h1M50 55h1M72 57h1M71 58h1M37 59h1M88 59h1M51 60h1M81 61h1M70 62h1M76 62h1M83 62h1M86 62h1M23 63h1M76 63h1M22 64h1M34 64h1M77 65h1M81 65h1M21 66h1M26 66h1M69 66h1M78 66h2M84 66h1M33 67h1M22 68h1M28 68h1M4 69h1M51 69h1M85 69h1M42 70h1M59 70h7M85 70h1M53 71h4M83 72h1M5 73h1M82 73h1M21 74h1M81 74h1M7 75h1M9 76h1M18 76h1M33 76h1M16 77h1M76 77h1M12 78h3M28 78h1M73 79h1M12 80h1M23 80h1M11 81h1M13 81h1M70 81h1M8 82h1M49 82h1M5 83h1M13 83h1M69 83h1M17 84h1M39 84h1M12 85h1M16 85h1M39 85h1M50 85h1M90 85h1M62 87h1M5 88h1M15 89h1M38 90h1M14 91h1M90 91h1M36 94h1M91 94h1M35 95h1M91 95h1M34 96h1"/>
<path stroke="#a0a0a0" d="M79 2h1M79 3h1M92 4h1M91 5h1M48 6h1M80 6h1M14 7h1M91 8h1M30 9h1M92 9h1M11 10h1M29 10h1M32 10h1M49 10h1M25 11h1M29 11h2M28 12h1M50 13h1M80 15h1M52 18h1M79 18h1M16 19h1M79 19h1M18 20h1M80 20h1M81 22h1M8 23h2M26 23h1M31 23h1M83 23h1M5 24h1M11 24h1M33 24h1M5 25h1M5 26h1M6 27h1M15 27h1M42 27h1M16 28h1M54 28h1M8 29h1M9 30h1M18 30h1M0 31h1M11 31h1M20 31h1M13 32h1M21 32h1M87 32h1M3 33h1M15 33h1M22 33h1M16 34h2M21 34h1M47 34h1M82 34h1M57 35h1M48 36h1M7 37h1M8 38h1M10 39h1M90 39h1M12 40h1M87 40h1M13 41h1M26 41h3M24 42h1M30 42h1M33 42h1M52 42h1M14 43h1M35 43h1M15 44h1M52 44h1M16 45h1M19 46h1M39 46h1M41 47h1M83 48h1M87 48h1M62 49h1M47 50h1M64 50h1M77 52h1M74 55h1M51 57h1M36 59h1M38 59h1M35 60h1M42 61h1M70 61h1M77 61h1M80 61h1M87 61h1M82 62h1M24 63h1M34 63h1M83 63h2M25 64h1M82 64h2M80 65h1M2 66h1M3 67h1M27 67h1M31 68h1M66 69h1M52 70h1M58 70h1M5 71h1M5 72h1M22 72h1M6 74h1M19 75h1M17 76h1M34 76h1M79 76h1M11 77h1M15 77h1M30 77h1M27 79h1M24 80h1M72 80h1M12 81h1M48 81h1M9 82h5M40 82h1M12 83h1M12 84h1M16 86h1M39 86h1M65 86h1M11 87h1M51 87h1M15 90h1M11 91h1M4 93h1M37 93h1M91 93h1M3 95h1M91 96h1"/>
<path stroke="#a2a2a2" d="M52 0h1M79 0h1M51 1h1M79 1h1M50 2h1M19 3h1M49 3h1M80 5h1M13 8h1M31 8h2M12 9h1M31 9h2M49 9h1M30 10h2M81 10h1M26 11h3M81 11h1M24 12h1M27 12h1M50 12h1M24 13h1M26 13h1M11 16h1M80 16h1M13 18h1M53 19h1M81 21h1M7 23h1M10 23h1M25 23h1M84 23h1M4 24h1M34 24h1M4 25h1M14 26h1M5 27h1M6 28h1M44 28h1M7 29h1M17 29h1M45 29h1M19 30h1M10 31h1M21 31h1M90 31h1M2 32h1M12 32h1M22 32h1M14 33h1M4 34h1M15 34h1M22 34h1M16 35h6M6 36h1M49 37h1M91 38h1M11 39h1M89 39h1M13 40h1M27 40h2M25 41h1M29 41h5M84 41h1M14 42h1M34 42h1M80 42h1M23 43h1M36 43h1M52 43h1M77 43h1M37 44h1M38 45h1M53 45h1M71 45h1M59 47h1M44 48h1M88 49h1M79 50h1M78 51h1M49 52h1M73 56h1M89 56h1M89 57h1M89 58h1M41 60h1M88 60h1M51 61h1M78 61h2M23 62h1M34 62h1M77 62h1M81 62h1M22 63h1M82 63h1M85 63h1M43 64h1M77 64h1M81 64h1M84 64h1M0 65h1M21 65h1M26 65h1M43 65h1M69 65h1M78 65h2M84 65h1M33 66h1M21 67h1M4 68h1M29 68h2M85 68h1M22 69h1M5 70h1M42 71h1M85 71h1M84 72h1M21 73h1M20 74h1M8 75h1M39 75h1M81 75h1M10 76h1M35 76h1M12 77h3M31 77h1M77 77h1M29 78h1M75 78h1M74 79h1M73 80h1M21 81h1M43 81h1M71 81h1M70 82h1M6 83h1M19 83h1M49 83h1M18 84h1M91 84h1M17 85h1M68 85h1M11 86h1M50 86h1M16 87h1M39 87h1M10 89h1M6 90h1M90 90h1M38 91h1M5 92h1M36 95h1M35 96h1"/>
<path stroke="#a4a4a4" d="M5 0h1M10 0h1M22 0h1M53 0h1M62 0h2M6 1h1M52 1h1M80 2h1M80 3h1M49 4h1M80 4h1M49 8h1M81 9h1M50 11h1M25 12h2M81 12h1M25 13h1M51 15h1M12 17h1M52 17h1M80 17h1M80 18h1M80 19h1M21 21h1M54 21h1M30 22h1M54 22h1M82 22h1M5 23h2M54 23h1M85 23h1M2 24h2M54 24h1M2 25h2M13 25h1M38 25h1M4 26h1M40 26h1M43 27h1M54 27h1M5 28h1M6 29h1M8 30h1M20 30h1M11 32h1M86 32h1M13 33h1M23 33h1M47 33h1M84 33h1M23 34h1M56 34h1M5 35h1M15 35h1M22 35h2M16 36h3M91 37h1M9 38h1M50 38h1M12 39h1M26 39h3M51 39h1M88 39h1M25 40h2M29 40h3M86 40h1M14 41h1M24 41h1M52 41h1M83 41h1M35 42h1M15 43h1M22 44h1M74 44h1M17 45h1M40 46h1M55 46h1M69 46h1M42 47h1M68 47h1M61 48h1M67 48h1M82 48h1M66 49h1M80 49h1M89 54h1M89 55h1M51 56h1M39 59h1M70 60h1M22 62h1M24 62h1M25 63h1M43 63h1M77 63h1M81 63h1M78 64h1M80 64h1M1 65h1M27 66h1M43 66h1M28 67h1M32 67h1M68 67h1M51 68h1M67 68h1M64 69h2M22 70h1M53 70h1M56 70h2M86 70h1M22 71h1M6 73h1M83 73h1M7 74h1M82 74h1M18 75h1M11 76h1M16 76h1M80 76h1M25 80h1M22 81h1M47 81h1M20 82h1M7 83h1M10 83h2M92 83h1M5 84h1M11 84h1M69 84h1M11 85h1M90 86h1M5 87h1M63 87h1M10 88h1M39 88h1M6 89h1M10 90h1M6 91h1M91 92h1M4 94h1M37 94h1M3 96h1"/>
<path stroke="#a6a6a6" d="M54 0h1M61 0h1M64 0h1M80 0h1M7 1h3M62 1h3M80 1h1M51 2h1M50 3h1M49 5h1M49 6h1M91 6h1M49 7h1M81 7h1M91 7h1M81 8h1M50 10h1M11 11h1M81 13h1M53 18h1M17 19h1M54 20h1M81 20h1M23 22h1M29 22h1M4 23h1M32 23h1M86 23h3M0 24h2M12 24h1M35 24h1M0 25h2M54 25h1M3 26h1M54 26h1M4 27h1M16 27h1M17 28h1M5 29h1M18 29h1M0 30h1M6 30h2M21 30h1M46 30h1M92 30h1M1 31h1M9 31h1M22 31h1M89 31h1M3 32h1M23 32h1M12 33h1M24 33h1M14 34h1M24 34h1M14 35h1M24 35h2M58 35h4M79 35h1M15 36h1M19 36h2M24 36h2M92 36h1M8 37h1M15 37h4M25 37h3M10 38h1M13 38h4M25 38h4M90 38h1M13 39h2M25 39h1M29 39h2M14 40h1M32 40h1M34 41h1M15 42h1M23 42h1M36 42h1M37 43h1M16 44h1M38 44h1M73 44h1M21 45h1M39 45h1M43 47h1M46 49h1M48 50h1M49 51h1M76 52h1M89 52h1M75 53h1M89 53h1M50 54h1M36 58h2M35 59h1M89 59h1M23 61h2M34 61h1M43 62h1M51 62h1M78 62h1M80 62h1M87 62h1M78 63h1M80 63h1M86 63h1M26 64h1M69 64h1M79 64h1M85 64h1M33 65h1M3 66h1M4 67h1M85 67h1M5 69h1M52 69h1M63 69h1M86 69h1M54 70h2M6 72h1M19 74h1M41 74h1M9 75h1M12 76h1M36 76h1M32 77h1M78 77h1M30 78h1M76 78h1M28 79h1M26 80h1M74 80h1M72 81h1M8 83h2M49 84h1M66 86h1M90 87h1M16 88h1M53 88h8M90 88h1M90 89h1M10 91h1M38 92h1M92 95h1M36 96h1"/>
<path stroke="#a8a8a8" d="M55 0h1M60 0h1M65 0h1M5 1h1M53 1h1M61 1h1M52 2h1M63 2h1M51 3h1M18 4h1M50 4h1M92 5h1M81 6h1M50 8h1M92 8h1M50 9h1M11 12h1M51 14h1M81 14h1M11 15h1M81 15h1M52 16h1M14 18h1M81 18h1M54 19h1M81 19h1M19 20h1M30 20h1M29 21h2M82 21h1M28 22h1M31 22h1M83 22h1M1 23h3M11 23h1M89 23h1M36 24h1M39 25h1M0 26h3M15 26h1M41 26h1M0 27h1M3 27h1M4 28h1M19 29h1M8 31h1M88 31h1M10 32h1M47 32h1M55 32h1M4 33h1M25 33h1M13 34h1M25 34h2M26 35h1M48 35h1M62 35h2M71 35h2M7 36h1M14 36h1M21 36h3M26 36h2M91 36h1M13 37h2M19 37h1M24 37h1M28 37h1M11 38h2M17 38h1M24 38h1M29 38h2M89 38h1M15 39h2M24 39h1M31 39h2M87 39h1M15 40h1M24 40h1M33 40h1M52 40h1M15 41h1M23 41h1M35 41h1M37 42h1M53 42h1M22 43h1M53 43h1M53 44h1M72 44h1M18 45h1M70 45h1M41 46h1M45 48h1M77 51h1M89 51h1M74 54h1M40 59h1M34 60h1M88 61h1M25 62h1M79 62h1M51 63h1M79 63h1M21 64h1M33 64h1M2 65h1M27 65h1M85 65h1M32 66h1M85 66h1M29 67h3M43 67h1M51 67h1M21 68h1M66 68h1M62 69h1M6 71h1M86 71h1M21 72h1M42 72h1M85 72h1M20 73h1M8 74h1M10 75h1M17 75h1M40 75h1M82 75h1M13 76h3M37 76h1M81 76h1M33 77h1M75 79h1M23 81h1M44 81h3M73 81h1M21 82h1M41 82h1M48 82h1M71 82h1M40 83h1M70 83h1M10 84h1M5 85h1M5 86h1M17 86h1M67 86h1M10 87h1M50 87h1M6 88h1M52 88h1M39 89h1M7 90h1M9 90h1M15 91h1M6 92h1M11 92h3M5 93h1M38 93h1M92 94h1M4 95h1M37 95h1M92 96h1"/>
<path stroke="#aaaaaa" d="M56 0h4M10 1h1M54 1h1M65 1h1M81 1h1M53 2h1M62 2h1M64 2h1M81 2h1M50 5h1M81 5h1M50 6h1M50 7h1M51 11h1M51 12h1M11 13h1M51 13h1M11 14h1M81 16h1M81 17h1M29 20h1M31 20h1M82 20h1M22 21h1M31 21h1M55 21h1M27 22h1M55 22h1M84 22h1M0 23h1M33 23h1M37 24h1M14 25h1M42 26h1M1 27h2M0 28h1M0 29h1M4 29h1M65 29h1M5 30h1M22 30h1M65 30h2M91 30h1M2 31h1M6 31h2M23 31h1M87 31h1M4 32h1M9 32h1M24 32h1M85 32h1M11 33h1M26 33h1M83 33h1M5 34h1M12 34h1M27 34h1M81 34h1M6 35h1M13 35h1M27 35h1M64 35h7M73 35h1M76 35h3M13 36h1M28 36h1M9 37h1M12 37h1M20 37h1M23 37h1M29 37h1M90 37h1M18 38h1M31 38h1M17 39h1M16 40h1M23 40h1M34 40h1M85 40h1M36 41h1M82 41h1M22 42h1M79 42h1M16 43h1M38 43h1M76 43h1M17 44h1M39 44h1M19 45h2M40 45h1M54 45h1M86 47h1M81 48h1M88 48h1M63 49h1M65 49h1M78 50h1M89 50h1M50 53h1M51 55h1M52 57h1M35 58h1M38 58h1M52 58h1M52 59h1M70 59h1M23 60h2M42 60h1M52 60h1M22 61h1M25 61h1M33 62h1M26 63h1M33 63h1M69 63h1M0 64h1M51 64h1M28 66h1M5 68h1M43 68h1M65 68h1M86 68h1M59 69h3M6 70h1M87 70h1M7 73h1M84 73h1M18 74h1M83 74h1M11 75h1M79 77h1M31 78h1M77 78h1M29 79h1M27 80h1M74 81h1M20 83h1M6 84h1M19 84h1M10 85h1M18 85h1M49 85h1M91 85h1M10 86h1M17 87h1M61 88h1M7 89h1M9 89h1M16 89h1M8 90h1M39 90h1M7 91h1M9 91h1M91 91h1M92 93h1M4 96h1M37 96h1"/>
<path stroke="#acacac" d="M4 0h1M66 0h1M81 0h1M55 1h2M59 1h2M54 2h1M61 2h1M65 2h1M52 3h1M62 3h3M81 3h1M51 4h1M81 4h1M17 5h1M51 5h1M15 7h1M51 8h1M51 9h1M12 10h1M51 10h1M52 15h1M53 17h1M15 18h1M54 18h1M82 18h1M29 19h2M82 19h1M55 20h1M28 21h1M83 21h1M6 22h4M32 22h1M55 23h1M17 27h1M44 27h1M1 28h3M18 28h1M45 28h1M20 29h1M64 29h1M66 29h1M1 30h1M4 30h1M64 30h1M3 31h3M47 31h1M55 31h1M8 32h1M25 32h2M10 33h1M27 33h1M11 34h1M28 34h1M12 35h1M28 35h1M74 35h2M8 36h1M12 36h1M29 36h1M49 36h1M10 37h2M21 37h2M30 37h1M19 38h1M23 38h1M32 38h1M88 38h1M18 39h1M23 39h1M33 39h1M17 40h1M35 40h1M16 41h1M22 41h1M37 41h1M53 41h1M16 42h1M38 42h1M21 44h1M71 44h1M42 46h1M56 46h2M44 47h1M60 47h1M85 47h1M64 49h1M79 49h1M50 52h1M73 55h1M36 57h1M90 58h1M23 59h2M34 59h1M41 59h1M25 60h1M89 60h1M33 61h1M43 61h1M26 62h1M21 63h1M87 63h1M27 64h1M32 65h1M51 65h1M4 66h1M20 66h1M31 66h1M51 66h1M68 66h1M67 67h1M21 69h1M43 69h1M53 69h1M58 69h1M87 69h1M21 71h1M87 71h1M86 72h1M19 73h1M9 74h1M12 75h1M16 75h1M83 75h1M38 76h1M82 76h1M34 77h1M80 77h1M76 79h1M75 80h1M24 81h1M22 82h1M72 82h2M7 84h3M40 84h1M92 84h1M40 85h1M64 87h1M9 88h1M51 88h1M8 89h1M16 90h1M8 91h1M39 91h1M7 92h1M10 92h1M14 92h1M5 94h1M38 94h1"/>
<path stroke="#aeaeae" d="M11 0h1M57 1h2M55 2h1M60 2h1M53 3h1M61 3h1M52 4h1M16 6h1M51 6h1M92 6h1M51 7h1M92 7h1M14 8h1M13 9h1M82 11h1M12 16h1M13 17h1M82 17h1M31 19h1M55 19h1M83 19h1M20 20h1M28 20h1M32 20h1M83 20h1M32 21h1M1 22h2M5 22h1M24 22h1M34 23h1M13 24h1M38 24h1M55 24h1M40 25h1M16 26h1M55 28h1M64 28h2M1 29h1M3 29h1M21 29h1M46 29h1M55 29h1M2 30h2M55 30h1M90 30h1M24 31h1M65 31h1M5 32h3M27 32h2M5 33h1M9 33h1M28 33h1M10 34h1M7 35h1M10 35h2M29 35h1M9 36h3M31 37h1M50 37h1M89 37h1M20 38h1M22 38h1M51 38h1M19 39h1M22 39h1M34 39h1M86 39h1M18 40h1M22 40h1M17 41h1M38 41h1M81 41h1M17 42h1M21 42h1M78 42h1M17 43h1M21 43h1M39 43h1M54 43h1M18 44h1M20 44h1M54 44h1M41 45h1M69 45h1M58 46h1M68 46h1M84 47h1M87 47h1M89 49h1M49 50h1M50 51h1M52 56h1M72 56h1M23 57h2M35 57h1M37 57h1M71 57h1M90 57h1M23 58h2M34 58h1M39 58h1M25 59h1M22 60h1M26 61h1M52 61h1M21 62h1M69 62h1M88 62h1M1 64h1M32 64h1M86 64h1M3 65h1M29 66h1M5 67h1M20 67h1M86 67h1M52 68h1M64 68h1M6 69h1M54 69h1M57 69h1M21 70h1M7 72h1M20 72h1M8 73h1M42 73h1M85 73h1M10 74h1M17 74h1M84 74h1M13 75h1M15 75h1M89 76h1M81 77h1M32 78h1M78 78h1M30 79h1M75 81h1M47 82h1M74 82h1M48 83h1M71 83h1M70 84h1M69 85h1M18 86h1M40 86h1M49 86h1M6 87h1M9 87h1M40 87h1M7 88h2M17 88h1M62 88h1M91 90h1M8 92h2M39 92h1M92 92h1M6 93h1M38 95h1"/>
<path stroke="#b0b0b0" d="M67 0h1M66 1h1M21 2h1M56 2h4M54 3h1M60 3h1M65 3h1M53 4h1M62 4h3M52 5h1M52 6h1M52 7h1M52 8h1M52 9h1M52 10h1M82 10h1M12 11h1M52 11h1M82 12h1M52 14h1M53 16h1M82 16h1M16 18h1M83 18h1M18 19h1M27 21h1M84 21h1M0 22h1M3 22h2M10 22h1M26 22h1M33 22h1M85 22h1M12 23h1M35 23h1M90 23h1M92 24h1M55 25h1M43 26h1M55 27h1M19 28h1M63 28h1M2 29h1M63 29h1M23 30h1M63 30h1M67 30h1M25 31h4M64 31h1M66 31h1M86 31h1M29 32h1M6 33h1M8 33h1M29 33h1M6 34h1M8 34h2M29 34h1M48 34h1M57 34h1M8 35h2M30 36h1M90 36h1M21 38h1M33 38h1M87 38h1M20 39h2M52 39h1M19 40h1M21 40h1M36 40h1M84 40h1M18 41h1M21 41h1M39 42h1M54 42h1M18 43h1M20 43h1M75 43h1M19 44h1M40 44h1M43 46h1M67 47h1M62 48h1M66 48h1M80 48h1M47 49h1M77 50h1M76 51h1M75 52h1M22 54h2M51 54h1M23 55h1M23 56h2M90 56h1M22 57h1M22 58h1M25 58h1M22 59h1M26 59h1M90 59h1M26 60h1M33 60h1M27 63h1M32 63h1M20 65h1M28 65h1M68 65h1M30 66h1M66 67h1M20 68h1M55 69h2M43 70h1M88 70h1M7 71h1M88 71h1M87 72h1M18 73h1M11 74h1M14 75h1M83 76h1M90 76h1M35 77h1M82 77h1M28 80h1M76 80h1M25 81h1M23 82h1M42 82h1M75 82h1M21 83h1M72 83h1M48 84h1M6 85h1M9 85h1M19 85h1M9 86h1M91 86h1M18 87h1M40 88h1M50 88h1M91 89h1M16 91h1M15 92h1M39 93h1M5 95h1M5 96h1M38 96h1"/>
<path stroke="#b2b2b2" d="M82 0h1M4 1h1M82 1h1M66 2h1M82 2h1M55 3h5M66 3h1M54 4h1M60 4h2M65 4h1M53 5h1M53 6h1M82 6h1M53 7h1M82 7h1M53 8h1M82 8h1M53 9h1M82 9h1M12 12h1M52 12h1M52 13h1M82 13h1M82 14h1M12 15h1M53 15h1M82 15h1M54 17h1M83 17h1M55 18h1M28 19h1M32 19h1M84 19h1M21 20h1M27 20h1M84 20h1M23 21h1M33 21h1M56 21h1M56 22h1M56 23h1M39 24h1M15 25h1M41 25h1M55 26h1M18 27h1M63 27h2M66 28h1M22 29h1M47 30h1M89 30h1M29 31h1M84 32h1M7 33h1M56 33h1M82 33h1M7 34h1M80 34h1M30 35h1M31 36h1M32 37h1M35 39h1M20 40h1M37 40h1M53 40h1M19 41h2M39 41h1M18 42h3M77 42h1M19 43h1M40 43h1M72 43h3M70 44h1M42 45h1M55 45h1M59 46h1M83 47h1M78 49h1M24 51h3M23 52h5M22 53h3M51 53h1M74 53h1M90 54h1M22 55h1M24 55h1M52 55h1M90 55h1M22 56h1M34 56h3M25 57h1M34 57h1M38 57h1M53 57h1M26 58h1M53 58h1M33 59h1M42 59h1M43 60h1M89 61h1M27 62h1M32 62h1M52 62h1M0 63h1M2 64h1M28 64h1M68 64h1M31 65h1M86 65h1M86 66h1M6 68h1M63 68h1M87 68h1M7 70h1M89 70h1M20 71h1M43 71h1M89 71h1M8 72h1M19 72h1M9 73h1M86 73h1M12 74h1M16 74h1M85 74h1M41 75h1M84 75h1M89 75h1M39 76h1M88 76h1M33 78h1M79 78h1M31 79h1M77 79h1M29 80h1M26 81h1M22 83h2M41 83h1M73 83h2M20 84h1M7 85h2M92 85h1M6 86h1M7 87h2M49 87h1M91 87h1M18 88h2M91 88h1M17 89h1M92 91h1M7 93h5M6 94h1M39 94h1M39 95h1M39 96h1"/>
<path stroke="#b4b4b4" d="M68 0h1M11 1h1M67 1h1M6 2h1M9 2h1M82 3h1M55 4h5M66 4h1M54 5h1M61 5h6M82 5h1M54 6h1M65 6h2M54 7h1M65 7h2M54 8h2M66 8h1M54 9h1M53 10h1M12 13h1M12 14h1M13 16h1M83 16h1M14 17h1M30 18h1M84 18h1M85 19h1M33 20h1M56 20h1M85 20h1M85 21h1M11 22h1M25 22h1M34 22h1M86 22h1M36 23h1M56 24h1M17 26h1M65 27h1M20 28h1M62 28h1M62 29h1M24 30h1M87 30h2M63 31h1M30 32h1M65 32h1M30 33h1M48 33h1M30 34h1M60 34h3M64 34h3M69 34h2M49 35h1M92 35h1M33 37h1M34 38h1M38 40h1M83 40h1M54 41h1M80 41h1M55 43h1M41 44h1M44 46h1M45 47h1M88 47h1M46 48h1M27 51h2M28 52h3M51 52h1M90 52h1M25 53h7M90 53h1M24 54h1M25 56h1M53 56h1M26 57h1M27 58h1M33 58h1M40 58h1M27 59h1M53 59h1M27 60h1M53 60h1M27 61h1M32 61h1M69 61h1M44 63h1M88 63h1M31 64h1M44 64h1M87 64h1M29 65h2M5 66h1M52 67h1M65 67h1M53 68h1M62 68h1M20 69h1M88 69h1M20 70h1M88 72h1M10 73h1M42 74h1M85 75h1M88 75h1M84 76h1M36 77h1M89 77h2M34 78h1M80 78h1M32 79h1M27 81h1M76 81h1M24 82h1M46 82h1M24 83h1M47 83h1M75 83h1M23 84h2M71 84h1M48 85h1M7 86h2M19 86h1M19 87h1M20 88h1M63 88h1M18 89h3M40 89h1M56 89h4M12 93h1M6 95h1"/>
<path stroke="#b6b6b6" d="M3 0h1M12 0h1M22 1h1M68 1h1M5 2h1M7 2h2M67 2h1M67 3h1M67 4h1M82 4h1M55 5h6M67 5h1M55 6h1M64 6h1M67 6h1M55 7h1M65 8h1M55 9h1M65 9h2M13 10h1M54 10h1M53 11h1M53 12h1M53 14h1M54 16h1M15 17h1M84 17h1M17 18h1M29 18h1M31 18h1M85 18h1M26 21h1M34 21h1M87 22h2M37 23h1M14 24h1M42 25h1M44 26h1M63 26h1M45 27h1M62 27h1M46 28h1M23 29h1M67 29h1M92 29h1M25 30h5M62 30h1M30 31h1M85 31h1M48 32h1M64 32h1M66 32h1M65 33h1M58 34h2M63 34h1M67 34h2M71 34h3M31 35h1M32 36h1M88 37h1M36 39h1M85 39h1M39 40h1M40 42h1M55 42h1M76 42h1M71 43h1M55 44h1M43 45h1M68 45h1M61 47h1M82 47h1M79 48h1M89 48h1M50 50h1M23 51h1M29 51h1M51 51h1M90 51h1M22 52h1M31 52h1M32 53h1M27 54h1M29 54h4M52 54h1M73 54h1M25 55h2M31 55h5M53 55h1M26 56h2M32 56h2M37 56h1M27 57h2M33 57h1M39 57h1M28 58h1M41 58h1M70 58h1M28 59h1M32 59h1M32 60h1M90 60h1M21 61h1M44 62h1M89 62h1M1 63h1M28 63h1M31 63h1M52 63h1M3 64h1M20 64h1M29 64h2M4 65h1M44 65h1M67 66h1M7 69h1M90 70h1M8 71h1M90 71h1M9 72h1M18 72h1M43 72h1M89 72h1M11 73h1M17 73h1M87 73h2M13 74h1M86 74h3M86 75h2M90 75h1M85 76h1M87 76h1M37 77h1M83 77h1M78 79h1M30 80h1M77 80h1M43 82h1M76 82h1M21 84h2M41 84h1M72 84h4M23 85h2M41 85h1M70 85h1M75 85h1M41 86h1M48 86h1M75 86h2M41 87h1M65 87h1M76 87h1M49 88h1M76 88h2M51 89h5M60 89h1M77 89h2M17 90h1M40 90h1M78 90h1M92 90h1M40 91h1M16 92h1M40 92h1M13 93h1M40 93h1M7 94h1M40 94h1M43 94h1M40 95h1M43 95h1M6 96h1M40 96h2"/>
<path stroke="#b8b8b8" d="M10 2h1M68 2h1M68 3h1M56 6h8M56 7h2M64 7h1M67 7h1M56 8h1M64 8h1M67 8h1M14 9h1M56 9h1M13 11h1M53 13h1M83 15h1M55 17h1M27 19h1M33 19h1M56 19h1M22 20h1M26 20h1M24 21h1M86 21h1M35 22h1M38 23h1M40 24h1M56 25h1M64 26h1M19 27h1M21 28h1M91 29h1M31 31h1M62 31h1M67 31h1M31 32h1M63 32h1M83 32h1M31 33h1M64 33h1M66 33h1M31 34h1M77 34h1M91 35h1M33 36h1M50 36h1M34 37h1M35 38h1M86 38h1M37 39h1M40 41h1M79 41h1M41 43h1M56 43h1M42 44h1M69 44h1M56 45h3M67 46h1M63 48h1M65 48h1M48 49h1M77 49h1M24 50h4M76 50h1M90 50h1M30 51h1M75 51h1M52 52h1M52 53h1M21 54h1M25 54h2M28 54h1M33 54h2M53 54h2M21 55h1M27 55h4M54 55h1M72 55h1M21 56h1M28 56h4M54 56h1M21 57h1M29 57h4M21 58h1M29 58h1M32 58h1M42 58h1M21 59h1M29 59h1M43 59h1M21 60h1M28 60h1M31 60h1M28 61h1M31 61h1M53 61h1M0 62h1M28 62h1M31 62h1M29 63h2M68 63h1M52 64h1M44 66h1M66 66h1M6 67h1M64 67h1M87 67h1M54 68h1M61 68h1M88 68h1M89 69h1M8 70h1M19 71h1M10 72h1M12 73h1M89 73h1M14 74h2M89 74h1M40 76h1M86 76h1M38 77h1M35 78h1M81 78h1M33 79h1M31 80h1M28 81h1M25 82h2M45 82h1M25 83h1M42 83h1M76 83h1M25 84h1M47 84h1M76 84h1M20 85h1M73 85h2M76 85h1M68 86h1M74 86h1M77 86h1M92 86h1M20 87h1M48 87h1M75 87h1M77 87h1M21 88h1M41 88h1M75 88h1M78 88h1M50 89h1M61 89h1M76 89h1M18 90h2M77 90h1M17 91h1M41 93h4M8 94h2M41 94h2M44 94h1M7 95h1M41 95h2M44 95h1M42 96h3"/>
<path stroke="#bababa" d="M23 0h1M69 0h1M83 0h1M3 1h1M69 1h1M68 4h1M68 5h1M58 7h6M15 8h1M57 8h1M64 9h1M55 10h1M65 10h1M54 11h1M13 12h1M83 12h1M83 13h1M83 14h1M13 15h1M54 15h1M14 16h1M84 16h1M32 18h1M19 19h1M86 19h1M23 20h3M34 20h1M86 20h1M0 21h2M8 21h1M25 21h1M35 21h1M57 21h1M57 22h1M89 22h1M13 23h1M57 23h1M16 25h1M43 25h1M56 26h1M56 27h1M66 27h1M56 28h1M24 29h1M47 29h1M61 29h1M30 30h1M61 30h1M86 30h1M48 31h1M32 32h1M62 32h1M67 32h1M62 33h2M67 33h1M81 33h1M49 34h1M74 34h1M76 34h1M78 34h2M32 35h1M89 36h1M38 39h1M82 40h1M78 41h1M41 42h1M56 42h1M73 42h1M70 43h1M56 44h1M60 46h1M66 47h1M81 47h1M64 48h1M78 48h1M51 50h1M22 51h1M31 51h1M52 51h2M32 52h1M53 52h1M74 52h1M21 53h1M33 53h1M53 53h2M36 55h1M38 56h1M40 57h2M54 57h1M30 58h2M54 58h1M30 59h2M29 60h2M29 61h2M44 61h1M90 61h1M29 62h2M2 63h1M20 63h1M88 64h1M52 65h1M67 65h1M87 65h1M19 66h1M52 66h1M87 66h1M19 67h1M7 68h1M19 68h1M55 68h2M58 68h3M19 69h1M19 70h1M9 71h1M11 72h1M90 72h1M13 73h1M16 73h1M84 77h1M88 77h1M79 79h1M29 81h1M77 81h1M27 82h1M44 82h1M26 83h1M46 83h1M22 85h1M47 85h1M71 85h2M77 85h1M20 86h1M23 86h1M42 86h3M73 86h1M21 87h1M42 87h4M74 87h1M78 87h1M92 87h1M42 88h4M48 88h1M92 88h1M41 89h1M43 89h3M49 89h1M92 89h1M20 90h1M41 90h1M43 90h3M79 90h1M18 91h1M41 91h4M78 91h1M41 92h4M14 93h1M45 93h1M10 94h1M45 94h1M7 96h1"/>
<path stroke="#bcbcbc" d="M13 0h1M12 1h1M83 1h1M69 2h1M68 6h1M16 7h1M58 8h6M57 9h1M64 10h1M66 10h1M62 11h3M83 11h1M54 12h1M62 12h1M13 13h1M54 14h1M84 15h1M85 17h1M56 18h1M87 20h1M2 21h2M5 21h3M87 21h2M36 22h1M39 23h1M91 23h1M41 24h1M57 24h1M57 25h1M18 26h1M62 26h1M65 26h1M22 28h1M61 28h1M67 28h1M25 29h2M56 29h1M90 29h1M61 31h1M84 31h1M56 32h1M32 33h1M61 33h1M68 33h3M32 34h1M75 34h1M33 35h1M34 36h1M35 37h1M51 37h1M36 38h1M52 38h1M40 40h1M54 40h1M41 41h1M55 41h1M77 41h1M72 42h1M74 42h2M42 43h1M57 43h1M43 44h1M57 44h2M68 44h1M59 45h1M90 49h1M28 50h1M52 50h2M54 51h1M54 52h1M35 54h1M39 56h1M71 56h1M42 57h1M43 58h1M54 59h1M44 60h1M69 60h1M0 61h1M1 62h1M53 62h1M89 63h1M4 64h1M67 64h1M65 66h1M44 67h1M53 67h1M57 68h1M8 69h1M10 71h1M18 71h1M12 72h1M17 72h1M43 73h1M90 73h1M90 74h1M42 75h1M91 75h1M91 76h1M85 77h3M82 78h1M34 79h1M80 79h1M32 80h1M78 80h1M30 81h1M28 82h1M77 82h1M77 83h1M42 84h1M77 84h1M21 85h1M42 85h2M22 86h1M45 86h3M69 86h2M22 87h1M46 87h2M73 87h1M46 88h2M64 88h1M74 88h1M21 89h1M42 89h1M46 89h3M62 89h1M75 89h1M79 89h1M42 90h1M46 90h1M76 90h1M19 91h1M45 91h2M77 91h1M79 91h1M17 92h1M45 92h1M11 94h1M8 95h1M45 95h1M8 96h1M45 96h1"/>
<path stroke="#bebebe" d="M14 0h1M13 1h1M4 2h1M20 3h1M69 3h1M19 4h1M69 4h1M69 5h1M68 7h1M58 9h6M67 9h1M14 10h1M56 10h1M59 10h5M83 10h1M61 11h1M65 11h1M61 12h1M63 12h2M54 13h1M13 14h2M84 14h1M14 15h1M15 16h1M16 17h1M28 18h1M86 18h1M20 19h1M26 19h1M35 20h1M57 20h1M4 21h1M9 21h1M36 21h1M12 22h1M37 22h2M40 23h1M15 24h1M44 25h1M45 26h1M57 26h1M20 27h1M46 27h1M61 27h1M23 28h1M27 29h1M88 29h2M31 30h1M32 31h1M33 32h1M61 32h1M68 32h1M33 33h1M49 33h1M57 33h1M71 33h2M33 34h1M34 35h1M87 37h1M37 38h1M39 39h1M53 39h1M84 39h1M81 40h1M76 41h1M42 42h1M71 42h1M69 43h1M44 45h1M67 45h1M45 46h1M80 47h1M49 49h1M23 50h1M29 50h1M54 50h1M34 53h1M55 53h1M73 53h1M55 54h1M37 55h1M55 55h1M40 56h1M55 56h1M91 58h1M54 60h1M1 61h1M2 62h1M68 62h1M90 62h1M3 63h1M53 63h1M5 65h1M19 65h1M66 65h1M88 65h1M88 66h1M63 67h1M88 67h1M44 68h1M89 68h1M18 69h1M90 69h1M9 70h2M18 70h1M91 70h1M11 71h1M17 71h1M91 71h1M16 72h1M91 72h1M14 73h2M91 73h1M91 74h1M41 76h1M39 77h1M36 78h2M79 80h1M78 81h1M29 82h1M27 83h1M43 83h3M26 84h1M43 84h4M25 85h1M44 85h3M21 86h1M71 86h2M78 86h1M66 87h1M72 87h1M22 88h1M73 88h1M79 88h1M47 90h2M80 91h1M46 92h1M79 92h1M15 93h1M9 95h1"/>
</g></g>
<linearGradient id="ga" x1="0" y1="0" x2="0" y2="1"><stop offset="0" stop-color="#800000"/><stop offset="0.125" stop-color="#ff0000"/><stop offset="0.375" stop-color="#ffff00"/><stop offset="0.625" stop-color="#00ffff"/><stop offset="0.875" stop-color="#0000ff"/><stop offset="1" stop-color="#000080"/></linearGradient><rect x="238.8" y="7.6" width="10.1" height="189.1" fill="url(#ga)"/>
<linearGradient id="gb" x1="0" y1="0" x2="0" y2="1"><stop offset="0" stop-color="#800000"/><stop offset="0.125" stop-color="#ff0000"/><stop offset="0.375" stop-color="#ffff00"/><stop offset="0.625" stop-color="#00ffff"/><stop offset="0.875" stop-color="#0000ff"/><stop offset="1" stop-color="#000080"/></linearGradient><rect x="518.8" y="6.5" width="10.1" height="193.2" fill="url(#gb)"/>
<text transform="translate(40.40,47.78) scale(1,0.92)" font-size="11.5" text-anchor="end">50</text>
<text transform="translate(79.09,208.19) scale(1,0.92)" font-size="11.5" text-anchor="middle">50</text>
<text transform="translate(40.40,84.54) scale(1,0.92)" font-size="11.5" text-anchor="end">100</text>
<text transform="translate(115.85,208.19) scale(1,0.92)" font-size="11.5" text-anchor="middle">100</text>
<text transform="translate(40.40,121.29) scale(1,0.92)" font-size="11.5" text-anchor="end">150</text>
<text transform="translate(152.61,208.19) scale(1,0.92)" font-size="11.5" text-anchor="middle">150</text>
<text transform="translate(40.40,158.05) scale(1,0.92)" font-size="11.5" text-anchor="end">200</text>
<text transform="translate(189.36,208.19) scale(1,0.92)" font-size="11.5" text-anchor="middle">200</text>
<text transform="translate(40.40,194.81) scale(1,0.92)" font-size="11.5" text-anchor="end">250</text>
<text transform="translate(226.12,208.19) scale(1,0.92)" font-size="11.5" text-anchor="middle">250</text>
<path d="M79.09 196.70v-1.6M79.09 7.60v1.6M42.70 44.16h1.6M230.90 44.16h-1.6M115.85 196.70v-1.6M115.85 7.60v1.6M42.70 81.10h1.6M230.90 81.10h-1.6M152.61 196.70v-1.6M152.61 7.60v1.6M42.70 118.03h1.6M230.90 118.03h-1.6M189.36 196.70v-1.6M189.36 7.60v1.6M42.70 154.97h1.6M230.90 154.97h-1.6M226.12 196.70v-1.6M226.12 7.60v1.6M42.70 191.90h1.6M230.90 191.90h-1.6" stroke="#000" stroke-width="0.5" opacity="0.7"/>
<text transform="translate(132.60,218.84) scale(1,0.86)" font-size="11.5" text-anchor="middle">x(piexls)</text>
<text transform="translate(16.2,103.5) rotate(-90)" font-size="11.5" text-anchor="middle">y(piexls)</text>
<text transform="translate(250.80,15.65) scale(1,0.92)" font-size="11.5" text-anchor="start">3</text>
<path d="M238.8 11.86h1.5M248.9 11.86h-1.5" stroke="#000" stroke-width="0.6"/>
<text transform="translate(250.80,45.75) scale(1,0.92)" font-size="11.5" text-anchor="start">2</text>
<path d="M238.8 41.96h1.5M248.9 41.96h-1.5" stroke="#000" stroke-width="0.6"/>
<text transform="translate(250.80,75.84) scale(1,0.92)" font-size="11.5" text-anchor="start">1</text>
<path d="M238.8 72.05h1.5M248.9 72.05h-1.5" stroke="#000" stroke-width="0.6"/>
<text transform="translate(250.80,105.94) scale(1,0.92)" font-size="11.5" text-anchor="start">0</text>
<path d="M238.8 102.15h1.5M248.9 102.15h-1.5" stroke="#000" stroke-width="0.6"/>
<text transform="translate(250.80,136.03) scale(1,0.92)" font-size="11.5" text-anchor="start">-1</text>
<path d="M238.8 132.25h1.5M248.9 132.25h-1.5" stroke="#000" stroke-width="0.6"/>
<text transform="translate(250.80,166.13) scale(1,0.92)" font-size="11.5" text-anchor="start">-2</text>
<path d="M238.8 162.34h1.5M248.9 162.34h-1.5" stroke="#000" stroke-width="0.6"/>
<text transform="translate(250.80,196.23) scale(1,0.92)" font-size="11.5" text-anchor="start">-3</text>
<path d="M238.8 192.44h1.5M248.9 192.44h-1.5" stroke="#000" stroke-width="0.6"/>
<text class="w" x="219.5" y="21.2" font-size="10.5" text-anchor="middle">(a)</text>
<text class="n" transform="translate(323.40,47.17) scale(1,1.05)" font-size="9.5" text-anchor="end">50</text>
<text class="n" transform="translate(361.99,210.27) scale(1,1.05)" font-size="9.5" text-anchor="middle">50</text>
<text class="n" transform="translate(323.40,84.85) scale(1,1.05)" font-size="9.5" text-anchor="end">100</text>
<text class="n" transform="translate(398.14,210.27) scale(1,1.05)" font-size="9.5" text-anchor="middle">100</text>
<text class="n" transform="translate(323.40,122.52) scale(1,1.05)" font-size="9.5" text-anchor="end">150</text>
<text class="n" transform="translate(434.30,210.27) scale(1,1.05)" font-size="9.5" text-anchor="middle">150</text>
<text class="n" transform="translate(323.40,160.20) scale(1,1.05)" font-size="9.5" text-anchor="end">200</text>
<text class="n" transform="translate(470.45,210.27) scale(1,1.05)" font-size="9.5" text-anchor="middle">200</text>
<text class="n" transform="translate(323.40,197.87) scale(1,1.05)" font-size="9.5" text-anchor="end">250</text>
<text class="n" transform="translate(506.60,210.27) scale(1,1.05)" font-size="9.5" text-anchor="middle">250</text>
<text class="n" transform="translate(426.9,219.2) scale(1.17,1)" font-size="9.6" text-anchor="middle">x(piexls)</text>
<text class="n" transform="translate(303,103.5) rotate(-90) scale(1.12,1)" font-size="10.5" text-anchor="middle">y(piexls)</text>
<text class="n" transform="translate(530.60,14.42) scale(1,1.05)" font-size="9.5" text-anchor="start">3</text>
<path d="M518.8 10.85h1.5M528.9 10.85h-1.5" stroke="#000" stroke-width="0.6"/>
<text class="n" transform="translate(530.60,45.14) scale(1,1.05)" font-size="9.5" text-anchor="start">2</text>
<path d="M518.8 41.57h1.5M528.9 41.57h-1.5" stroke="#000" stroke-width="0.6"/>
<text class="n" transform="translate(530.60,75.85) scale(1,1.05)" font-size="9.5" text-anchor="start">1</text>
<path d="M518.8 72.28h1.5M528.9 72.28h-1.5" stroke="#000" stroke-width="0.6"/>
<text class="n" transform="translate(530.60,106.57) scale(1,1.05)" font-size="9.5" text-anchor="start">0</text>
<path d="M518.8 103.00h1.5M528.9 103.00h-1.5" stroke="#000" stroke-width="0.6"/>
<text class="n" transform="translate(530.60,137.29) scale(1,1.05)" font-size="9.5" text-anchor="start">-1</text>
<path d="M518.8 133.72h1.5M528.9 133.72h-1.5" stroke="#000" stroke-width="0.6"/>
<text class="n" transform="translate(530.60,168.00) scale(1,1.05)" font-size="9.5" text-anchor="start">-2</text>
<path d="M518.8 164.43h1.5M528.9 164.43h-1.5" stroke="#000" stroke-width="0.6"/>
<text class="n" transform="translate(530.60,198.72) scale(1,1.05)" font-size="9.5" text-anchor="start">-3</text>
<path d="M518.8 195.15h1.5M528.9 195.15h-1.5" stroke="#000" stroke-width="0.6"/>
<text class="w" x="499" y="22.3" font-size="10.5" text-anchor="middle">(b)</text>
<rect x="324.6" y="5.0" width="2.9" height="2.6" fill="#080808"/>
<rect x="324.6" y="101.5" width="2.9" height="2.6" fill="#080808"/>
<rect x="324.6" y="197.9" width="2.9" height="2.6" fill="#080808"/>
<rect x="417.1" y="5.0" width="2.9" height="2.6" fill="#080808"/>
<rect x="417.1" y="197.9" width="2.9" height="2.6" fill="#080808"/>
<rect x="509.7" y="5.0" width="2.9" height="2.6" fill="#080808"/>
<rect x="509.7" y="101.5" width="2.9" height="2.6" fill="#080808"/>
<rect x="509.7" y="197.9" width="2.9" height="2.6" fill="#080808"/>
<rect x="31.3" y="232" width="237" height="220.7" fill="#12bbb6"/>
<rect x="281" y="232" width="235.5" height="220.7" fill="#12bbb6"/>
<rect x="281" y="232" width="235.5" height="220.7" filter="url(#nd)" mask="url(#md)"/>
<g filter="url(#bb)" transform="translate(152.8,348.6) scale(1.25)"><ellipse rx="2.4" ry="1.1" fill="#e4da24" transform="translate(-3.7,5.0) rotate(25)"/><ellipse rx="2.0" ry="1.1" fill="#3a30c0" transform="translate(-2.1,2.4) rotate(10)"/><ellipse rx="0.9" ry="1.3" fill="#3a30c0" transform="translate(2.8,1.7) rotate(0)"/><ellipse rx="0.9" ry="2.0" fill="#e4da24" transform="translate(0.9,-1.9) rotate(0)"/><ellipse rx="1.3" ry="0.8" fill="#e4da24" transform="translate(-2.4,-2.8) rotate(0)"/><ellipse rx="1.6" ry="0.5" fill="#3a30c0" transform="translate(-1.8,-1.2) rotate(0)"/><ellipse rx="0.7" ry="1.0" fill="#d2d838" transform="translate(0.5,3.4) rotate(0)"/><ellipse rx="1.0" ry="1.3" fill="#a4d054" transform="translate(4.8,3.4) rotate(0)"/><ellipse rx="1.2" ry="0.6" fill="#e4da24" transform="translate(-0.6,0.6) rotate(0)"/><ellipse rx="0.6" ry="0.6" fill="#2f52d4" transform="translate(1.2,0.4) rotate(0)"/><ellipse rx="0.45" ry="0.9" fill="#2f52d4" transform="translate(5.4,-1.6) rotate(-35)"/><ellipse rx="0.45" ry="0.9" fill="#d2d838" transform="translate(6.3,-1.0) rotate(-35)"/><ellipse rx="0.45" ry="0.9" fill="#2f52d4" transform="translate(7.2,-0.4) rotate(-35)"/><ellipse rx="0.45" ry="0.9" fill="#d2d838" transform="translate(8.1,0.2) rotate(-35)"/><ellipse rx="0.4" ry="0.8" fill="#2a8ae0" transform="translate(9.0,0.8) rotate(-35)"/><ellipse rx="0.5" ry="0.8" fill="#e4da24" transform="translate(4.4,-0.2) rotate(-35)"/><ellipse rx="0.6" ry="0.6" fill="#2f52d4" transform="translate(3.6,-2.4) rotate(0)"/><ellipse rx="0.6" ry="0.5" fill="#d2d838" transform="translate(4.6,-3.2) rotate(0)"/><ellipse rx="0.6" ry="0.5" fill="#d2d838" transform="translate(-4.2,-5.0) rotate(0)"/><ellipse rx="0.6" ry="0.5" fill="#2f52d4" transform="translate(-3.0,-4.3) rotate(0)"/><ellipse rx="0.6" ry="0.5" fill="#d2d838" transform="translate(-1.6,-5.4) rotate(0)"/><ellipse rx="0.6" ry="0.5" fill="#2f52d4" transform="translate(-0.4,-4.5) rotate(0)"/><ellipse rx="0.6" ry="0.5" fill="#d2d838" transform="translate(1.4,-5.5) rotate(0)"/><ellipse rx="0.6" ry="0.5" fill="#2f52d4" transform="translate(2.5,-4.6) rotate(0)"/><ellipse rx="0.5" ry="0.4" fill="#2a8ae0" transform="translate(0.4,-6.6) rotate(0)"/><ellipse rx="0.5" ry="0.4" fill="#d2d838" transform="translate(-2.6,-6.4) rotate(0)"/><ellipse rx="0.8" ry="0.5" fill="#2f52d4" transform="translate(-5.6,-1.6) rotate(0)"/><ellipse rx="0.9" ry="0.4" fill="#e4da24" transform="translate(-5.0,-0.3) rotate(0)"/><ellipse rx="0.8" ry="0.5" fill="#2f52d4" transform="translate(-5.3,1.2) rotate(0)"/><ellipse rx="0.5" ry="0.4" fill="#d2d838" transform="translate(-6.6,0.4) rotate(0)"/><ellipse rx="2.0" ry="0.7" fill="#2a8ae0" transform="translate(-4.4,6.8) rotate(25)"/><ellipse rx="1.2" ry="0.7" fill="#2a8ae0" transform="translate(0.2,6.4) rotate(0)"/><ellipse rx="0.7" ry="1.0" fill="#d2d838" transform="translate(2.6,5.0) rotate(20)"/><ellipse rx="0.6" ry="0.8" fill="#2a8ae0" transform="translate(3.6,6.0) rotate(20)"/><ellipse rx="0.6" ry="0.8" fill="#2f52d4" transform="translate(-0.4,4.8) rotate(0)"/><ellipse rx="0.9" ry="0.5" fill="#a4d054" transform="translate(-6.2,3.4) rotate(20)"/></g>
<g filter="url(#bb)" transform="translate(402.2,347.9) scale(1.15)"><ellipse rx="2.4" ry="1.1" fill="#e4da24" transform="translate(-3.7,5.0) rotate(25)"/><ellipse rx="2.0" ry="1.1" fill="#3a30c0" transform="translate(-2.1,2.4) rotate(10)"/><ellipse rx="0.9" ry="1.3" fill="#3a30c0" transform="translate(2.8,1.7) rotate(0)"/><ellipse rx="0.9" ry="2.0" fill="#e4da24" transform="translate(0.9,-1.9) rotate(0)"/><ellipse rx="1.3" ry="0.8" fill="#e4da24" transform="translate(-2.4,-2.8) rotate(0)"/><ellipse rx="1.6" ry="0.5" fill="#3a30c0" transform="translate(-1.8,-1.2) rotate(0)"/><ellipse rx="0.7" ry="1.0" fill="#d2d838" transform="translate(0.5,3.4) rotate(0)"/><ellipse rx="1.0" ry="1.3" fill="#a4d054" transform="translate(4.8,3.4) rotate(0)"/><ellipse rx="1.2" ry="0.6" fill="#e4da24" transform="translate(-0.6,0.6) rotate(0)"/><ellipse rx="0.6" ry="0.6" fill="#2f52d4" transform="translate(1.2,0.4) rotate(0)"/><ellipse rx="0.45" ry="0.9" fill="#2f52d4" transform="translate(5.4,-1.6) rotate(-35)"/><ellipse rx="0.45" ry="0.9" fill="#d2d838" transform="translate(6.3,-1.0) rotate(-35)"/><ellipse rx="0.45" ry="0.9" fill="#2f52d4" transform="translate(7.2,-0.4) rotate(-35)"/><ellipse rx="0.45" ry="0.9" fill="#d2d838" transform="translate(8.1,0.2) rotate(-35)"/><ellipse rx="0.4" ry="0.8" fill="#2a8ae0" transform="translate(9.0,0.8) rotate(-35)"/><ellipse rx="0.5" ry="0.8" fill="#e4da24" transform="translate(4.4,-0.2) rotate(-35)"/><ellipse rx="0.6" ry="0.6" fill="#2f52d4" transform="translate(3.6,-2.4) rotate(0)"/><ellipse rx="0.6" ry="0.5" fill="#d2d838" transform="translate(4.6,-3.2) rotate(0)"/><ellipse rx="0.6" ry="0.5" fill="#d2d838" transform="translate(-4.2,-5.0) rotate(0)"/><ellipse rx="0.6" ry="0.5" fill="#2f52d4" transform="translate(-3.0,-4.3) rotate(0)"/><ellipse rx="0.6" ry="0.5" fill="#d2d838" transform="translate(-1.6,-5.4) rotate(0)"/><ellipse rx="0.6" ry="0.5" fill="#2f52d4" transform="translate(-0.4,-4.5) rotate(0)"/><ellipse rx="0.6" ry="0.5" fill="#d2d838" transform="translate(1.4,-5.5) rotate(0)"/><ellipse rx="0.6" ry="0.5" fill="#2f52d4" transform="translate(2.5,-4.6) rotate(0)"/><ellipse rx="0.5" ry="0.4" fill="#2a8ae0" transform="translate(0.4,-6.6) rotate(0)"/><ellipse rx="0.5" ry="0.4" fill="#d2d838" transform="translate(-2.6,-6.4) rotate(0)"/><ellipse rx="0.8" ry="0.5" fill="#2f52d4" transform="translate(-5.6,-1.6) rotate(0)"/><ellipse rx="0.9" ry="0.4" fill="#e4da24" transform="translate(-5.0,-0.3) rotate(0)"/><ellipse rx="0.8" ry="0.5" fill="#2f52d4" transform="translate(-5.3,1.2) rotate(0)"/><ellipse rx="0.5" ry="0.4" fill="#d2d838" transform="translate(-6.6,0.4) rotate(0)"/><ellipse rx="2.0" ry="0.7" fill="#2a8ae0" transform="translate(-4.4,6.8) rotate(25)"/><ellipse rx="1.2" ry="0.7" fill="#2a8ae0" transform="translate(0.2,6.4) rotate(0)"/><ellipse rx="0.7" ry="1.0" fill="#d2d838" transform="translate(2.6,5.0) rotate(20)"/><ellipse rx="0.6" ry="0.8" fill="#2a8ae0" transform="translate(3.6,6.0) rotate(20)"/><ellipse rx="0.6" ry="0.8" fill="#2f52d4" transform="translate(-0.4,4.8) rotate(0)"/><ellipse rx="0.9" ry="0.5" fill="#a4d054" transform="translate(-6.2,3.4) rotate(20)"/></g>
<text class="s" x="54.9" y="259" font-size="27">(c)</text>
<text class="s" x="296.5" y="260.5" font-size="27">(d)</text>
</svg></body></html>
